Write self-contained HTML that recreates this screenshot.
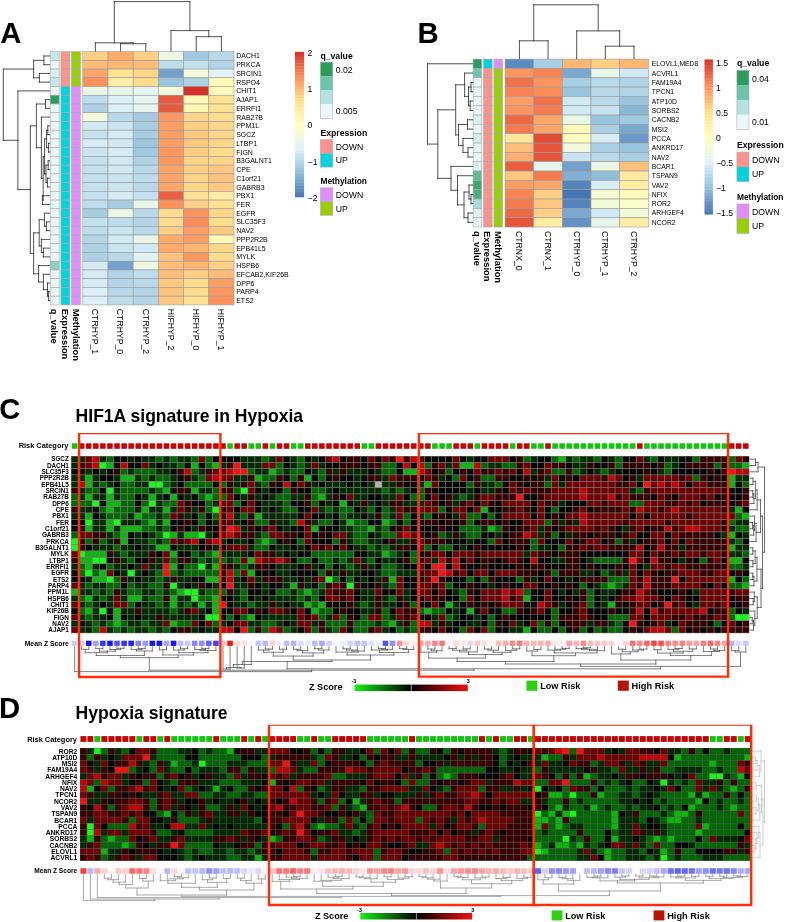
<!DOCTYPE html>
<html><head><meta charset="utf-8"><title>Figure</title>
<style>html,body{margin:0;padding:0;background:#fff}svg{display:block}text{font-family:"Liberation Sans", Arial, Helvetica, sans-serif}</style></head>
<body>
<svg width="785" height="922" viewBox="0 0 785 922" font-family='"Liberation Sans", Arial, Helvetica, sans-serif' fill="#000">
<text x="0.2" y="43.1" font-size="29.3" font-weight="700">A</text>
<rect x="50.2" y="51.6" width="9" height="8.73" fill="#c4e8e9" stroke="#a8a8a8" stroke-width="0.6"/>
<rect x="60.9" y="51.6" width="9" height="8.73" fill="#fc928c" stroke="#a8a8a8" stroke-width="0.6"/>
<rect x="71.5" y="51.6" width="9" height="8.73" fill="#9acd0a" stroke="#a8a8a8" stroke-width="0.6"/>
<rect x="50.2" y="60.34" width="9" height="8.73" fill="#e8f6f8" stroke="#a8a8a8" stroke-width="0.6"/>
<rect x="60.9" y="60.34" width="9" height="8.73" fill="#fc928c" stroke="#a8a8a8" stroke-width="0.6"/>
<rect x="71.5" y="60.34" width="9" height="8.73" fill="#9acd0a" stroke="#a8a8a8" stroke-width="0.6"/>
<rect x="50.2" y="69.07" width="9" height="8.73" fill="#d6eff1" stroke="#a8a8a8" stroke-width="0.6"/>
<rect x="60.9" y="69.07" width="9" height="8.73" fill="#fc928c" stroke="#a8a8a8" stroke-width="0.6"/>
<rect x="71.5" y="69.07" width="9" height="8.73" fill="#9acd0a" stroke="#a8a8a8" stroke-width="0.6"/>
<rect x="50.2" y="77.81" width="9" height="8.73" fill="#c4e8e9" stroke="#a8a8a8" stroke-width="0.6"/>
<rect x="60.9" y="77.81" width="9" height="8.73" fill="#fc928c" stroke="#a8a8a8" stroke-width="0.6"/>
<rect x="71.5" y="77.81" width="9" height="8.73" fill="#9acd0a" stroke="#a8a8a8" stroke-width="0.6"/>
<rect x="50.2" y="86.54" width="9" height="8.73" fill="#e8f6f8" stroke="#a8a8a8" stroke-width="0.6"/>
<rect x="60.9" y="86.54" width="9" height="8.73" fill="#02d3de" stroke="#a8a8a8" stroke-width="0.6"/>
<rect x="71.5" y="86.54" width="9" height="8.73" fill="#df8ffb" stroke="#a8a8a8" stroke-width="0.6"/>
<rect x="50.2" y="95.28" width="9" height="8.73" fill="#2a9d5c" stroke="#a8a8a8" stroke-width="0.6"/>
<rect x="60.9" y="95.28" width="9" height="8.73" fill="#02d3de" stroke="#a8a8a8" stroke-width="0.6"/>
<rect x="71.5" y="95.28" width="9" height="8.73" fill="#df8ffb" stroke="#a8a8a8" stroke-width="0.6"/>
<rect x="50.2" y="104.01" width="9" height="8.73" fill="#e8f6f8" stroke="#a8a8a8" stroke-width="0.6"/>
<rect x="60.9" y="104.01" width="9" height="8.73" fill="#02d3de" stroke="#a8a8a8" stroke-width="0.6"/>
<rect x="71.5" y="104.01" width="9" height="8.73" fill="#df8ffb" stroke="#a8a8a8" stroke-width="0.6"/>
<rect x="50.2" y="112.75" width="9" height="8.73" fill="#e8f6f8" stroke="#a8a8a8" stroke-width="0.6"/>
<rect x="60.9" y="112.75" width="9" height="8.73" fill="#02d3de" stroke="#a8a8a8" stroke-width="0.6"/>
<rect x="71.5" y="112.75" width="9" height="8.73" fill="#df8ffb" stroke="#a8a8a8" stroke-width="0.6"/>
<rect x="50.2" y="121.48" width="9" height="8.73" fill="#e8f6f8" stroke="#a8a8a8" stroke-width="0.6"/>
<rect x="60.9" y="121.48" width="9" height="8.73" fill="#02d3de" stroke="#a8a8a8" stroke-width="0.6"/>
<rect x="71.5" y="121.48" width="9" height="8.73" fill="#df8ffb" stroke="#a8a8a8" stroke-width="0.6"/>
<rect x="50.2" y="130.22" width="9" height="8.73" fill="#e8f6f8" stroke="#a8a8a8" stroke-width="0.6"/>
<rect x="60.9" y="130.22" width="9" height="8.73" fill="#02d3de" stroke="#a8a8a8" stroke-width="0.6"/>
<rect x="71.5" y="130.22" width="9" height="8.73" fill="#df8ffb" stroke="#a8a8a8" stroke-width="0.6"/>
<rect x="50.2" y="138.95" width="9" height="8.73" fill="#e8f6f8" stroke="#a8a8a8" stroke-width="0.6"/>
<rect x="60.9" y="138.95" width="9" height="8.73" fill="#02d3de" stroke="#a8a8a8" stroke-width="0.6"/>
<rect x="71.5" y="138.95" width="9" height="8.73" fill="#df8ffb" stroke="#a8a8a8" stroke-width="0.6"/>
<rect x="50.2" y="147.69" width="9" height="8.73" fill="#e8f6f8" stroke="#a8a8a8" stroke-width="0.6"/>
<rect x="60.9" y="147.69" width="9" height="8.73" fill="#02d3de" stroke="#a8a8a8" stroke-width="0.6"/>
<rect x="71.5" y="147.69" width="9" height="8.73" fill="#df8ffb" stroke="#a8a8a8" stroke-width="0.6"/>
<rect x="50.2" y="156.42" width="9" height="8.73" fill="#e8f6f8" stroke="#a8a8a8" stroke-width="0.6"/>
<rect x="60.9" y="156.42" width="9" height="8.73" fill="#02d3de" stroke="#a8a8a8" stroke-width="0.6"/>
<rect x="71.5" y="156.42" width="9" height="8.73" fill="#df8ffb" stroke="#a8a8a8" stroke-width="0.6"/>
<rect x="50.2" y="165.16" width="9" height="8.73" fill="#e8f6f8" stroke="#a8a8a8" stroke-width="0.6"/>
<rect x="60.9" y="165.16" width="9" height="8.73" fill="#02d3de" stroke="#a8a8a8" stroke-width="0.6"/>
<rect x="71.5" y="165.16" width="9" height="8.73" fill="#df8ffb" stroke="#a8a8a8" stroke-width="0.6"/>
<rect x="50.2" y="173.89" width="9" height="8.73" fill="#e8f6f8" stroke="#a8a8a8" stroke-width="0.6"/>
<rect x="60.9" y="173.89" width="9" height="8.73" fill="#02d3de" stroke="#a8a8a8" stroke-width="0.6"/>
<rect x="71.5" y="173.89" width="9" height="8.73" fill="#df8ffb" stroke="#a8a8a8" stroke-width="0.6"/>
<rect x="50.2" y="182.62" width="9" height="8.73" fill="#e8f6f8" stroke="#a8a8a8" stroke-width="0.6"/>
<rect x="60.9" y="182.62" width="9" height="8.73" fill="#02d3de" stroke="#a8a8a8" stroke-width="0.6"/>
<rect x="71.5" y="182.62" width="9" height="8.73" fill="#df8ffb" stroke="#a8a8a8" stroke-width="0.6"/>
<rect x="50.2" y="191.36" width="9" height="8.73" fill="#e8f6f8" stroke="#a8a8a8" stroke-width="0.6"/>
<rect x="60.9" y="191.36" width="9" height="8.73" fill="#02d3de" stroke="#a8a8a8" stroke-width="0.6"/>
<rect x="71.5" y="191.36" width="9" height="8.73" fill="#df8ffb" stroke="#a8a8a8" stroke-width="0.6"/>
<rect x="50.2" y="200.09" width="9" height="8.73" fill="#e8f6f8" stroke="#a8a8a8" stroke-width="0.6"/>
<rect x="60.9" y="200.09" width="9" height="8.73" fill="#02d3de" stroke="#a8a8a8" stroke-width="0.6"/>
<rect x="71.5" y="200.09" width="9" height="8.73" fill="#df8ffb" stroke="#a8a8a8" stroke-width="0.6"/>
<rect x="50.2" y="208.83" width="9" height="8.73" fill="#e8f6f8" stroke="#a8a8a8" stroke-width="0.6"/>
<rect x="60.9" y="208.83" width="9" height="8.73" fill="#02d3de" stroke="#a8a8a8" stroke-width="0.6"/>
<rect x="71.5" y="208.83" width="9" height="8.73" fill="#df8ffb" stroke="#a8a8a8" stroke-width="0.6"/>
<rect x="50.2" y="217.56" width="9" height="8.73" fill="#e8f6f8" stroke="#a8a8a8" stroke-width="0.6"/>
<rect x="60.9" y="217.56" width="9" height="8.73" fill="#02d3de" stroke="#a8a8a8" stroke-width="0.6"/>
<rect x="71.5" y="217.56" width="9" height="8.73" fill="#df8ffb" stroke="#a8a8a8" stroke-width="0.6"/>
<rect x="50.2" y="226.3" width="9" height="8.73" fill="#e8f6f8" stroke="#a8a8a8" stroke-width="0.6"/>
<rect x="60.9" y="226.3" width="9" height="8.73" fill="#02d3de" stroke="#a8a8a8" stroke-width="0.6"/>
<rect x="71.5" y="226.3" width="9" height="8.73" fill="#df8ffb" stroke="#a8a8a8" stroke-width="0.6"/>
<rect x="50.2" y="235.03" width="9" height="8.73" fill="#e8f6f8" stroke="#a8a8a8" stroke-width="0.6"/>
<rect x="60.9" y="235.03" width="9" height="8.73" fill="#02d3de" stroke="#a8a8a8" stroke-width="0.6"/>
<rect x="71.5" y="235.03" width="9" height="8.73" fill="#df8ffb" stroke="#a8a8a8" stroke-width="0.6"/>
<rect x="50.2" y="243.77" width="9" height="8.73" fill="#e8f6f8" stroke="#a8a8a8" stroke-width="0.6"/>
<rect x="60.9" y="243.77" width="9" height="8.73" fill="#02d3de" stroke="#a8a8a8" stroke-width="0.6"/>
<rect x="71.5" y="243.77" width="9" height="8.73" fill="#df8ffb" stroke="#a8a8a8" stroke-width="0.6"/>
<rect x="50.2" y="252.5" width="9" height="8.73" fill="#e8f6f8" stroke="#a8a8a8" stroke-width="0.6"/>
<rect x="60.9" y="252.5" width="9" height="8.73" fill="#02d3de" stroke="#a8a8a8" stroke-width="0.6"/>
<rect x="71.5" y="252.5" width="9" height="8.73" fill="#df8ffb" stroke="#a8a8a8" stroke-width="0.6"/>
<rect x="50.2" y="261.24" width="9" height="8.73" fill="#8fd0c3" stroke="#a8a8a8" stroke-width="0.6"/>
<rect x="60.9" y="261.24" width="9" height="8.73" fill="#02d3de" stroke="#a8a8a8" stroke-width="0.6"/>
<rect x="71.5" y="261.24" width="9" height="8.73" fill="#df8ffb" stroke="#a8a8a8" stroke-width="0.6"/>
<rect x="50.2" y="269.98" width="9" height="8.73" fill="#e8f6f8" stroke="#a8a8a8" stroke-width="0.6"/>
<rect x="60.9" y="269.98" width="9" height="8.73" fill="#02d3de" stroke="#a8a8a8" stroke-width="0.6"/>
<rect x="71.5" y="269.98" width="9" height="8.73" fill="#df8ffb" stroke="#a8a8a8" stroke-width="0.6"/>
<rect x="50.2" y="278.71" width="9" height="8.73" fill="#e8f6f8" stroke="#a8a8a8" stroke-width="0.6"/>
<rect x="60.9" y="278.71" width="9" height="8.73" fill="#02d3de" stroke="#a8a8a8" stroke-width="0.6"/>
<rect x="71.5" y="278.71" width="9" height="8.73" fill="#df8ffb" stroke="#a8a8a8" stroke-width="0.6"/>
<rect x="50.2" y="287.44" width="9" height="8.73" fill="#e8f6f8" stroke="#a8a8a8" stroke-width="0.6"/>
<rect x="60.9" y="287.44" width="9" height="8.73" fill="#02d3de" stroke="#a8a8a8" stroke-width="0.6"/>
<rect x="71.5" y="287.44" width="9" height="8.73" fill="#df8ffb" stroke="#a8a8a8" stroke-width="0.6"/>
<rect x="50.2" y="296.18" width="9" height="8.73" fill="#e8f6f8" stroke="#a8a8a8" stroke-width="0.6"/>
<rect x="60.9" y="296.18" width="9" height="8.73" fill="#02d3de" stroke="#a8a8a8" stroke-width="0.6"/>
<rect x="71.5" y="296.18" width="9" height="8.73" fill="#df8ffb" stroke="#a8a8a8" stroke-width="0.6"/>
<rect x="82.8" y="51.6" width="25.2" height="8.73" fill="#fecf85" stroke="#9a9a9a" stroke-width="0.6"/>
<rect x="108" y="51.6" width="25.2" height="8.73" fill="#fdaa6c" stroke="#9a9a9a" stroke-width="0.6"/>
<rect x="133.2" y="51.6" width="25.2" height="8.73" fill="#fecf85" stroke="#9a9a9a" stroke-width="0.6"/>
<rect x="158.4" y="51.6" width="25.2" height="8.73" fill="#eaf7e5" stroke="#9a9a9a" stroke-width="0.6"/>
<rect x="183.6" y="51.6" width="25.2" height="8.73" fill="#a1c9e1" stroke="#9a9a9a" stroke-width="0.6"/>
<rect x="208.8" y="51.6" width="25.2" height="8.73" fill="#b8d9ea" stroke="#9a9a9a" stroke-width="0.6"/>
<text x="236.2" y="58.49" font-size="7">DACH1</text>
<rect x="82.8" y="60.34" width="25.2" height="8.73" fill="#fdbd79" stroke="#9a9a9a" stroke-width="0.6"/>
<rect x="108" y="60.34" width="25.2" height="8.73" fill="#fdb674" stroke="#9a9a9a" stroke-width="0.6"/>
<rect x="133.2" y="60.34" width="25.2" height="8.73" fill="#fdbd79" stroke="#9a9a9a" stroke-width="0.6"/>
<rect x="158.4" y="60.34" width="25.2" height="8.73" fill="#beddec" stroke="#9a9a9a" stroke-width="0.6"/>
<rect x="183.6" y="60.34" width="25.2" height="8.73" fill="#c4e1ee" stroke="#9a9a9a" stroke-width="0.6"/>
<rect x="208.8" y="60.34" width="25.2" height="8.73" fill="#b3d5e7" stroke="#9a9a9a" stroke-width="0.6"/>
<text x="236.2" y="67.22" font-size="7">PRKCA</text>
<rect x="82.8" y="69.07" width="25.2" height="8.73" fill="#fda468" stroke="#9a9a9a" stroke-width="0.6"/>
<rect x="108" y="69.07" width="25.2" height="8.73" fill="#fee191" stroke="#9a9a9a" stroke-width="0.6"/>
<rect x="133.2" y="69.07" width="25.2" height="8.73" fill="#fed689" stroke="#9a9a9a" stroke-width="0.6"/>
<rect x="158.4" y="69.07" width="25.2" height="8.73" fill="#73a1cb" stroke="#9a9a9a" stroke-width="0.6"/>
<rect x="183.6" y="69.07" width="25.2" height="8.73" fill="#f1fad9" stroke="#9a9a9a" stroke-width="0.6"/>
<rect x="208.8" y="69.07" width="25.2" height="8.73" fill="#e1f3f7" stroke="#9a9a9a" stroke-width="0.6"/>
<text x="236.2" y="75.96" font-size="7">SRCIN1</text>
<rect x="82.8" y="77.81" width="25.2" height="8.73" fill="#fc915c" stroke="#9a9a9a" stroke-width="0.6"/>
<rect x="108" y="77.81" width="25.2" height="8.73" fill="#feefa6" stroke="#9a9a9a" stroke-width="0.6"/>
<rect x="133.2" y="77.81" width="25.2" height="8.73" fill="#fedc8d" stroke="#9a9a9a" stroke-width="0.6"/>
<rect x="158.4" y="77.81" width="25.2" height="8.73" fill="#9bc6df" stroke="#9a9a9a" stroke-width="0.6"/>
<rect x="183.6" y="77.81" width="25.2" height="8.73" fill="#add1e5" stroke="#9a9a9a" stroke-width="0.6"/>
<rect x="208.8" y="77.81" width="25.2" height="8.73" fill="#fffab8" stroke="#9a9a9a" stroke-width="0.6"/>
<text x="236.2" y="84.69" font-size="7">RSPO4</text>
<rect x="82.8" y="86.54" width="25.2" height="8.73" fill="#eaf7e5" stroke="#9a9a9a" stroke-width="0.6"/>
<rect x="108" y="86.54" width="25.2" height="8.73" fill="#e8f6ea" stroke="#9a9a9a" stroke-width="0.6"/>
<rect x="133.2" y="86.54" width="25.2" height="8.73" fill="#e5f5ee" stroke="#9a9a9a" stroke-width="0.6"/>
<rect x="158.4" y="86.54" width="25.2" height="8.73" fill="#f1fad9" stroke="#9a9a9a" stroke-width="0.6"/>
<rect x="183.6" y="86.54" width="25.2" height="8.73" fill="#d73027" stroke="#9a9a9a" stroke-width="0.6"/>
<rect x="208.8" y="86.54" width="25.2" height="8.73" fill="#fffab8" stroke="#9a9a9a" stroke-width="0.6"/>
<text x="236.2" y="93.43" font-size="7">CHIT1</text>
<rect x="82.8" y="95.28" width="25.2" height="8.73" fill="#beddec" stroke="#9a9a9a" stroke-width="0.6"/>
<rect x="108" y="95.28" width="25.2" height="8.73" fill="#dcf0f7" stroke="#9a9a9a" stroke-width="0.6"/>
<rect x="133.2" y="95.28" width="25.2" height="8.73" fill="#e3f4f2" stroke="#9a9a9a" stroke-width="0.6"/>
<rect x="158.4" y="95.28" width="25.2" height="8.73" fill="#e85a3d" stroke="#9a9a9a" stroke-width="0.6"/>
<rect x="183.6" y="95.28" width="25.2" height="8.73" fill="#fff8b4" stroke="#9a9a9a" stroke-width="0.6"/>
<rect x="208.8" y="95.28" width="25.2" height="8.73" fill="#fee191" stroke="#9a9a9a" stroke-width="0.6"/>
<text x="236.2" y="102.16" font-size="7">AJAP1</text>
<rect x="82.8" y="104.01" width="25.2" height="8.73" fill="#add1e5" stroke="#9a9a9a" stroke-width="0.6"/>
<rect x="108" y="104.01" width="25.2" height="8.73" fill="#dcf0f7" stroke="#9a9a9a" stroke-width="0.6"/>
<rect x="133.2" y="104.01" width="25.2" height="8.73" fill="#e5f5ee" stroke="#9a9a9a" stroke-width="0.6"/>
<rect x="158.4" y="104.01" width="25.2" height="8.73" fill="#e85a3d" stroke="#9a9a9a" stroke-width="0.6"/>
<rect x="183.6" y="104.01" width="25.2" height="8.73" fill="#fff6b1" stroke="#9a9a9a" stroke-width="0.6"/>
<rect x="208.8" y="104.01" width="25.2" height="8.73" fill="#fee395" stroke="#9a9a9a" stroke-width="0.6"/>
<text x="236.2" y="110.9" font-size="7">ERRFI1</text>
<rect x="82.8" y="112.75" width="25.2" height="8.73" fill="#f1fad9" stroke="#9a9a9a" stroke-width="0.6"/>
<rect x="108" y="112.75" width="25.2" height="8.73" fill="#b8d9ea" stroke="#9a9a9a" stroke-width="0.6"/>
<rect x="133.2" y="112.75" width="25.2" height="8.73" fill="#a1c9e1" stroke="#9a9a9a" stroke-width="0.6"/>
<rect x="158.4" y="112.75" width="25.2" height="8.73" fill="#fc9760" stroke="#9a9a9a" stroke-width="0.6"/>
<rect x="183.6" y="112.75" width="25.2" height="8.73" fill="#fed689" stroke="#9a9a9a" stroke-width="0.6"/>
<rect x="208.8" y="112.75" width="25.2" height="8.73" fill="#fedc8d" stroke="#9a9a9a" stroke-width="0.6"/>
<text x="236.2" y="119.63" font-size="7">RAB27B</text>
<rect x="82.8" y="121.48" width="25.2" height="8.73" fill="#d0e9f2" stroke="#9a9a9a" stroke-width="0.6"/>
<rect x="108" y="121.48" width="25.2" height="8.73" fill="#cae5f0" stroke="#9a9a9a" stroke-width="0.6"/>
<rect x="133.2" y="121.48" width="25.2" height="8.73" fill="#a7cde3" stroke="#9a9a9a" stroke-width="0.6"/>
<rect x="158.4" y="121.48" width="25.2" height="8.73" fill="#fc9e64" stroke="#9a9a9a" stroke-width="0.6"/>
<rect x="183.6" y="121.48" width="25.2" height="8.73" fill="#fecf85" stroke="#9a9a9a" stroke-width="0.6"/>
<rect x="208.8" y="121.48" width="25.2" height="8.73" fill="#fed689" stroke="#9a9a9a" stroke-width="0.6"/>
<text x="236.2" y="128.37" font-size="7">PPM1L</text>
<rect x="82.8" y="130.22" width="25.2" height="8.73" fill="#c4e1ee" stroke="#9a9a9a" stroke-width="0.6"/>
<rect x="108" y="130.22" width="25.2" height="8.73" fill="#d6ecf4" stroke="#9a9a9a" stroke-width="0.6"/>
<rect x="133.2" y="130.22" width="25.2" height="8.73" fill="#a7cde3" stroke="#9a9a9a" stroke-width="0.6"/>
<rect x="158.4" y="130.22" width="25.2" height="8.73" fill="#fc9e64" stroke="#9a9a9a" stroke-width="0.6"/>
<rect x="183.6" y="130.22" width="25.2" height="8.73" fill="#fdc981" stroke="#9a9a9a" stroke-width="0.6"/>
<rect x="208.8" y="130.22" width="25.2" height="8.73" fill="#fed689" stroke="#9a9a9a" stroke-width="0.6"/>
<text x="236.2" y="137.1" font-size="7">SGCZ</text>
<rect x="82.8" y="138.95" width="25.2" height="8.73" fill="#d6ecf4" stroke="#9a9a9a" stroke-width="0.6"/>
<rect x="108" y="138.95" width="25.2" height="8.73" fill="#d0e9f2" stroke="#9a9a9a" stroke-width="0.6"/>
<rect x="133.2" y="138.95" width="25.2" height="8.73" fill="#9bc6df" stroke="#9a9a9a" stroke-width="0.6"/>
<rect x="158.4" y="138.95" width="25.2" height="8.73" fill="#fc9e64" stroke="#9a9a9a" stroke-width="0.6"/>
<rect x="183.6" y="138.95" width="25.2" height="8.73" fill="#fdc981" stroke="#9a9a9a" stroke-width="0.6"/>
<rect x="208.8" y="138.95" width="25.2" height="8.73" fill="#fed689" stroke="#9a9a9a" stroke-width="0.6"/>
<text x="236.2" y="145.84" font-size="7">LTBP1</text>
<rect x="82.8" y="147.69" width="25.2" height="8.73" fill="#cae5f0" stroke="#9a9a9a" stroke-width="0.6"/>
<rect x="108" y="147.69" width="25.2" height="8.73" fill="#d6ecf4" stroke="#9a9a9a" stroke-width="0.6"/>
<rect x="133.2" y="147.69" width="25.2" height="8.73" fill="#a1c9e1" stroke="#9a9a9a" stroke-width="0.6"/>
<rect x="158.4" y="147.69" width="25.2" height="8.73" fill="#fc9760" stroke="#9a9a9a" stroke-width="0.6"/>
<rect x="183.6" y="147.69" width="25.2" height="8.73" fill="#fecf85" stroke="#9a9a9a" stroke-width="0.6"/>
<rect x="208.8" y="147.69" width="25.2" height="8.73" fill="#fedc8d" stroke="#9a9a9a" stroke-width="0.6"/>
<text x="236.2" y="154.57" font-size="7">FIGN</text>
<rect x="82.8" y="156.42" width="25.2" height="8.73" fill="#c4e1ee" stroke="#9a9a9a" stroke-width="0.6"/>
<rect x="108" y="156.42" width="25.2" height="8.73" fill="#d0e9f2" stroke="#9a9a9a" stroke-width="0.6"/>
<rect x="133.2" y="156.42" width="25.2" height="8.73" fill="#add1e5" stroke="#9a9a9a" stroke-width="0.6"/>
<rect x="158.4" y="156.42" width="25.2" height="8.73" fill="#fc9760" stroke="#9a9a9a" stroke-width="0.6"/>
<rect x="183.6" y="156.42" width="25.2" height="8.73" fill="#fed689" stroke="#9a9a9a" stroke-width="0.6"/>
<rect x="208.8" y="156.42" width="25.2" height="8.73" fill="#fed689" stroke="#9a9a9a" stroke-width="0.6"/>
<text x="236.2" y="163.31" font-size="7">B3GALNT1</text>
<rect x="82.8" y="165.16" width="25.2" height="8.73" fill="#c4e1ee" stroke="#9a9a9a" stroke-width="0.6"/>
<rect x="108" y="165.16" width="25.2" height="8.73" fill="#d0e9f2" stroke="#9a9a9a" stroke-width="0.6"/>
<rect x="133.2" y="165.16" width="25.2" height="8.73" fill="#b8d9ea" stroke="#9a9a9a" stroke-width="0.6"/>
<rect x="158.4" y="165.16" width="25.2" height="8.73" fill="#fda468" stroke="#9a9a9a" stroke-width="0.6"/>
<rect x="183.6" y="165.16" width="25.2" height="8.73" fill="#fecf85" stroke="#9a9a9a" stroke-width="0.6"/>
<rect x="208.8" y="165.16" width="25.2" height="8.73" fill="#fdc981" stroke="#9a9a9a" stroke-width="0.6"/>
<text x="236.2" y="172.04" font-size="7">CPE</text>
<rect x="82.8" y="173.89" width="25.2" height="8.73" fill="#c4e1ee" stroke="#9a9a9a" stroke-width="0.6"/>
<rect x="108" y="173.89" width="25.2" height="8.73" fill="#cae5f0" stroke="#9a9a9a" stroke-width="0.6"/>
<rect x="133.2" y="173.89" width="25.2" height="8.73" fill="#beddec" stroke="#9a9a9a" stroke-width="0.6"/>
<rect x="158.4" y="173.89" width="25.2" height="8.73" fill="#fda468" stroke="#9a9a9a" stroke-width="0.6"/>
<rect x="183.6" y="173.89" width="25.2" height="8.73" fill="#fed689" stroke="#9a9a9a" stroke-width="0.6"/>
<rect x="208.8" y="173.89" width="25.2" height="8.73" fill="#fdc37d" stroke="#9a9a9a" stroke-width="0.6"/>
<text x="236.2" y="180.78" font-size="7">C1orf21</text>
<rect x="82.8" y="182.62" width="25.2" height="8.73" fill="#c4e1ee" stroke="#9a9a9a" stroke-width="0.6"/>
<rect x="108" y="182.62" width="25.2" height="8.73" fill="#cae5f0" stroke="#9a9a9a" stroke-width="0.6"/>
<rect x="133.2" y="182.62" width="25.2" height="8.73" fill="#b8d9ea" stroke="#9a9a9a" stroke-width="0.6"/>
<rect x="158.4" y="182.62" width="25.2" height="8.73" fill="#fda468" stroke="#9a9a9a" stroke-width="0.6"/>
<rect x="183.6" y="182.62" width="25.2" height="8.73" fill="#fed689" stroke="#9a9a9a" stroke-width="0.6"/>
<rect x="208.8" y="182.62" width="25.2" height="8.73" fill="#fdc981" stroke="#9a9a9a" stroke-width="0.6"/>
<text x="236.2" y="189.51" font-size="7">GABRB3</text>
<rect x="82.8" y="191.36" width="25.2" height="8.73" fill="#c4e1ee" stroke="#9a9a9a" stroke-width="0.6"/>
<rect x="108" y="191.36" width="25.2" height="8.73" fill="#d6ecf4" stroke="#9a9a9a" stroke-width="0.6"/>
<rect x="133.2" y="191.36" width="25.2" height="8.73" fill="#c4e1ee" stroke="#9a9a9a" stroke-width="0.6"/>
<rect x="158.4" y="191.36" width="25.2" height="8.73" fill="#ea6141" stroke="#9a9a9a" stroke-width="0.6"/>
<rect x="183.6" y="191.36" width="25.2" height="8.73" fill="#fee395" stroke="#9a9a9a" stroke-width="0.6"/>
<rect x="208.8" y="191.36" width="25.2" height="8.73" fill="#feeca3" stroke="#9a9a9a" stroke-width="0.6"/>
<text x="236.2" y="198.25" font-size="7">PBX1</text>
<rect x="82.8" y="200.09" width="25.2" height="8.73" fill="#beddec" stroke="#9a9a9a" stroke-width="0.6"/>
<rect x="108" y="200.09" width="25.2" height="8.73" fill="#a7cde3" stroke="#9a9a9a" stroke-width="0.6"/>
<rect x="133.2" y="200.09" width="25.2" height="8.73" fill="#e8f6ea" stroke="#9a9a9a" stroke-width="0.6"/>
<rect x="158.4" y="200.09" width="25.2" height="8.73" fill="#fc915c" stroke="#9a9a9a" stroke-width="0.6"/>
<rect x="183.6" y="200.09" width="25.2" height="8.73" fill="#fecf85" stroke="#9a9a9a" stroke-width="0.6"/>
<rect x="208.8" y="200.09" width="25.2" height="8.73" fill="#fee191" stroke="#9a9a9a" stroke-width="0.6"/>
<text x="236.2" y="206.98" font-size="7">FER</text>
<rect x="82.8" y="208.83" width="25.2" height="8.73" fill="#a7cde3" stroke="#9a9a9a" stroke-width="0.6"/>
<rect x="108" y="208.83" width="25.2" height="8.73" fill="#eaf7e5" stroke="#9a9a9a" stroke-width="0.6"/>
<rect x="133.2" y="208.83" width="25.2" height="8.73" fill="#b8d9ea" stroke="#9a9a9a" stroke-width="0.6"/>
<rect x="158.4" y="208.83" width="25.2" height="8.73" fill="#fedc8d" stroke="#9a9a9a" stroke-width="0.6"/>
<rect x="183.6" y="208.83" width="25.2" height="8.73" fill="#fc915c" stroke="#9a9a9a" stroke-width="0.6"/>
<rect x="208.8" y="208.83" width="25.2" height="8.73" fill="#fed689" stroke="#9a9a9a" stroke-width="0.6"/>
<text x="236.2" y="215.72" font-size="7">EGFR</text>
<rect x="82.8" y="217.56" width="25.2" height="8.73" fill="#c4e1ee" stroke="#9a9a9a" stroke-width="0.6"/>
<rect x="108" y="217.56" width="25.2" height="8.73" fill="#beddec" stroke="#9a9a9a" stroke-width="0.6"/>
<rect x="133.2" y="217.56" width="25.2" height="8.73" fill="#b3d5e7" stroke="#9a9a9a" stroke-width="0.6"/>
<rect x="158.4" y="217.56" width="25.2" height="8.73" fill="#fedc8d" stroke="#9a9a9a" stroke-width="0.6"/>
<rect x="183.6" y="217.56" width="25.2" height="8.73" fill="#fb8b58" stroke="#9a9a9a" stroke-width="0.6"/>
<rect x="208.8" y="217.56" width="25.2" height="8.73" fill="#fedc8d" stroke="#9a9a9a" stroke-width="0.6"/>
<text x="236.2" y="224.45" font-size="7">SLC35F3</text>
<rect x="82.8" y="226.3" width="25.2" height="8.73" fill="#beddec" stroke="#9a9a9a" stroke-width="0.6"/>
<rect x="108" y="226.3" width="25.2" height="8.73" fill="#cae5f0" stroke="#9a9a9a" stroke-width="0.6"/>
<rect x="133.2" y="226.3" width="25.2" height="8.73" fill="#b8d9ea" stroke="#9a9a9a" stroke-width="0.6"/>
<rect x="158.4" y="226.3" width="25.2" height="8.73" fill="#fecf85" stroke="#9a9a9a" stroke-width="0.6"/>
<rect x="183.6" y="226.3" width="25.2" height="8.73" fill="#fc9e64" stroke="#9a9a9a" stroke-width="0.6"/>
<rect x="208.8" y="226.3" width="25.2" height="8.73" fill="#fdc981" stroke="#9a9a9a" stroke-width="0.6"/>
<text x="236.2" y="233.19" font-size="7">NAV2</text>
<rect x="82.8" y="235.03" width="25.2" height="8.73" fill="#b3d5e7" stroke="#9a9a9a" stroke-width="0.6"/>
<rect x="108" y="235.03" width="25.2" height="8.73" fill="#d0e9f2" stroke="#9a9a9a" stroke-width="0.6"/>
<rect x="133.2" y="235.03" width="25.2" height="8.73" fill="#e8f6ea" stroke="#9a9a9a" stroke-width="0.6"/>
<rect x="158.4" y="235.03" width="25.2" height="8.73" fill="#fdaa6c" stroke="#9a9a9a" stroke-width="0.6"/>
<rect x="183.6" y="235.03" width="25.2" height="8.73" fill="#fc9e64" stroke="#9a9a9a" stroke-width="0.6"/>
<rect x="208.8" y="235.03" width="25.2" height="8.73" fill="#fff8b4" stroke="#9a9a9a" stroke-width="0.6"/>
<text x="236.2" y="241.92" font-size="7">PPP2R2B</text>
<rect x="82.8" y="243.77" width="25.2" height="8.73" fill="#add1e5" stroke="#9a9a9a" stroke-width="0.6"/>
<rect x="108" y="243.77" width="25.2" height="8.73" fill="#cae5f0" stroke="#9a9a9a" stroke-width="0.6"/>
<rect x="133.2" y="243.77" width="25.2" height="8.73" fill="#d0e9f2" stroke="#9a9a9a" stroke-width="0.6"/>
<rect x="158.4" y="243.77" width="25.2" height="8.73" fill="#fdaa6c" stroke="#9a9a9a" stroke-width="0.6"/>
<rect x="183.6" y="243.77" width="25.2" height="8.73" fill="#fdb674" stroke="#9a9a9a" stroke-width="0.6"/>
<rect x="208.8" y="243.77" width="25.2" height="8.73" fill="#fed689" stroke="#9a9a9a" stroke-width="0.6"/>
<text x="236.2" y="250.66" font-size="7">EPB41L5</text>
<rect x="82.8" y="252.5" width="25.2" height="8.73" fill="#add1e5" stroke="#9a9a9a" stroke-width="0.6"/>
<rect x="108" y="252.5" width="25.2" height="8.73" fill="#b8d9ea" stroke="#9a9a9a" stroke-width="0.6"/>
<rect x="133.2" y="252.5" width="25.2" height="8.73" fill="#e1f3f7" stroke="#9a9a9a" stroke-width="0.6"/>
<rect x="158.4" y="252.5" width="25.2" height="8.73" fill="#fdc37d" stroke="#9a9a9a" stroke-width="0.6"/>
<rect x="183.6" y="252.5" width="25.2" height="8.73" fill="#fc9760" stroke="#9a9a9a" stroke-width="0.6"/>
<rect x="208.8" y="252.5" width="25.2" height="8.73" fill="#fedc8d" stroke="#9a9a9a" stroke-width="0.6"/>
<text x="236.2" y="259.39" font-size="7">MYLK</text>
<rect x="82.8" y="261.24" width="25.2" height="8.73" fill="#d6ecf4" stroke="#9a9a9a" stroke-width="0.6"/>
<rect x="108" y="261.24" width="25.2" height="8.73" fill="#73a1cb" stroke="#9a9a9a" stroke-width="0.6"/>
<rect x="133.2" y="261.24" width="25.2" height="8.73" fill="#ecf8e1" stroke="#9a9a9a" stroke-width="0.6"/>
<rect x="158.4" y="261.24" width="25.2" height="8.73" fill="#fdbd79" stroke="#9a9a9a" stroke-width="0.6"/>
<rect x="183.6" y="261.24" width="25.2" height="8.73" fill="#fdb674" stroke="#9a9a9a" stroke-width="0.6"/>
<rect x="208.8" y="261.24" width="25.2" height="8.73" fill="#fecf85" stroke="#9a9a9a" stroke-width="0.6"/>
<text x="236.2" y="268.13" font-size="7">HSPB6</text>
<rect x="82.8" y="269.98" width="25.2" height="8.73" fill="#d6ecf4" stroke="#9a9a9a" stroke-width="0.6"/>
<rect x="108" y="269.98" width="25.2" height="8.73" fill="#b3d5e7" stroke="#9a9a9a" stroke-width="0.6"/>
<rect x="133.2" y="269.98" width="25.2" height="8.73" fill="#beddec" stroke="#9a9a9a" stroke-width="0.6"/>
<rect x="158.4" y="269.98" width="25.2" height="8.73" fill="#fdbd79" stroke="#9a9a9a" stroke-width="0.6"/>
<rect x="183.6" y="269.98" width="25.2" height="8.73" fill="#fecf85" stroke="#9a9a9a" stroke-width="0.6"/>
<rect x="208.8" y="269.98" width="25.2" height="8.73" fill="#fdbd79" stroke="#9a9a9a" stroke-width="0.6"/>
<text x="236.2" y="276.86" font-size="7">EFCAB2,KIF26B</text>
<rect x="82.8" y="278.71" width="25.2" height="8.73" fill="#d6ecf4" stroke="#9a9a9a" stroke-width="0.6"/>
<rect x="108" y="278.71" width="25.2" height="8.73" fill="#b3d5e7" stroke="#9a9a9a" stroke-width="0.6"/>
<rect x="133.2" y="278.71" width="25.2" height="8.73" fill="#b8d9ea" stroke="#9a9a9a" stroke-width="0.6"/>
<rect x="158.4" y="278.71" width="25.2" height="8.73" fill="#fdc981" stroke="#9a9a9a" stroke-width="0.6"/>
<rect x="183.6" y="278.71" width="25.2" height="8.73" fill="#fedc8d" stroke="#9a9a9a" stroke-width="0.6"/>
<rect x="208.8" y="278.71" width="25.2" height="8.73" fill="#fc9e64" stroke="#9a9a9a" stroke-width="0.6"/>
<text x="236.2" y="285.6" font-size="7">DPP6</text>
<rect x="82.8" y="287.44" width="25.2" height="8.73" fill="#dcf0f7" stroke="#9a9a9a" stroke-width="0.6"/>
<rect x="108" y="287.44" width="25.2" height="8.73" fill="#b8d9ea" stroke="#9a9a9a" stroke-width="0.6"/>
<rect x="133.2" y="287.44" width="25.2" height="8.73" fill="#b3d5e7" stroke="#9a9a9a" stroke-width="0.6"/>
<rect x="158.4" y="287.44" width="25.2" height="8.73" fill="#fdc37d" stroke="#9a9a9a" stroke-width="0.6"/>
<rect x="183.6" y="287.44" width="25.2" height="8.73" fill="#fedc8d" stroke="#9a9a9a" stroke-width="0.6"/>
<rect x="208.8" y="287.44" width="25.2" height="8.73" fill="#fc9760" stroke="#9a9a9a" stroke-width="0.6"/>
<text x="236.2" y="294.33" font-size="7">PARP4</text>
<rect x="82.8" y="296.18" width="25.2" height="8.73" fill="#dcf0f7" stroke="#9a9a9a" stroke-width="0.6"/>
<rect x="108" y="296.18" width="25.2" height="8.73" fill="#beddec" stroke="#9a9a9a" stroke-width="0.6"/>
<rect x="133.2" y="296.18" width="25.2" height="8.73" fill="#b3d5e7" stroke="#9a9a9a" stroke-width="0.6"/>
<rect x="158.4" y="296.18" width="25.2" height="8.73" fill="#fdc981" stroke="#9a9a9a" stroke-width="0.6"/>
<rect x="183.6" y="296.18" width="25.2" height="8.73" fill="#fee191" stroke="#9a9a9a" stroke-width="0.6"/>
<rect x="208.8" y="296.18" width="25.2" height="8.73" fill="#fc915c" stroke="#9a9a9a" stroke-width="0.6"/>
<text x="236.2" y="303.07" font-size="7">ETS2</text>
<text transform="translate(92.27 308.8) rotate(90)" font-size="8.7">CTRHYP_1</text>
<text transform="translate(117.47 308.8) rotate(90)" font-size="8.7">CTRHYP_0</text>
<text transform="translate(142.67 308.8) rotate(90)" font-size="8.7">CTRHYP_2</text>
<text transform="translate(167.87 308.8) rotate(90)" font-size="8.7">HIFHYP_2</text>
<text transform="translate(193.07 308.8) rotate(90)" font-size="8.7">HIFHYP_0</text>
<text transform="translate(218.27 308.8) rotate(90)" font-size="8.7">HIFHYP_1</text>
<text transform="translate(51.32 308.8) rotate(90)" font-size="9.4" font-weight="700">q_value</text>
<text transform="translate(62.02 308.8) rotate(90)" font-size="9.4" font-weight="700">Expression</text>
<text transform="translate(72.62 308.8) rotate(90)" font-size="9.4" font-weight="700">Methylation</text>
<path d="M120.6 51L120.6 43.7M145.8 51L145.8 43.7M120.6 43.7L145.8 43.7M95.4 51L95.4 42.8M133.2 43.7L133.2 42.8M95.4 42.8L133.2 42.8M196.2 51L196.2 36.7M221.4 51L221.4 36.7M196.2 36.7L221.4 36.7M171 51L171 30.6M208.8 36.7L208.8 30.6M171 30.6L208.8 30.6M114.3 42.8L114.3 1.6M189.9 30.6L189.9 1.6M114.3 1.6L189.9 1.6M49.6 55.97L43.9 55.97M49.6 64.7L43.9 64.7M43.9 55.97L43.9 64.7M49.6 73.44L39.4 73.44M49.6 82.17L39.4 82.17M39.4 73.44L39.4 82.17M43.9 60.34L33.6 60.34M39.4 77.81L33.6 77.81M33.6 60.34L33.6 77.81M49.6 99.64L45.5 99.64M49.6 108.38L45.5 108.38M45.5 99.64L45.5 108.38M49.6 125.85L47.8 125.85M49.6 134.58L47.8 134.58M47.8 125.85L47.8 134.58M49.6 143.32L48.6 143.32M49.6 152.05L48.6 152.05M48.6 143.32L48.6 152.05M47.8 130.21L46.6 130.21M48.6 147.69L46.6 147.69M46.6 130.21L46.6 147.69M49.6 160.79L48.2 160.79M49.6 169.52L48.2 169.52M48.2 160.79L48.2 169.52M49.6 178.26L47.4 178.26M49.6 186.99L47.4 186.99M47.4 178.26L47.4 186.99M48.2 165.15L46 165.15M47.4 182.62L46 182.62M46 165.15L46 182.62M46.6 138.95L44.6 138.95M46 173.89L44.6 173.89M44.6 138.95L44.6 173.89M49.6 195.73L42.4 195.73M49.6 204.46L42.4 204.46M42.4 195.73L42.4 204.46M44.6 156.42L43.2 156.42M42.4 200.09L43.2 200.09M43.2 156.42L43.2 200.09M49.6 117.11L41.4 117.11M43.2 178.26L41.4 178.26M41.4 117.11L41.4 178.26M45.5 104.01L36.4 104.01M41.4 147.69L36.4 147.69M36.4 104.01L36.4 147.69M49.6 221.93L46.4 221.93M49.6 230.67L46.4 230.67M46.4 221.93L46.4 230.67M49.6 213.2L44.4 213.2M46.4 226.3L44.4 226.3M44.4 213.2L44.4 226.3M49.6 248.14L43.4 248.14M49.6 256.87L43.4 256.87M43.4 248.14L43.4 256.87M49.6 239.4L41.4 239.4M43.4 252.5L41.4 252.5M41.4 239.4L41.4 252.5M44.4 219.75L39.2 219.75M41.4 245.95L39.2 245.95M39.2 219.75L39.2 245.95M49.6 291.81L48.6 291.81M49.6 300.55L48.6 300.55M48.6 291.81L48.6 300.55M49.6 283.08L47.5 283.08M48.6 296.18L47.5 296.18M47.5 283.08L47.5 296.18M49.6 274.34L43.4 274.34M47.5 289.63L43.4 289.63M43.4 274.34L43.4 289.63M49.6 265.61L38.6 265.61M43.4 281.99L38.6 281.99M38.6 265.61L38.6 281.99M39.2 232.85L33.6 232.85M38.6 273.8L33.6 273.8M33.6 232.85L33.6 273.8M36.4 125.85L30.3 125.85M33.6 253.32L30.3 253.32M30.3 125.85L30.3 253.32M49.6 90.91L17.9 90.91M30.3 189.59L17.9 189.59M17.9 90.91L17.9 189.59M33.6 69.07L3.3 69.07M17.9 140.25L3.3 140.25M3.3 69.07L3.3 140.25" stroke="#1a1a1a" stroke-width="0.75" fill="none" stroke-linecap="square"/>
<rect x="295" y="51.8" width="9.1" height="3.2" fill="#d9362a"/>
<rect x="295" y="54.7" width="9.1" height="3.2" fill="#de4130"/>
<rect x="295" y="57.61" width="9.1" height="3.2" fill="#e24c36"/>
<rect x="295" y="60.51" width="9.1" height="3.2" fill="#e7573c"/>
<rect x="295" y="63.42" width="9.1" height="3.2" fill="#eb6242"/>
<rect x="295" y="66.32" width="9.1" height="3.2" fill="#ef6d48"/>
<rect x="295" y="69.22" width="9.1" height="3.2" fill="#f4794e"/>
<rect x="295" y="72.13" width="9.1" height="3.2" fill="#f88454"/>
<rect x="295" y="75.03" width="9.1" height="3.2" fill="#fc8f5a"/>
<rect x="295" y="77.94" width="9.1" height="3.2" fill="#fc9961"/>
<rect x="295" y="80.84" width="9.1" height="3.2" fill="#fda367"/>
<rect x="295" y="83.74" width="9.1" height="3.2" fill="#fdad6e"/>
<rect x="295" y="86.65" width="9.1" height="3.2" fill="#fdb674"/>
<rect x="295" y="89.55" width="9.1" height="3.2" fill="#fdc07b"/>
<rect x="295" y="92.46" width="9.1" height="3.2" fill="#fdca82"/>
<rect x="295" y="95.36" width="9.1" height="3.2" fill="#fed488"/>
<rect x="295" y="98.26" width="9.1" height="3.2" fill="#fede8f"/>
<rect x="295" y="101.17" width="9.1" height="3.2" fill="#fee395"/>
<rect x="295" y="104.07" width="9.1" height="3.2" fill="#fee79a"/>
<rect x="295" y="106.98" width="9.1" height="3.2" fill="#feeba0"/>
<rect x="295" y="109.88" width="9.1" height="3.2" fill="#feeea6"/>
<rect x="295" y="112.78" width="9.1" height="3.2" fill="#fff2ab"/>
<rect x="295" y="115.69" width="9.1" height="3.2" fill="#fff6b1"/>
<rect x="295" y="118.59" width="9.1" height="3.2" fill="#fff9b7"/>
<rect x="295" y="121.5" width="9.1" height="3.2" fill="#fffdbc"/>
<rect x="295" y="124.4" width="9.1" height="3.2" fill="#fdfec2"/>
<rect x="295" y="127.3" width="9.1" height="3.2" fill="#f9fdc9"/>
<rect x="295" y="130.21" width="9.1" height="3.2" fill="#f6fbd0"/>
<rect x="295" y="133.11" width="9.1" height="3.2" fill="#f2fad7"/>
<rect x="295" y="136.02" width="9.1" height="3.2" fill="#eef9de"/>
<rect x="295" y="138.92" width="9.1" height="3.2" fill="#ebf7e5"/>
<rect x="295" y="141.82" width="9.1" height="3.2" fill="#e7f6eb"/>
<rect x="295" y="144.73" width="9.1" height="3.2" fill="#e3f4f2"/>
<rect x="295" y="147.63" width="9.1" height="3.2" fill="#def2f7"/>
<rect x="295" y="150.54" width="9.1" height="3.2" fill="#d5ecf4"/>
<rect x="295" y="153.44" width="9.1" height="3.2" fill="#cbe5f0"/>
<rect x="295" y="156.34" width="9.1" height="3.2" fill="#c2dfed"/>
<rect x="295" y="159.25" width="9.1" height="3.2" fill="#b8d9ea"/>
<rect x="295" y="162.15" width="9.1" height="3.2" fill="#afd3e6"/>
<rect x="295" y="165.06" width="9.1" height="3.2" fill="#a6cde3"/>
<rect x="295" y="167.96" width="9.1" height="3.2" fill="#9cc6df"/>
<rect x="295" y="170.86" width="9.1" height="3.2" fill="#93c0dc"/>
<rect x="295" y="173.77" width="9.1" height="3.2" fill="#89b8d7"/>
<rect x="295" y="176.67" width="9.1" height="3.2" fill="#80afd2"/>
<rect x="295" y="179.58" width="9.1" height="3.2" fill="#77a6ce"/>
<rect x="295" y="182.48" width="9.1" height="3.2" fill="#6e9dc9"/>
<rect x="295" y="185.38" width="9.1" height="3.2" fill="#6594c4"/>
<rect x="295" y="188.29" width="9.1" height="3.2" fill="#5c8bc0"/>
<rect x="295" y="191.19" width="9.1" height="3.2" fill="#5382bb"/>
<rect x="295" y="194.1" width="9.1" height="3.2" fill="#4a79b6"/>
<text x="307.6" y="56" font-size="8.7">2</text>
<text x="307.6" y="92.3" font-size="8.7">1</text>
<text x="307.6" y="128.3" font-size="8.7">0</text>
<text x="307.6" y="164.5" font-size="8.7">−1</text>
<text x="307.6" y="201.2" font-size="8.7">−2</text>
<text x="320.4" y="58.7" font-size="8.7" font-weight="700">q_value</text>
<rect x="320.4" y="62.1" width="12.4" height="14.25" fill="#2a9d5c"/>
<rect x="320.4" y="76.15" width="12.4" height="14.25" fill="#6cc4aa"/>
<rect x="320.4" y="90.2" width="12.4" height="14.25" fill="#b4e2e0"/>
<rect x="320.4" y="104.25" width="12.4" height="14.25" fill="#ecf7f9"/>
<rect x="320.4" y="62.1" width="12.4" height="56.2" fill="none" stroke="#b0b0b0" stroke-width="0.6"/>
<text x="335.8" y="72.96" font-size="8.7">0.02</text>
<text x="335.8" y="114.41" font-size="8.7">0.005</text>
<text x="320.4" y="135.5" font-size="8.7" font-weight="700">Expression</text>
<rect x="320.4" y="139.6" width="12.4" height="13.75" fill="#fc928c" stroke="#b0b0b0" stroke-width="0.6"/>
<text x="335.8" y="149.61" font-size="8.7">DOWN</text>
<rect x="320.4" y="153.35" width="12.4" height="13.75" fill="#02d3de" stroke="#b0b0b0" stroke-width="0.6"/>
<text x="335.8" y="163.36" font-size="8.7">UP</text>
<text x="320.4" y="184" font-size="8.7" font-weight="700" textLength="46.6" lengthAdjust="spacingAndGlyphs">Methylation</text>
<rect x="320.4" y="187.8" width="12.4" height="13.75" fill="#df8ffb" stroke="#b0b0b0" stroke-width="0.6"/>
<text x="335.8" y="197.81" font-size="8.7">DOWN</text>
<rect x="320.4" y="201.55" width="12.4" height="13.75" fill="#9acd0a" stroke="#b0b0b0" stroke-width="0.6"/>
<text x="335.8" y="211.56" font-size="8.7">UP</text>
<text x="417.4" y="43.1" font-size="29.3" font-weight="700">B</text>
<rect x="473.1" y="59.1" width="8.6" height="9.33" fill="#2a9d5c" stroke="#a8a8a8" stroke-width="0.6"/>
<rect x="483.5" y="59.1" width="8.6" height="9.33" fill="#02d3de" stroke="#a8a8a8" stroke-width="0.6"/>
<rect x="493.9" y="59.1" width="8.6" height="9.33" fill="#df8ffb" stroke="#a8a8a8" stroke-width="0.6"/>
<rect x="473.1" y="68.43" width="8.6" height="9.33" fill="#70c5ad" stroke="#a8a8a8" stroke-width="0.6"/>
<rect x="483.5" y="68.43" width="8.6" height="9.33" fill="#fc928c" stroke="#a8a8a8" stroke-width="0.6"/>
<rect x="493.9" y="68.43" width="8.6" height="9.33" fill="#9acd0a" stroke="#a8a8a8" stroke-width="0.6"/>
<rect x="473.1" y="77.76" width="8.6" height="9.33" fill="#e8f6f8" stroke="#a8a8a8" stroke-width="0.6"/>
<rect x="483.5" y="77.76" width="8.6" height="9.33" fill="#fc928c" stroke="#a8a8a8" stroke-width="0.6"/>
<rect x="493.9" y="77.76" width="8.6" height="9.33" fill="#9acd0a" stroke="#a8a8a8" stroke-width="0.6"/>
<rect x="473.1" y="87.09" width="8.6" height="9.33" fill="#e8f6f8" stroke="#a8a8a8" stroke-width="0.6"/>
<rect x="483.5" y="87.09" width="8.6" height="9.33" fill="#fc928c" stroke="#a8a8a8" stroke-width="0.6"/>
<rect x="493.9" y="87.09" width="8.6" height="9.33" fill="#9acd0a" stroke="#a8a8a8" stroke-width="0.6"/>
<rect x="473.1" y="96.42" width="8.6" height="9.33" fill="#e8f6f8" stroke="#a8a8a8" stroke-width="0.6"/>
<rect x="483.5" y="96.42" width="8.6" height="9.33" fill="#fc928c" stroke="#a8a8a8" stroke-width="0.6"/>
<rect x="493.9" y="96.42" width="8.6" height="9.33" fill="#9acd0a" stroke="#a8a8a8" stroke-width="0.6"/>
<rect x="473.1" y="105.75" width="8.6" height="9.33" fill="#e8f6f8" stroke="#a8a8a8" stroke-width="0.6"/>
<rect x="483.5" y="105.75" width="8.6" height="9.33" fill="#fc928c" stroke="#a8a8a8" stroke-width="0.6"/>
<rect x="493.9" y="105.75" width="8.6" height="9.33" fill="#9acd0a" stroke="#a8a8a8" stroke-width="0.6"/>
<rect x="473.1" y="115.08" width="8.6" height="9.33" fill="#d8f0f2" stroke="#a8a8a8" stroke-width="0.6"/>
<rect x="483.5" y="115.08" width="8.6" height="9.33" fill="#fc928c" stroke="#a8a8a8" stroke-width="0.6"/>
<rect x="493.9" y="115.08" width="8.6" height="9.33" fill="#9acd0a" stroke="#a8a8a8" stroke-width="0.6"/>
<rect x="473.1" y="124.41" width="8.6" height="9.33" fill="#e8f6f8" stroke="#a8a8a8" stroke-width="0.6"/>
<rect x="483.5" y="124.41" width="8.6" height="9.33" fill="#fc928c" stroke="#a8a8a8" stroke-width="0.6"/>
<rect x="493.9" y="124.41" width="8.6" height="9.33" fill="#9acd0a" stroke="#a8a8a8" stroke-width="0.6"/>
<rect x="473.1" y="133.74" width="8.6" height="9.33" fill="#d0ecee" stroke="#a8a8a8" stroke-width="0.6"/>
<rect x="483.5" y="133.74" width="8.6" height="9.33" fill="#fc928c" stroke="#a8a8a8" stroke-width="0.6"/>
<rect x="493.9" y="133.74" width="8.6" height="9.33" fill="#9acd0a" stroke="#a8a8a8" stroke-width="0.6"/>
<rect x="473.1" y="143.07" width="8.6" height="9.33" fill="#e8f6f8" stroke="#a8a8a8" stroke-width="0.6"/>
<rect x="483.5" y="143.07" width="8.6" height="9.33" fill="#fc928c" stroke="#a8a8a8" stroke-width="0.6"/>
<rect x="493.9" y="143.07" width="8.6" height="9.33" fill="#9acd0a" stroke="#a8a8a8" stroke-width="0.6"/>
<rect x="473.1" y="152.4" width="8.6" height="9.33" fill="#e8f6f8" stroke="#a8a8a8" stroke-width="0.6"/>
<rect x="483.5" y="152.4" width="8.6" height="9.33" fill="#fc928c" stroke="#a8a8a8" stroke-width="0.6"/>
<rect x="493.9" y="152.4" width="8.6" height="9.33" fill="#9acd0a" stroke="#a8a8a8" stroke-width="0.6"/>
<rect x="473.1" y="161.73" width="8.6" height="9.33" fill="#dcf1f4" stroke="#a8a8a8" stroke-width="0.6"/>
<rect x="483.5" y="161.73" width="8.6" height="9.33" fill="#fc928c" stroke="#a8a8a8" stroke-width="0.6"/>
<rect x="493.9" y="161.73" width="8.6" height="9.33" fill="#9acd0a" stroke="#a8a8a8" stroke-width="0.6"/>
<rect x="473.1" y="171.06" width="8.6" height="9.33" fill="#5cbc98" stroke="#a8a8a8" stroke-width="0.6"/>
<rect x="483.5" y="171.06" width="8.6" height="9.33" fill="#fc928c" stroke="#a8a8a8" stroke-width="0.6"/>
<rect x="493.9" y="171.06" width="8.6" height="9.33" fill="#9acd0a" stroke="#a8a8a8" stroke-width="0.6"/>
<rect x="473.1" y="180.39" width="8.6" height="9.33" fill="#3aa870" stroke="#a8a8a8" stroke-width="0.6"/>
<rect x="483.5" y="180.39" width="8.6" height="9.33" fill="#fc928c" stroke="#a8a8a8" stroke-width="0.6"/>
<rect x="493.9" y="180.39" width="8.6" height="9.33" fill="#9acd0a" stroke="#a8a8a8" stroke-width="0.6"/>
<rect x="473.1" y="189.72" width="8.6" height="9.33" fill="#48b080" stroke="#a8a8a8" stroke-width="0.6"/>
<rect x="483.5" y="189.72" width="8.6" height="9.33" fill="#fc928c" stroke="#a8a8a8" stroke-width="0.6"/>
<rect x="493.9" y="189.72" width="8.6" height="9.33" fill="#9acd0a" stroke="#a8a8a8" stroke-width="0.6"/>
<rect x="473.1" y="199.05" width="8.6" height="9.33" fill="#a8dcd8" stroke="#a8a8a8" stroke-width="0.6"/>
<rect x="483.5" y="199.05" width="8.6" height="9.33" fill="#fc928c" stroke="#a8a8a8" stroke-width="0.6"/>
<rect x="493.9" y="199.05" width="8.6" height="9.33" fill="#9acd0a" stroke="#a8a8a8" stroke-width="0.6"/>
<rect x="473.1" y="208.38" width="8.6" height="9.33" fill="#dcf1f4" stroke="#a8a8a8" stroke-width="0.6"/>
<rect x="483.5" y="208.38" width="8.6" height="9.33" fill="#fc928c" stroke="#a8a8a8" stroke-width="0.6"/>
<rect x="493.9" y="208.38" width="8.6" height="9.33" fill="#9acd0a" stroke="#a8a8a8" stroke-width="0.6"/>
<rect x="473.1" y="217.71" width="8.6" height="9.33" fill="#e8f6f8" stroke="#a8a8a8" stroke-width="0.6"/>
<rect x="483.5" y="217.71" width="8.6" height="9.33" fill="#fc928c" stroke="#a8a8a8" stroke-width="0.6"/>
<rect x="493.9" y="217.71" width="8.6" height="9.33" fill="#9acd0a" stroke="#a8a8a8" stroke-width="0.6"/>
<rect x="505.1" y="59.1" width="28.64" height="9.33" fill="#5c8bc0" stroke="#9a9a9a" stroke-width="0.6"/>
<rect x="533.74" y="59.1" width="28.64" height="9.33" fill="#a9cfe4" stroke="#9a9a9a" stroke-width="0.6"/>
<rect x="562.38" y="59.1" width="28.64" height="9.33" fill="#fdb674" stroke="#9a9a9a" stroke-width="0.6"/>
<rect x="591.02" y="59.1" width="28.64" height="9.33" fill="#fecf85" stroke="#9a9a9a" stroke-width="0.6"/>
<rect x="619.66" y="59.1" width="28.64" height="9.33" fill="#fdb674" stroke="#9a9a9a" stroke-width="0.6"/>
<text x="651.8" y="66.21" font-size="6.8">ELOVL1,MED8</text>
<rect x="505.1" y="68.43" width="28.64" height="9.33" fill="#fc955e" stroke="#9a9a9a" stroke-width="0.6"/>
<rect x="533.74" y="68.43" width="28.64" height="9.33" fill="#f88454" stroke="#9a9a9a" stroke-width="0.6"/>
<rect x="562.38" y="68.43" width="28.64" height="9.33" fill="#7aa9cf" stroke="#9a9a9a" stroke-width="0.6"/>
<rect x="591.02" y="68.43" width="28.64" height="9.33" fill="#e9f7e7" stroke="#9a9a9a" stroke-width="0.6"/>
<rect x="619.66" y="68.43" width="28.64" height="9.33" fill="#d0e9f2" stroke="#9a9a9a" stroke-width="0.6"/>
<text x="651.8" y="75.54" font-size="6.8">ACVRL1</text>
<rect x="505.1" y="77.76" width="28.64" height="9.33" fill="#f1714a" stroke="#9a9a9a" stroke-width="0.6"/>
<rect x="533.74" y="77.76" width="28.64" height="9.33" fill="#fc955e" stroke="#9a9a9a" stroke-width="0.6"/>
<rect x="562.38" y="77.76" width="28.64" height="9.33" fill="#a9cfe4" stroke="#9a9a9a" stroke-width="0.6"/>
<rect x="591.02" y="77.76" width="28.64" height="9.33" fill="#b8d9ea" stroke="#9a9a9a" stroke-width="0.6"/>
<rect x="619.66" y="77.76" width="28.64" height="9.33" fill="#b1d4e7" stroke="#9a9a9a" stroke-width="0.6"/>
<text x="651.8" y="84.87" font-size="6.8">FAM19A4</text>
<rect x="505.1" y="87.09" width="28.64" height="9.33" fill="#f88454" stroke="#9a9a9a" stroke-width="0.6"/>
<rect x="533.74" y="87.09" width="28.64" height="9.33" fill="#fc8d59" stroke="#9a9a9a" stroke-width="0.6"/>
<rect x="562.38" y="87.09" width="28.64" height="9.33" fill="#99c4de" stroke="#9a9a9a" stroke-width="0.6"/>
<rect x="591.02" y="87.09" width="28.64" height="9.33" fill="#b8d9ea" stroke="#9a9a9a" stroke-width="0.6"/>
<rect x="619.66" y="87.09" width="28.64" height="9.33" fill="#b1d4e7" stroke="#9a9a9a" stroke-width="0.6"/>
<text x="651.8" y="94.2" font-size="6.8">TPCN1</text>
<rect x="505.1" y="96.42" width="28.64" height="9.33" fill="#fc9e64" stroke="#9a9a9a" stroke-width="0.6"/>
<rect x="533.74" y="96.42" width="28.64" height="9.33" fill="#f1714a" stroke="#9a9a9a" stroke-width="0.6"/>
<rect x="562.38" y="96.42" width="28.64" height="9.33" fill="#d0e9f2" stroke="#9a9a9a" stroke-width="0.6"/>
<rect x="591.02" y="96.42" width="28.64" height="9.33" fill="#b8d9ea" stroke="#9a9a9a" stroke-width="0.6"/>
<rect x="619.66" y="96.42" width="28.64" height="9.33" fill="#99c4de" stroke="#9a9a9a" stroke-width="0.6"/>
<text x="651.8" y="103.53" font-size="6.8">ATP10D</text>
<rect x="505.1" y="105.75" width="28.64" height="9.33" fill="#fc955e" stroke="#9a9a9a" stroke-width="0.6"/>
<rect x="533.74" y="105.75" width="28.64" height="9.33" fill="#f57a4f" stroke="#9a9a9a" stroke-width="0.6"/>
<rect x="562.38" y="105.75" width="28.64" height="9.33" fill="#d0e9f2" stroke="#9a9a9a" stroke-width="0.6"/>
<rect x="591.02" y="105.75" width="28.64" height="9.33" fill="#c8e3ef" stroke="#9a9a9a" stroke-width="0.6"/>
<rect x="619.66" y="105.75" width="28.64" height="9.33" fill="#89b8d7" stroke="#9a9a9a" stroke-width="0.6"/>
<text x="651.8" y="112.86" font-size="6.8">SORBS2</text>
<rect x="505.1" y="115.08" width="28.64" height="9.33" fill="#ed6845" stroke="#9a9a9a" stroke-width="0.6"/>
<rect x="533.74" y="115.08" width="28.64" height="9.33" fill="#fda66a" stroke="#9a9a9a" stroke-width="0.6"/>
<rect x="562.38" y="115.08" width="28.64" height="9.33" fill="#e9f7e7" stroke="#9a9a9a" stroke-width="0.6"/>
<rect x="591.02" y="115.08" width="28.64" height="9.33" fill="#99c4de" stroke="#9a9a9a" stroke-width="0.6"/>
<rect x="619.66" y="115.08" width="28.64" height="9.33" fill="#a1c9e1" stroke="#9a9a9a" stroke-width="0.6"/>
<text x="651.8" y="122.19" font-size="6.8">CACNB2</text>
<rect x="505.1" y="124.41" width="28.64" height="9.33" fill="#f57a4f" stroke="#9a9a9a" stroke-width="0.6"/>
<rect x="533.74" y="124.41" width="28.64" height="9.33" fill="#fda66a" stroke="#9a9a9a" stroke-width="0.6"/>
<rect x="562.38" y="124.41" width="28.64" height="9.33" fill="#fffcba" stroke="#9a9a9a" stroke-width="0.6"/>
<rect x="591.02" y="124.41" width="28.64" height="9.33" fill="#a9cfe4" stroke="#9a9a9a" stroke-width="0.6"/>
<rect x="619.66" y="124.41" width="28.64" height="9.33" fill="#7aa9cf" stroke="#9a9a9a" stroke-width="0.6"/>
<text x="651.8" y="131.52" font-size="6.8">MSI2</text>
<rect x="505.1" y="133.74" width="28.64" height="9.33" fill="#fee99e" stroke="#9a9a9a" stroke-width="0.6"/>
<rect x="533.74" y="133.74" width="28.64" height="9.33" fill="#e24c36" stroke="#9a9a9a" stroke-width="0.6"/>
<rect x="562.38" y="133.74" width="28.64" height="9.33" fill="#ffffbf" stroke="#9a9a9a" stroke-width="0.6"/>
<rect x="591.02" y="133.74" width="28.64" height="9.33" fill="#d8eef5" stroke="#9a9a9a" stroke-width="0.6"/>
<rect x="619.66" y="133.74" width="28.64" height="9.33" fill="#6b9ac8" stroke="#9a9a9a" stroke-width="0.6"/>
<text x="651.8" y="140.85" font-size="6.8">PCCA</text>
<rect x="505.1" y="143.07" width="28.64" height="9.33" fill="#fdbf7a" stroke="#9a9a9a" stroke-width="0.6"/>
<rect x="533.74" y="143.07" width="28.64" height="9.33" fill="#e6553b" stroke="#9a9a9a" stroke-width="0.6"/>
<rect x="562.38" y="143.07" width="28.64" height="9.33" fill="#f0f9dc" stroke="#9a9a9a" stroke-width="0.6"/>
<rect x="591.02" y="143.07" width="28.64" height="9.33" fill="#a9cfe4" stroke="#9a9a9a" stroke-width="0.6"/>
<rect x="619.66" y="143.07" width="28.64" height="9.33" fill="#99c4de" stroke="#9a9a9a" stroke-width="0.6"/>
<text x="651.8" y="150.18" font-size="6.8">ANKRD17</text>
<rect x="505.1" y="152.4" width="28.64" height="9.33" fill="#fdae6f" stroke="#9a9a9a" stroke-width="0.6"/>
<rect x="533.74" y="152.4" width="28.64" height="9.33" fill="#e6553b" stroke="#9a9a9a" stroke-width="0.6"/>
<rect x="562.38" y="152.4" width="28.64" height="9.33" fill="#c8e3ef" stroke="#9a9a9a" stroke-width="0.6"/>
<rect x="591.02" y="152.4" width="28.64" height="9.33" fill="#b8d9ea" stroke="#9a9a9a" stroke-width="0.6"/>
<rect x="619.66" y="152.4" width="28.64" height="9.33" fill="#a9cfe4" stroke="#9a9a9a" stroke-width="0.6"/>
<text x="651.8" y="159.51" font-size="6.8">NAV2</text>
<rect x="505.1" y="161.73" width="28.64" height="9.33" fill="#ea5e40" stroke="#9a9a9a" stroke-width="0.6"/>
<rect x="533.74" y="161.73" width="28.64" height="9.33" fill="#e6f5ed" stroke="#9a9a9a" stroke-width="0.6"/>
<rect x="562.38" y="161.73" width="28.64" height="9.33" fill="#73a1cb" stroke="#9a9a9a" stroke-width="0.6"/>
<rect x="591.02" y="161.73" width="28.64" height="9.33" fill="#ecf8e1" stroke="#9a9a9a" stroke-width="0.6"/>
<rect x="619.66" y="161.73" width="28.64" height="9.33" fill="#fdbf7a" stroke="#9a9a9a" stroke-width="0.6"/>
<text x="651.8" y="168.84" font-size="6.8">BCAR1</text>
<rect x="505.1" y="171.06" width="28.64" height="9.33" fill="#fdc780" stroke="#9a9a9a" stroke-width="0.6"/>
<rect x="533.74" y="171.06" width="28.64" height="9.33" fill="#f57a4f" stroke="#9a9a9a" stroke-width="0.6"/>
<rect x="562.38" y="171.06" width="28.64" height="9.33" fill="#82b0d3" stroke="#9a9a9a" stroke-width="0.6"/>
<rect x="591.02" y="171.06" width="28.64" height="9.33" fill="#91bfdb" stroke="#9a9a9a" stroke-width="0.6"/>
<rect x="619.66" y="171.06" width="28.64" height="9.33" fill="#fee99e" stroke="#9a9a9a" stroke-width="0.6"/>
<text x="651.8" y="178.17" font-size="6.8">TSPAN9</text>
<rect x="505.1" y="180.39" width="28.64" height="9.33" fill="#fc9e64" stroke="#9a9a9a" stroke-width="0.6"/>
<rect x="533.74" y="180.39" width="28.64" height="9.33" fill="#fda66a" stroke="#9a9a9a" stroke-width="0.6"/>
<rect x="562.38" y="180.39" width="28.64" height="9.33" fill="#5484bc" stroke="#9a9a9a" stroke-width="0.6"/>
<rect x="591.02" y="180.39" width="28.64" height="9.33" fill="#d8eef5" stroke="#9a9a9a" stroke-width="0.6"/>
<rect x="619.66" y="180.39" width="28.64" height="9.33" fill="#feeca3" stroke="#9a9a9a" stroke-width="0.6"/>
<text x="651.8" y="187.5" font-size="6.8">VAV2</text>
<rect x="505.1" y="189.72" width="28.64" height="9.33" fill="#f88454" stroke="#9a9a9a" stroke-width="0.6"/>
<rect x="533.74" y="189.72" width="28.64" height="9.33" fill="#fecf85" stroke="#9a9a9a" stroke-width="0.6"/>
<rect x="562.38" y="189.72" width="28.64" height="9.33" fill="#4575b4" stroke="#9a9a9a" stroke-width="0.6"/>
<rect x="591.02" y="189.72" width="28.64" height="9.33" fill="#f6fbd0" stroke="#9a9a9a" stroke-width="0.6"/>
<rect x="619.66" y="189.72" width="28.64" height="9.33" fill="#fffcba" stroke="#9a9a9a" stroke-width="0.6"/>
<text x="651.8" y="196.83" font-size="6.8">NFIX</text>
<rect x="505.1" y="199.05" width="28.64" height="9.33" fill="#f57a4f" stroke="#9a9a9a" stroke-width="0.6"/>
<rect x="533.74" y="199.05" width="28.64" height="9.33" fill="#fdc780" stroke="#9a9a9a" stroke-width="0.6"/>
<rect x="562.38" y="199.05" width="28.64" height="9.33" fill="#5484bc" stroke="#9a9a9a" stroke-width="0.6"/>
<rect x="591.02" y="199.05" width="28.64" height="9.33" fill="#f3fad6" stroke="#9a9a9a" stroke-width="0.6"/>
<rect x="619.66" y="199.05" width="28.64" height="9.33" fill="#f9fdca" stroke="#9a9a9a" stroke-width="0.6"/>
<text x="651.8" y="206.16" font-size="6.8">ROR2</text>
<rect x="505.1" y="208.38" width="28.64" height="9.33" fill="#ed6845" stroke="#9a9a9a" stroke-width="0.6"/>
<rect x="533.74" y="208.38" width="28.64" height="9.33" fill="#fecf85" stroke="#9a9a9a" stroke-width="0.6"/>
<rect x="562.38" y="208.38" width="28.64" height="9.33" fill="#7aa9cf" stroke="#9a9a9a" stroke-width="0.6"/>
<rect x="591.02" y="208.38" width="28.64" height="9.33" fill="#d0e9f2" stroke="#9a9a9a" stroke-width="0.6"/>
<rect x="619.66" y="208.38" width="28.64" height="9.33" fill="#f3fad6" stroke="#9a9a9a" stroke-width="0.6"/>
<text x="651.8" y="215.49" font-size="6.8">ARHGEF4</text>
<rect x="505.1" y="217.71" width="28.64" height="9.33" fill="#e6553b" stroke="#9a9a9a" stroke-width="0.6"/>
<rect x="533.74" y="217.71" width="28.64" height="9.33" fill="#feeca3" stroke="#9a9a9a" stroke-width="0.6"/>
<rect x="562.38" y="217.71" width="28.64" height="9.33" fill="#6393c4" stroke="#9a9a9a" stroke-width="0.6"/>
<rect x="591.02" y="217.71" width="28.64" height="9.33" fill="#e6f5ed" stroke="#9a9a9a" stroke-width="0.6"/>
<rect x="619.66" y="217.71" width="28.64" height="9.33" fill="#feeca3" stroke="#9a9a9a" stroke-width="0.6"/>
<text x="651.8" y="224.82" font-size="6.8">NCOR2</text>
<text transform="translate(516.29 231) rotate(90)" font-size="8.7">CTRNX_0</text>
<text transform="translate(544.93 231) rotate(90)" font-size="8.7">CTRNX_1</text>
<text transform="translate(573.57 231) rotate(90)" font-size="8.7">CTRHYP_0</text>
<text transform="translate(602.21 231) rotate(90)" font-size="8.7">CTRHYP_1</text>
<text transform="translate(630.85 231) rotate(90)" font-size="8.7">CTRHYP_2</text>
<text transform="translate(474.02 231) rotate(90)" font-size="9.4" font-weight="700">q_value</text>
<text transform="translate(484.42 231) rotate(90)" font-size="9.4" font-weight="700">Expression</text>
<text transform="translate(494.82 231) rotate(90)" font-size="9.4" font-weight="700">Methylation</text>
<path d="M519.42 58.5L519.42 40.8M548.06 58.5L548.06 40.8M519.42 40.8L548.06 40.8M605.34 58.5L605.34 46.2M633.98 58.5L633.98 46.2M605.34 46.2L633.98 46.2M576.7 58.5L576.7 30.9M619.66 46.2L619.66 30.9M576.7 30.9L619.66 30.9M533.74 40.8L533.74 4.8M598.18 30.9L598.18 4.8M533.74 4.8L598.18 4.8M472.6 82.42L471 82.42M472.6 91.75L471 91.75M471 82.42L471 91.75M472.6 101.09L470.2 101.09M472.6 110.41L470.2 110.41M470.2 101.09L470.2 110.41M471 87.09L468.5 87.09M470.2 105.75L468.5 105.75M468.5 87.09L468.5 105.75M472.6 73.09L464.6 73.09M468.5 96.42L464.6 96.42M464.6 73.09L464.6 96.42M472.6 119.75L467.5 119.75M472.6 129.07L467.5 129.07M467.5 119.75L467.5 129.07M472.6 147.74L468 147.74M472.6 157.06L468 157.06M468 147.74L468 157.06M472.6 138.41L463 138.41M468 152.4L463 152.4M463 138.41L463 152.4M467.5 124.41L458.5 124.41M463 145.4L458.5 145.4M458.5 124.41L458.5 145.4M464.6 84.76L455.7 84.76M458.5 134.91L455.7 134.91M455.7 84.76L455.7 134.91M472.6 194.38L471 194.38M472.6 203.72L471 203.72M471 194.38L471 203.72M472.6 185.06L469 185.06M471 199.05L469 199.05M469 185.06L469 199.05M472.6 213.04L468 213.04M472.6 222.38L468 222.38M468 213.04L468 222.38M469 192.05L464 192.05M468 217.71L464 217.71M464 192.05L464 217.71M472.6 175.72L457.5 175.72M464 204.88L457.5 204.88M457.5 175.72L457.5 204.88M472.6 166.4L451 166.4M457.5 190.3L451 190.3M451 166.4L451 190.3M455.7 109.83L437.8 109.83M451 178.35L437.8 178.35M437.8 109.83L437.8 178.35M472.6 63.77L427.5 63.77M437.8 144.09L427.5 144.09M427.5 63.77L427.5 144.09" stroke="#1a1a1a" stroke-width="0.75" fill="none" stroke-linecap="square"/>
<rect x="704.5" y="59.4" width="8.4" height="3.4" fill="#d9362a"/>
<rect x="704.5" y="62.5" width="8.4" height="3.4" fill="#de4130"/>
<rect x="704.5" y="65.6" width="8.4" height="3.4" fill="#e24c36"/>
<rect x="704.5" y="68.69" width="8.4" height="3.4" fill="#e7573c"/>
<rect x="704.5" y="71.79" width="8.4" height="3.4" fill="#eb6242"/>
<rect x="704.5" y="74.89" width="8.4" height="3.4" fill="#ef6d48"/>
<rect x="704.5" y="77.99" width="8.4" height="3.4" fill="#f4794e"/>
<rect x="704.5" y="81.09" width="8.4" height="3.4" fill="#f88454"/>
<rect x="704.5" y="84.18" width="8.4" height="3.4" fill="#fc8f5a"/>
<rect x="704.5" y="87.28" width="8.4" height="3.4" fill="#fc9961"/>
<rect x="704.5" y="90.38" width="8.4" height="3.4" fill="#fda367"/>
<rect x="704.5" y="93.48" width="8.4" height="3.4" fill="#fdad6e"/>
<rect x="704.5" y="96.58" width="8.4" height="3.4" fill="#fdb674"/>
<rect x="704.5" y="99.67" width="8.4" height="3.4" fill="#fdc07b"/>
<rect x="704.5" y="102.77" width="8.4" height="3.4" fill="#fdca82"/>
<rect x="704.5" y="105.87" width="8.4" height="3.4" fill="#fed488"/>
<rect x="704.5" y="108.97" width="8.4" height="3.4" fill="#fede8f"/>
<rect x="704.5" y="112.07" width="8.4" height="3.4" fill="#fee395"/>
<rect x="704.5" y="115.16" width="8.4" height="3.4" fill="#fee79a"/>
<rect x="704.5" y="118.26" width="8.4" height="3.4" fill="#feeba0"/>
<rect x="704.5" y="121.36" width="8.4" height="3.4" fill="#feeea6"/>
<rect x="704.5" y="124.46" width="8.4" height="3.4" fill="#fff2ab"/>
<rect x="704.5" y="127.56" width="8.4" height="3.4" fill="#fff6b1"/>
<rect x="704.5" y="130.65" width="8.4" height="3.4" fill="#fff9b7"/>
<rect x="704.5" y="133.75" width="8.4" height="3.4" fill="#fffdbc"/>
<rect x="704.5" y="136.85" width="8.4" height="3.4" fill="#fdfec2"/>
<rect x="704.5" y="139.95" width="8.4" height="3.4" fill="#f9fdc9"/>
<rect x="704.5" y="143.05" width="8.4" height="3.4" fill="#f6fbd0"/>
<rect x="704.5" y="146.14" width="8.4" height="3.4" fill="#f2fad7"/>
<rect x="704.5" y="149.24" width="8.4" height="3.4" fill="#eef9de"/>
<rect x="704.5" y="152.34" width="8.4" height="3.4" fill="#ebf7e5"/>
<rect x="704.5" y="155.44" width="8.4" height="3.4" fill="#e7f6eb"/>
<rect x="704.5" y="158.54" width="8.4" height="3.4" fill="#e3f4f2"/>
<rect x="704.5" y="161.63" width="8.4" height="3.4" fill="#def2f7"/>
<rect x="704.5" y="164.73" width="8.4" height="3.4" fill="#d5ecf4"/>
<rect x="704.5" y="167.83" width="8.4" height="3.4" fill="#cbe5f0"/>
<rect x="704.5" y="170.93" width="8.4" height="3.4" fill="#c2dfed"/>
<rect x="704.5" y="174.03" width="8.4" height="3.4" fill="#b8d9ea"/>
<rect x="704.5" y="177.12" width="8.4" height="3.4" fill="#afd3e6"/>
<rect x="704.5" y="180.22" width="8.4" height="3.4" fill="#a6cde3"/>
<rect x="704.5" y="183.32" width="8.4" height="3.4" fill="#9cc6df"/>
<rect x="704.5" y="186.42" width="8.4" height="3.4" fill="#93c0dc"/>
<rect x="704.5" y="189.52" width="8.4" height="3.4" fill="#89b8d7"/>
<rect x="704.5" y="192.61" width="8.4" height="3.4" fill="#80afd2"/>
<rect x="704.5" y="195.71" width="8.4" height="3.4" fill="#77a6ce"/>
<rect x="704.5" y="198.81" width="8.4" height="3.4" fill="#6e9dc9"/>
<rect x="704.5" y="201.91" width="8.4" height="3.4" fill="#6594c4"/>
<rect x="704.5" y="205.01" width="8.4" height="3.4" fill="#5c8bc0"/>
<rect x="704.5" y="208.1" width="8.4" height="3.4" fill="#5382bb"/>
<rect x="704.5" y="211.2" width="8.4" height="3.4" fill="#4a79b6"/>
<text x="716" y="65.9" font-size="8.7">1.5</text>
<text x="716" y="90.9" font-size="8.7">1</text>
<text x="716" y="115.5" font-size="8.7">0.5</text>
<text x="716" y="140.6" font-size="8.7">0</text>
<text x="716" y="165.7" font-size="8.7">−0.5</text>
<text x="716" y="190.5" font-size="8.7">−1</text>
<text x="716" y="215.5" font-size="8.7">−1.5</text>
<text x="736.9" y="66.2" font-size="8.7" font-weight="700">q_value</text>
<rect x="736.9" y="70.3" width="12.1" height="15" fill="#2a9d5c"/>
<rect x="736.9" y="85.1" width="12.1" height="15" fill="#6cc4aa"/>
<rect x="736.9" y="99.9" width="12.1" height="15" fill="#b4e2e0"/>
<rect x="736.9" y="114.7" width="12.1" height="15" fill="#ecf7f9"/>
<rect x="736.9" y="70.3" width="12.1" height="59.2" fill="none" stroke="#b0b0b0" stroke-width="0.6"/>
<text x="752" y="81.57" font-size="8.7">0.04</text>
<text x="752" y="125.23" font-size="8.7">0.01</text>
<text x="736.9" y="148.2" font-size="8.7" font-weight="700">Expression</text>
<rect x="736.9" y="152.1" width="12.1" height="14.8" fill="#fc928c" stroke="#b0b0b0" stroke-width="0.6"/>
<text x="752" y="162.63" font-size="8.7">DOWN</text>
<rect x="736.9" y="166.9" width="12.1" height="14.8" fill="#02d3de" stroke="#b0b0b0" stroke-width="0.6"/>
<text x="752" y="177.43" font-size="8.7">UP</text>
<text x="736.9" y="199.5" font-size="8.7" font-weight="700" textLength="46.6" lengthAdjust="spacingAndGlyphs">Methylation</text>
<rect x="736.9" y="204" width="12.1" height="14.8" fill="#df8ffb" stroke="#b0b0b0" stroke-width="0.6"/>
<text x="752" y="214.53" font-size="8.7">DOWN</text>
<rect x="736.9" y="218.8" width="12.1" height="14.8" fill="#9acd0a" stroke="#b0b0b0" stroke-width="0.6"/>
<text x="752" y="229.33" font-size="8.7">UP</text>
<text x="-0.7" y="418.5" font-size="29.3" font-weight="700">C</text>
<text x="75.6" y="422" font-size="19" font-weight="700" textLength="227.5" lengthAdjust="spacingAndGlyphs">HIF1A signature in Hypoxia</text>
<text x="68.4" y="448" font-size="7.4" font-weight="700" text-anchor="end">Risk Category</text>
<rect x="71.83" y="443.3" width="5.6" height="5.5" fill="#12c412"/>
<rect x="78.9" y="443.3" width="5.6" height="5.5" fill="#c40404"/>
<rect x="85.96" y="443.3" width="5.6" height="5.5" fill="#c40404"/>
<rect x="93.03" y="443.3" width="5.6" height="5.5" fill="#c40404"/>
<rect x="100.09" y="443.3" width="5.6" height="5.5" fill="#c40404"/>
<rect x="107.16" y="443.3" width="5.6" height="5.5" fill="#c40404"/>
<rect x="114.22" y="443.3" width="5.6" height="5.5" fill="#c40404"/>
<rect x="121.29" y="443.3" width="5.6" height="5.5" fill="#c40404"/>
<rect x="128.35" y="443.3" width="5.6" height="5.5" fill="#c40404"/>
<rect x="135.42" y="443.3" width="5.6" height="5.5" fill="#c40404"/>
<rect x="142.48" y="443.3" width="5.6" height="5.5" fill="#c40404"/>
<rect x="149.55" y="443.3" width="5.6" height="5.5" fill="#c40404"/>
<rect x="156.61" y="443.3" width="5.6" height="5.5" fill="#c40404"/>
<rect x="163.68" y="443.3" width="5.6" height="5.5" fill="#c40404"/>
<rect x="170.74" y="443.3" width="5.6" height="5.5" fill="#c40404"/>
<rect x="177.81" y="443.3" width="5.6" height="5.5" fill="#c40404"/>
<rect x="184.87" y="443.3" width="5.6" height="5.5" fill="#c40404"/>
<rect x="191.94" y="443.3" width="5.6" height="5.5" fill="#c40404"/>
<rect x="199" y="443.3" width="5.6" height="5.5" fill="#c40404"/>
<rect x="206.07" y="443.3" width="5.6" height="5.5" fill="#c40404"/>
<rect x="213.13" y="443.3" width="5.6" height="5.5" fill="#c40404"/>
<rect x="220.2" y="443.3" width="5.6" height="5.5" fill="#c40404"/>
<rect x="227.26" y="443.3" width="5.6" height="5.5" fill="#12c412"/>
<rect x="234.33" y="443.3" width="5.6" height="5.5" fill="#c40404"/>
<rect x="241.39" y="443.3" width="5.6" height="5.5" fill="#c40404"/>
<rect x="248.46" y="443.3" width="5.6" height="5.5" fill="#12c412"/>
<rect x="255.52" y="443.3" width="5.6" height="5.5" fill="#12c412"/>
<rect x="262.59" y="443.3" width="5.6" height="5.5" fill="#c40404"/>
<rect x="269.65" y="443.3" width="5.6" height="5.5" fill="#12c412"/>
<rect x="276.72" y="443.3" width="5.6" height="5.5" fill="#c40404"/>
<rect x="283.78" y="443.3" width="5.6" height="5.5" fill="#c40404"/>
<rect x="290.85" y="443.3" width="5.6" height="5.5" fill="#12c412"/>
<rect x="297.91" y="443.3" width="5.6" height="5.5" fill="#12c412"/>
<rect x="304.98" y="443.3" width="5.6" height="5.5" fill="#c40404"/>
<rect x="312.04" y="443.3" width="5.6" height="5.5" fill="#c40404"/>
<rect x="319.11" y="443.3" width="5.6" height="5.5" fill="#c40404"/>
<rect x="326.17" y="443.3" width="5.6" height="5.5" fill="#c40404"/>
<rect x="333.24" y="443.3" width="5.6" height="5.5" fill="#c40404"/>
<rect x="340.3" y="443.3" width="5.6" height="5.5" fill="#c40404"/>
<rect x="347.37" y="443.3" width="5.6" height="5.5" fill="#c40404"/>
<rect x="354.43" y="443.3" width="5.6" height="5.5" fill="#c40404"/>
<rect x="361.5" y="443.3" width="5.6" height="5.5" fill="#12c412"/>
<rect x="368.56" y="443.3" width="5.6" height="5.5" fill="#12c412"/>
<rect x="375.63" y="443.3" width="5.6" height="5.5" fill="#c40404"/>
<rect x="382.69" y="443.3" width="5.6" height="5.5" fill="#c40404"/>
<rect x="389.76" y="443.3" width="5.6" height="5.5" fill="#c40404"/>
<rect x="396.82" y="443.3" width="5.6" height="5.5" fill="#c40404"/>
<rect x="403.89" y="443.3" width="5.6" height="5.5" fill="#c40404"/>
<rect x="410.95" y="443.3" width="5.6" height="5.5" fill="#c40404"/>
<rect x="418.02" y="443.3" width="5.6" height="5.5" fill="#c40404"/>
<rect x="425.08" y="443.3" width="5.6" height="5.5" fill="#c40404"/>
<rect x="432.15" y="443.3" width="5.6" height="5.5" fill="#12c412"/>
<rect x="439.21" y="443.3" width="5.6" height="5.5" fill="#12c412"/>
<rect x="446.28" y="443.3" width="5.6" height="5.5" fill="#12c412"/>
<rect x="453.34" y="443.3" width="5.6" height="5.5" fill="#c40404"/>
<rect x="460.41" y="443.3" width="5.6" height="5.5" fill="#c40404"/>
<rect x="467.47" y="443.3" width="5.6" height="5.5" fill="#c40404"/>
<rect x="474.54" y="443.3" width="5.6" height="5.5" fill="#12c412"/>
<rect x="481.6" y="443.3" width="5.6" height="5.5" fill="#c40404"/>
<rect x="488.67" y="443.3" width="5.6" height="5.5" fill="#c40404"/>
<rect x="495.73" y="443.3" width="5.6" height="5.5" fill="#c40404"/>
<rect x="502.8" y="443.3" width="5.6" height="5.5" fill="#c40404"/>
<rect x="509.86" y="443.3" width="5.6" height="5.5" fill="#12c412"/>
<rect x="516.93" y="443.3" width="5.6" height="5.5" fill="#c40404"/>
<rect x="523.99" y="443.3" width="5.6" height="5.5" fill="#c40404"/>
<rect x="531.06" y="443.3" width="5.6" height="5.5" fill="#12c412"/>
<rect x="538.12" y="443.3" width="5.6" height="5.5" fill="#12c412"/>
<rect x="545.19" y="443.3" width="5.6" height="5.5" fill="#c40404"/>
<rect x="552.25" y="443.3" width="5.6" height="5.5" fill="#12c412"/>
<rect x="559.32" y="443.3" width="5.6" height="5.5" fill="#12c412"/>
<rect x="566.38" y="443.3" width="5.6" height="5.5" fill="#12c412"/>
<rect x="573.45" y="443.3" width="5.6" height="5.5" fill="#12c412"/>
<rect x="580.51" y="443.3" width="5.6" height="5.5" fill="#12c412"/>
<rect x="587.58" y="443.3" width="5.6" height="5.5" fill="#12c412"/>
<rect x="594.64" y="443.3" width="5.6" height="5.5" fill="#12c412"/>
<rect x="601.71" y="443.3" width="5.6" height="5.5" fill="#12c412"/>
<rect x="608.77" y="443.3" width="5.6" height="5.5" fill="#12c412"/>
<rect x="615.84" y="443.3" width="5.6" height="5.5" fill="#12c412"/>
<rect x="622.9" y="443.3" width="5.6" height="5.5" fill="#12c412"/>
<rect x="629.97" y="443.3" width="5.6" height="5.5" fill="#12c412"/>
<rect x="637.03" y="443.3" width="5.6" height="5.5" fill="#c40404"/>
<rect x="644.1" y="443.3" width="5.6" height="5.5" fill="#12c412"/>
<rect x="651.16" y="443.3" width="5.6" height="5.5" fill="#12c412"/>
<rect x="658.23" y="443.3" width="5.6" height="5.5" fill="#12c412"/>
<rect x="665.29" y="443.3" width="5.6" height="5.5" fill="#12c412"/>
<rect x="672.36" y="443.3" width="5.6" height="5.5" fill="#12c412"/>
<rect x="679.42" y="443.3" width="5.6" height="5.5" fill="#12c412"/>
<rect x="686.49" y="443.3" width="5.6" height="5.5" fill="#12c412"/>
<rect x="693.55" y="443.3" width="5.6" height="5.5" fill="#12c412"/>
<rect x="700.62" y="443.3" width="5.6" height="5.5" fill="#12c412"/>
<rect x="707.68" y="443.3" width="5.6" height="5.5" fill="#12c412"/>
<rect x="714.75" y="443.3" width="5.6" height="5.5" fill="#12c412"/>
<rect x="721.81" y="443.3" width="5.6" height="5.5" fill="#12c412"/>
<rect x="728.88" y="443.3" width="5.6" height="5.5" fill="#c40404"/>
<rect x="735.94" y="443.3" width="5.6" height="5.5" fill="#c40404"/>
<rect x="743.01" y="443.3" width="5.6" height="5.5" fill="#c40404"/>
<rect x="71.1" y="456" width="678.24" height="177.24" fill="#7a7a7a"/>
<path d="M71.47 456.38h6.32v5.58h-6.32zM78.54 456.38h6.32v5.58h-6.32zM99.73 456.38h6.32v5.58h-6.32zM128 456.38h6.32v5.58h-6.32zM142.12 456.38h6.32v5.58h-6.32zM149.19 456.38h6.32v5.58h-6.32zM163.32 456.38h6.32v5.58h-6.32zM177.45 456.38h6.32v5.58h-6.32zM184.51 456.38h6.32v5.58h-6.32zM241.03 456.38h6.32v5.58h-6.32zM248.1 456.38h6.32v5.58h-6.32zM255.16 456.38h6.32v5.58h-6.32zM269.3 456.38h6.32v5.58h-6.32zM290.49 456.38h6.32v5.58h-6.32zM311.69 456.38h6.32v5.58h-6.32zM467.12 456.38h6.32v5.58h-6.32zM530.7 456.38h6.32v5.58h-6.32zM566.02 456.38h6.32v5.58h-6.32zM580.15 456.38h6.32v5.58h-6.32zM587.22 456.38h6.32v5.58h-6.32zM608.42 456.38h6.32v5.58h-6.32zM643.74 456.38h6.32v5.58h-6.32zM664.94 456.38h6.32v5.58h-6.32zM672 456.38h6.32v5.58h-6.32zM71.47 462.7h6.32v5.58h-6.32zM149.19 462.7h6.32v5.58h-6.32zM163.32 462.7h6.32v5.58h-6.32zM170.38 462.7h6.32v5.58h-6.32zM219.84 462.7h6.32v5.58h-6.32zM241.03 462.7h6.32v5.58h-6.32zM248.1 462.7h6.32v5.58h-6.32zM255.16 462.7h6.32v5.58h-6.32zM290.49 462.7h6.32v5.58h-6.32zM304.62 462.7h6.32v5.58h-6.32zM318.75 462.7h6.32v5.58h-6.32zM445.92 462.7h6.32v5.58h-6.32zM488.31 462.7h6.32v5.58h-6.32zM495.38 462.7h6.32v5.58h-6.32zM573.09 462.7h6.32v5.58h-6.32zM580.15 462.7h6.32v5.58h-6.32zM672 462.7h6.32v5.58h-6.32zM85.6 469.04h6.32v5.58h-6.32zM99.73 469.04h6.32v5.58h-6.32zM128 469.04h6.32v5.58h-6.32zM156.25 469.04h6.32v5.58h-6.32zM163.32 469.04h6.32v5.58h-6.32zM198.64 469.04h6.32v5.58h-6.32zM255.16 469.04h6.32v5.58h-6.32zM262.23 469.04h6.32v5.58h-6.32zM283.43 469.04h6.32v5.58h-6.32zM311.69 469.04h6.32v5.58h-6.32zM332.88 469.04h6.32v5.58h-6.32zM347.01 469.04h6.32v5.58h-6.32zM354.08 469.04h6.32v5.58h-6.32zM361.14 469.04h6.32v5.58h-6.32zM375.27 469.04h6.32v5.58h-6.32zM530.7 469.04h6.32v5.58h-6.32zM580.15 469.04h6.32v5.58h-6.32zM594.29 469.04h6.32v5.58h-6.32zM608.42 469.04h6.32v5.58h-6.32zM657.87 469.04h6.32v5.58h-6.32zM71.47 475.37h6.32v5.58h-6.32zM78.54 475.37h6.32v5.58h-6.32zM92.67 475.37h6.32v5.58h-6.32zM113.86 475.37h6.32v5.58h-6.32zM135.06 475.37h6.32v5.58h-6.32zM149.19 475.37h6.32v5.58h-6.32zM170.38 475.37h6.32v5.58h-6.32zM191.58 475.37h6.32v5.58h-6.32zM233.97 475.37h6.32v5.58h-6.32zM241.03 475.37h6.32v5.58h-6.32zM354.08 475.37h6.32v5.58h-6.32zM382.34 475.37h6.32v5.58h-6.32zM438.86 475.37h6.32v5.58h-6.32zM544.83 475.37h6.32v5.58h-6.32zM636.68 475.37h6.32v5.58h-6.32zM735.59 475.37h6.32v5.58h-6.32zM742.65 475.37h6.32v5.58h-6.32zM71.47 481.69h6.32v5.58h-6.32zM92.67 481.69h6.32v5.58h-6.32zM106.8 481.69h6.32v5.58h-6.32zM135.06 481.69h6.32v5.58h-6.32zM142.12 481.69h6.32v5.58h-6.32zM170.38 481.69h6.32v5.58h-6.32zM233.97 481.69h6.32v5.58h-6.32zM255.16 481.69h6.32v5.58h-6.32zM311.69 481.69h6.32v5.58h-6.32zM325.81 481.69h6.32v5.58h-6.32zM332.88 481.69h6.32v5.58h-6.32zM339.95 481.69h6.32v5.58h-6.32zM354.08 481.69h6.32v5.58h-6.32zM368.21 481.69h6.32v5.58h-6.32zM382.34 481.69h6.32v5.58h-6.32zM389.4 481.69h6.32v5.58h-6.32zM417.66 481.69h6.32v5.58h-6.32zM481.25 481.69h6.32v5.58h-6.32zM488.31 481.69h6.32v5.58h-6.32zM558.96 481.69h6.32v5.58h-6.32zM78.54 488.02h6.32v5.58h-6.32zM113.86 488.02h6.32v5.58h-6.32zM149.19 488.02h6.32v5.58h-6.32zM198.64 488.02h6.32v5.58h-6.32zM205.71 488.02h6.32v5.58h-6.32zM262.23 488.02h6.32v5.58h-6.32zM325.81 488.02h6.32v5.58h-6.32zM339.95 488.02h6.32v5.58h-6.32zM347.01 488.02h6.32v5.58h-6.32zM354.08 488.02h6.32v5.58h-6.32zM361.14 488.02h6.32v5.58h-6.32zM368.21 488.02h6.32v5.58h-6.32zM375.27 488.02h6.32v5.58h-6.32zM389.4 488.02h6.32v5.58h-6.32zM403.53 488.02h6.32v5.58h-6.32zM467.12 488.02h6.32v5.58h-6.32zM481.25 488.02h6.32v5.58h-6.32zM488.31 488.02h6.32v5.58h-6.32zM629.61 488.02h6.32v5.58h-6.32zM78.54 494.36h6.32v5.58h-6.32zM92.67 494.36h6.32v5.58h-6.32zM99.73 494.36h6.32v5.58h-6.32zM113.86 494.36h6.32v5.58h-6.32zM142.12 494.36h6.32v5.58h-6.32zM156.25 494.36h6.32v5.58h-6.32zM184.51 494.36h6.32v5.58h-6.32zM241.03 494.36h6.32v5.58h-6.32zM255.16 494.36h6.32v5.58h-6.32zM269.3 494.36h6.32v5.58h-6.32zM290.49 494.36h6.32v5.58h-6.32zM297.56 494.36h6.32v5.58h-6.32zM325.81 494.36h6.32v5.58h-6.32zM354.08 494.36h6.32v5.58h-6.32zM361.14 494.36h6.32v5.58h-6.32zM382.34 494.36h6.32v5.58h-6.32zM389.4 494.36h6.32v5.58h-6.32zM452.99 494.36h6.32v5.58h-6.32zM467.12 494.36h6.32v5.58h-6.32zM156.25 500.69h6.32v5.58h-6.32zM212.78 500.69h6.32v5.58h-6.32zM262.23 500.69h6.32v5.58h-6.32zM269.3 500.69h6.32v5.58h-6.32zM276.36 500.69h6.32v5.58h-6.32zM325.81 500.69h6.32v5.58h-6.32zM354.08 500.69h6.32v5.58h-6.32zM368.21 500.69h6.32v5.58h-6.32zM382.34 500.69h6.32v5.58h-6.32zM403.53 500.69h6.32v5.58h-6.32zM410.6 500.69h6.32v5.58h-6.32zM417.66 500.69h6.32v5.58h-6.32zM452.99 500.69h6.32v5.58h-6.32zM558.96 500.69h6.32v5.58h-6.32zM78.54 507.01h6.32v5.58h-6.32zM85.6 507.01h6.32v5.58h-6.32zM135.06 507.01h6.32v5.58h-6.32zM149.19 507.01h6.32v5.58h-6.32zM156.25 507.01h6.32v5.58h-6.32zM170.38 507.01h6.32v5.58h-6.32zM191.58 507.01h6.32v5.58h-6.32zM262.23 507.01h6.32v5.58h-6.32zM276.36 507.01h6.32v5.58h-6.32zM318.75 507.01h6.32v5.58h-6.32zM332.88 507.01h6.32v5.58h-6.32zM361.14 507.01h6.32v5.58h-6.32zM389.4 507.01h6.32v5.58h-6.32zM728.52 507.01h6.32v5.58h-6.32zM71.47 513.35h6.32v5.58h-6.32zM78.54 513.35h6.32v5.58h-6.32zM99.73 513.35h6.32v5.58h-6.32zM128 513.35h6.32v5.58h-6.32zM156.25 513.35h6.32v5.58h-6.32zM184.51 513.35h6.32v5.58h-6.32zM233.97 513.35h6.32v5.58h-6.32zM262.23 513.35h6.32v5.58h-6.32zM269.3 513.35h6.32v5.58h-6.32zM276.36 513.35h6.32v5.58h-6.32zM283.43 513.35h6.32v5.58h-6.32zM290.49 513.35h6.32v5.58h-6.32zM325.81 513.35h6.32v5.58h-6.32zM347.01 513.35h6.32v5.58h-6.32zM354.08 513.35h6.32v5.58h-6.32zM368.21 513.35h6.32v5.58h-6.32zM389.4 513.35h6.32v5.58h-6.32zM417.66 513.35h6.32v5.58h-6.32zM452.99 513.35h6.32v5.58h-6.32zM92.67 519.67h6.32v5.58h-6.32zM99.73 519.67h6.32v5.58h-6.32zM120.93 519.67h6.32v5.58h-6.32zM128 519.67h6.32v5.58h-6.32zM135.06 519.67h6.32v5.58h-6.32zM156.25 519.67h6.32v5.58h-6.32zM212.78 519.67h6.32v5.58h-6.32zM233.97 519.67h6.32v5.58h-6.32zM276.36 519.67h6.32v5.58h-6.32zM283.43 519.67h6.32v5.58h-6.32zM311.69 519.67h6.32v5.58h-6.32zM339.95 519.67h6.32v5.58h-6.32zM558.96 519.67h6.32v5.58h-6.32zM573.09 519.67h6.32v5.58h-6.32zM735.59 519.67h6.32v5.58h-6.32zM742.65 519.67h6.32v5.58h-6.32zM92.67 526h6.32v5.58h-6.32zM99.73 526h6.32v5.58h-6.32zM113.86 526h6.32v5.58h-6.32zM156.25 526h6.32v5.58h-6.32zM191.58 526h6.32v5.58h-6.32zM241.03 526h6.32v5.58h-6.32zM283.43 526h6.32v5.58h-6.32zM339.95 526h6.32v5.58h-6.32zM347.01 526h6.32v5.58h-6.32zM375.27 526h6.32v5.58h-6.32zM481.25 526h6.32v5.58h-6.32zM537.76 526h6.32v5.58h-6.32zM622.55 526h6.32v5.58h-6.32zM728.52 526h6.32v5.58h-6.32zM106.8 532.34h6.32v5.58h-6.32zM135.06 532.34h6.32v5.58h-6.32zM149.19 532.34h6.32v5.58h-6.32zM177.45 532.34h6.32v5.58h-6.32zM205.71 532.34h6.32v5.58h-6.32zM255.16 532.34h6.32v5.58h-6.32zM347.01 532.34h6.32v5.58h-6.32zM375.27 532.34h6.32v5.58h-6.32zM445.92 532.34h6.32v5.58h-6.32zM460.05 532.34h6.32v5.58h-6.32zM495.38 532.34h6.32v5.58h-6.32zM537.76 532.34h6.32v5.58h-6.32zM566.02 532.34h6.32v5.58h-6.32zM721.46 532.34h6.32v5.58h-6.32zM742.65 532.34h6.32v5.58h-6.32zM106.8 538.66h6.32v5.58h-6.32zM135.06 538.66h6.32v5.58h-6.32zM142.12 538.66h6.32v5.58h-6.32zM156.25 538.66h6.32v5.58h-6.32zM219.84 538.66h6.32v5.58h-6.32zM233.97 538.66h6.32v5.58h-6.32zM241.03 538.66h6.32v5.58h-6.32zM347.01 538.66h6.32v5.58h-6.32zM368.21 538.66h6.32v5.58h-6.32zM375.27 538.66h6.32v5.58h-6.32zM396.47 538.66h6.32v5.58h-6.32zM403.53 538.66h6.32v5.58h-6.32zM467.12 538.66h6.32v5.58h-6.32zM629.61 538.66h6.32v5.58h-6.32zM728.52 538.66h6.32v5.58h-6.32zM92.67 545h6.32v5.58h-6.32zM99.73 545h6.32v5.58h-6.32zM106.8 545h6.32v5.58h-6.32zM120.93 545h6.32v5.58h-6.32zM128 545h6.32v5.58h-6.32zM142.12 545h6.32v5.58h-6.32zM149.19 545h6.32v5.58h-6.32zM177.45 545h6.32v5.58h-6.32zM184.51 545h6.32v5.58h-6.32zM191.58 545h6.32v5.58h-6.32zM212.78 545h6.32v5.58h-6.32zM248.1 545h6.32v5.58h-6.32zM276.36 545h6.32v5.58h-6.32zM283.43 545h6.32v5.58h-6.32zM297.56 545h6.32v5.58h-6.32zM354.08 545h6.32v5.58h-6.32zM361.14 545h6.32v5.58h-6.32zM375.27 545h6.32v5.58h-6.32zM389.4 545h6.32v5.58h-6.32zM460.05 545h6.32v5.58h-6.32zM537.76 545h6.32v5.58h-6.32zM544.83 545h6.32v5.58h-6.32zM679.07 545h6.32v5.58h-6.32zM735.59 545h6.32v5.58h-6.32zM742.65 545h6.32v5.58h-6.32zM113.86 551.33h6.32v5.58h-6.32zM128 551.33h6.32v5.58h-6.32zM135.06 551.33h6.32v5.58h-6.32zM142.12 551.33h6.32v5.58h-6.32zM198.64 551.33h6.32v5.58h-6.32zM219.84 551.33h6.32v5.58h-6.32zM226.91 551.33h6.32v5.58h-6.32zM233.97 551.33h6.32v5.58h-6.32zM241.03 551.33h6.32v5.58h-6.32zM276.36 551.33h6.32v5.58h-6.32zM290.49 551.33h6.32v5.58h-6.32zM368.21 551.33h6.32v5.58h-6.32zM375.27 551.33h6.32v5.58h-6.32zM396.47 551.33h6.32v5.58h-6.32zM523.63 551.33h6.32v5.58h-6.32zM728.52 551.33h6.32v5.58h-6.32zM735.59 551.33h6.32v5.58h-6.32zM120.93 557.65h6.32v5.58h-6.32zM156.25 557.65h6.32v5.58h-6.32zM191.58 557.65h6.32v5.58h-6.32zM205.71 557.65h6.32v5.58h-6.32zM226.91 557.65h6.32v5.58h-6.32zM332.88 557.65h6.32v5.58h-6.32zM347.01 557.65h6.32v5.58h-6.32zM361.14 557.65h6.32v5.58h-6.32zM382.34 557.65h6.32v5.58h-6.32zM389.4 557.65h6.32v5.58h-6.32zM431.79 557.65h6.32v5.58h-6.32zM551.89 557.65h6.32v5.58h-6.32zM558.96 557.65h6.32v5.58h-6.32zM587.22 557.65h6.32v5.58h-6.32zM679.07 557.65h6.32v5.58h-6.32zM71.47 563.99h6.32v5.58h-6.32zM92.67 563.99h6.32v5.58h-6.32zM113.86 563.99h6.32v5.58h-6.32zM120.93 563.99h6.32v5.58h-6.32zM135.06 563.99h6.32v5.58h-6.32zM149.19 563.99h6.32v5.58h-6.32zM156.25 563.99h6.32v5.58h-6.32zM205.71 563.99h6.32v5.58h-6.32zM233.97 563.99h6.32v5.58h-6.32zM248.1 563.99h6.32v5.58h-6.32zM276.36 563.99h6.32v5.58h-6.32zM283.43 563.99h6.32v5.58h-6.32zM290.49 563.99h6.32v5.58h-6.32zM311.69 563.99h6.32v5.58h-6.32zM339.95 563.99h6.32v5.58h-6.32zM354.08 563.99h6.32v5.58h-6.32zM368.21 563.99h6.32v5.58h-6.32zM396.47 563.99h6.32v5.58h-6.32zM643.74 563.99h6.32v5.58h-6.32zM742.65 563.99h6.32v5.58h-6.32zM120.93 570.32h6.32v5.58h-6.32zM135.06 570.32h6.32v5.58h-6.32zM149.19 570.32h6.32v5.58h-6.32zM177.45 570.32h6.32v5.58h-6.32zM276.36 570.32h6.32v5.58h-6.32zM283.43 570.32h6.32v5.58h-6.32zM332.88 570.32h6.32v5.58h-6.32zM347.01 570.32h6.32v5.58h-6.32zM354.08 570.32h6.32v5.58h-6.32zM375.27 570.32h6.32v5.58h-6.32zM396.47 570.32h6.32v5.58h-6.32zM403.53 570.32h6.32v5.58h-6.32zM410.6 570.32h6.32v5.58h-6.32zM580.15 570.32h6.32v5.58h-6.32zM587.22 570.32h6.32v5.58h-6.32zM608.42 570.32h6.32v5.58h-6.32zM622.55 570.32h6.32v5.58h-6.32zM85.6 576.64h6.32v5.58h-6.32zM128 576.64h6.32v5.58h-6.32zM142.12 576.64h6.32v5.58h-6.32zM149.19 576.64h6.32v5.58h-6.32zM163.32 576.64h6.32v5.58h-6.32zM177.45 576.64h6.32v5.58h-6.32zM184.51 576.64h6.32v5.58h-6.32zM233.97 576.64h6.32v5.58h-6.32zM255.16 576.64h6.32v5.58h-6.32zM283.43 576.64h6.32v5.58h-6.32zM290.49 576.64h6.32v5.58h-6.32zM304.62 576.64h6.32v5.58h-6.32zM361.14 576.64h6.32v5.58h-6.32zM375.27 576.64h6.32v5.58h-6.32zM530.7 576.64h6.32v5.58h-6.32zM566.02 576.64h6.32v5.58h-6.32zM78.54 582.98h6.32v5.58h-6.32zM92.67 582.98h6.32v5.58h-6.32zM99.73 582.98h6.32v5.58h-6.32zM135.06 582.98h6.32v5.58h-6.32zM142.12 582.98h6.32v5.58h-6.32zM177.45 582.98h6.32v5.58h-6.32zM191.58 582.98h6.32v5.58h-6.32zM212.78 582.98h6.32v5.58h-6.32zM233.97 582.98h6.32v5.58h-6.32zM241.03 582.98h6.32v5.58h-6.32zM262.23 582.98h6.32v5.58h-6.32zM283.43 582.98h6.32v5.58h-6.32zM304.62 582.98h6.32v5.58h-6.32zM382.34 582.98h6.32v5.58h-6.32zM488.31 582.98h6.32v5.58h-6.32zM594.29 582.98h6.32v5.58h-6.32zM622.55 582.98h6.32v5.58h-6.32zM78.54 589.31h6.32v5.58h-6.32zM85.6 589.31h6.32v5.58h-6.32zM99.73 589.31h6.32v5.58h-6.32zM120.93 589.31h6.32v5.58h-6.32zM142.12 589.31h6.32v5.58h-6.32zM149.19 589.31h6.32v5.58h-6.32zM163.32 589.31h6.32v5.58h-6.32zM198.64 589.31h6.32v5.58h-6.32zM233.97 589.31h6.32v5.58h-6.32zM262.23 589.31h6.32v5.58h-6.32zM290.49 589.31h6.32v5.58h-6.32zM318.75 589.31h6.32v5.58h-6.32zM361.14 589.31h6.32v5.58h-6.32zM368.21 589.31h6.32v5.58h-6.32zM403.53 589.31h6.32v5.58h-6.32zM452.99 589.31h6.32v5.58h-6.32zM558.96 589.31h6.32v5.58h-6.32zM573.09 589.31h6.32v5.58h-6.32zM601.35 589.31h6.32v5.58h-6.32zM608.42 589.31h6.32v5.58h-6.32zM693.2 589.31h6.32v5.58h-6.32zM71.47 595.63h6.32v5.58h-6.32zM92.67 595.63h6.32v5.58h-6.32zM106.8 595.63h6.32v5.58h-6.32zM120.93 595.63h6.32v5.58h-6.32zM142.12 595.63h6.32v5.58h-6.32zM177.45 595.63h6.32v5.58h-6.32zM184.51 595.63h6.32v5.58h-6.32zM233.97 595.63h6.32v5.58h-6.32zM255.16 595.63h6.32v5.58h-6.32zM269.3 595.63h6.32v5.58h-6.32zM276.36 595.63h6.32v5.58h-6.32zM283.43 595.63h6.32v5.58h-6.32zM290.49 595.63h6.32v5.58h-6.32zM304.62 595.63h6.32v5.58h-6.32zM361.14 595.63h6.32v5.58h-6.32zM368.21 595.63h6.32v5.58h-6.32zM382.34 595.63h6.32v5.58h-6.32zM403.53 595.63h6.32v5.58h-6.32zM601.35 595.63h6.32v5.58h-6.32zM78.54 601.97h6.32v5.58h-6.32zM92.67 601.97h6.32v5.58h-6.32zM106.8 601.97h6.32v5.58h-6.32zM142.12 601.97h6.32v5.58h-6.32zM149.19 601.97h6.32v5.58h-6.32zM163.32 601.97h6.32v5.58h-6.32zM177.45 601.97h6.32v5.58h-6.32zM191.58 601.97h6.32v5.58h-6.32zM205.71 601.97h6.32v5.58h-6.32zM233.97 601.97h6.32v5.58h-6.32zM241.03 601.97h6.32v5.58h-6.32zM255.16 601.97h6.32v5.58h-6.32zM262.23 601.97h6.32v5.58h-6.32zM276.36 601.97h6.32v5.58h-6.32zM290.49 601.97h6.32v5.58h-6.32zM297.56 601.97h6.32v5.58h-6.32zM354.08 601.97h6.32v5.58h-6.32zM368.21 601.97h6.32v5.58h-6.32zM382.34 601.97h6.32v5.58h-6.32zM389.4 601.97h6.32v5.58h-6.32zM452.99 601.97h6.32v5.58h-6.32zM558.96 601.97h6.32v5.58h-6.32zM601.35 601.97h6.32v5.58h-6.32zM693.2 601.97h6.32v5.58h-6.32zM92.67 608.3h6.32v5.58h-6.32zM120.93 608.3h6.32v5.58h-6.32zM128 608.3h6.32v5.58h-6.32zM142.12 608.3h6.32v5.58h-6.32zM149.19 608.3h6.32v5.58h-6.32zM156.25 608.3h6.32v5.58h-6.32zM163.32 608.3h6.32v5.58h-6.32zM177.45 608.3h6.32v5.58h-6.32zM198.64 608.3h6.32v5.58h-6.32zM361.14 608.3h6.32v5.58h-6.32zM368.21 608.3h6.32v5.58h-6.32zM452.99 608.3h6.32v5.58h-6.32zM742.65 608.3h6.32v5.58h-6.32zM78.54 614.62h6.32v5.58h-6.32zM92.67 614.62h6.32v5.58h-6.32zM99.73 614.62h6.32v5.58h-6.32zM128 614.62h6.32v5.58h-6.32zM142.12 614.62h6.32v5.58h-6.32zM149.19 614.62h6.32v5.58h-6.32zM163.32 614.62h6.32v5.58h-6.32zM170.38 614.62h6.32v5.58h-6.32zM177.45 614.62h6.32v5.58h-6.32zM184.51 614.62h6.32v5.58h-6.32zM191.58 614.62h6.32v5.58h-6.32zM262.23 614.62h6.32v5.58h-6.32zM269.3 614.62h6.32v5.58h-6.32zM276.36 614.62h6.32v5.58h-6.32zM283.43 614.62h6.32v5.58h-6.32zM290.49 614.62h6.32v5.58h-6.32zM325.81 614.62h6.32v5.58h-6.32zM389.4 614.62h6.32v5.58h-6.32zM431.79 614.62h6.32v5.58h-6.32zM452.99 614.62h6.32v5.58h-6.32zM474.18 614.62h6.32v5.58h-6.32zM71.47 620.96h6.32v5.58h-6.32zM85.6 620.96h6.32v5.58h-6.32zM99.73 620.96h6.32v5.58h-6.32zM128 620.96h6.32v5.58h-6.32zM135.06 620.96h6.32v5.58h-6.32zM149.19 620.96h6.32v5.58h-6.32zM156.25 620.96h6.32v5.58h-6.32zM219.84 620.96h6.32v5.58h-6.32zM248.1 620.96h6.32v5.58h-6.32zM255.16 620.96h6.32v5.58h-6.32zM276.36 620.96h6.32v5.58h-6.32zM290.49 620.96h6.32v5.58h-6.32zM311.69 620.96h6.32v5.58h-6.32zM375.27 620.96h6.32v5.58h-6.32zM396.47 620.96h6.32v5.58h-6.32zM431.79 620.96h6.32v5.58h-6.32zM445.92 620.96h6.32v5.58h-6.32zM467.12 620.96h6.32v5.58h-6.32zM474.18 620.96h6.32v5.58h-6.32zM516.57 620.96h6.32v5.58h-6.32zM587.22 620.96h6.32v5.58h-6.32zM608.42 620.96h6.32v5.58h-6.32zM664.94 620.96h6.32v5.58h-6.32zM78.54 627.28h6.32v5.58h-6.32zM85.6 627.28h6.32v5.58h-6.32zM106.8 627.28h6.32v5.58h-6.32zM120.93 627.28h6.32v5.58h-6.32zM135.06 627.28h6.32v5.58h-6.32zM142.12 627.28h6.32v5.58h-6.32zM156.25 627.28h6.32v5.58h-6.32zM191.58 627.28h6.32v5.58h-6.32zM205.71 627.28h6.32v5.58h-6.32zM212.78 627.28h6.32v5.58h-6.32zM290.49 627.28h6.32v5.58h-6.32zM325.81 627.28h6.32v5.58h-6.32zM382.34 627.28h6.32v5.58h-6.32zM403.53 627.28h6.32v5.58h-6.32zM509.5 627.28h6.32v5.58h-6.32zM516.57 627.28h6.32v5.58h-6.32zM601.35 627.28h6.32v5.58h-6.32z" fill="#002c00"/>
<path d="M85.6 456.38h6.32v5.58h-6.32zM198.64 456.38h6.32v5.58h-6.32zM276.36 456.38h6.32v5.58h-6.32zM325.81 456.38h6.32v5.58h-6.32zM368.21 456.38h6.32v5.58h-6.32zM382.34 456.38h6.32v5.58h-6.32zM452.99 456.38h6.32v5.58h-6.32zM488.31 456.38h6.32v5.58h-6.32zM495.38 456.38h6.32v5.58h-6.32zM502.44 456.38h6.32v5.58h-6.32zM636.68 456.38h6.32v5.58h-6.32zM735.59 456.38h6.32v5.58h-6.32zM85.6 462.7h6.32v5.58h-6.32zM142.12 462.7h6.32v5.58h-6.32zM262.23 462.7h6.32v5.58h-6.32zM269.3 462.7h6.32v5.58h-6.32zM311.69 462.7h6.32v5.58h-6.32zM438.86 462.7h6.32v5.58h-6.32zM452.99 462.7h6.32v5.58h-6.32zM523.63 462.7h6.32v5.58h-6.32zM544.83 462.7h6.32v5.58h-6.32zM212.78 469.04h6.32v5.58h-6.32zM219.84 469.04h6.32v5.58h-6.32zM424.73 469.04h6.32v5.58h-6.32zM474.18 469.04h6.32v5.58h-6.32zM495.38 469.04h6.32v5.58h-6.32zM509.5 469.04h6.32v5.58h-6.32zM544.83 469.04h6.32v5.58h-6.32zM205.71 475.37h6.32v5.58h-6.32zM219.84 475.37h6.32v5.58h-6.32zM226.91 475.37h6.32v5.58h-6.32zM389.4 475.37h6.32v5.58h-6.32zM424.73 475.37h6.32v5.58h-6.32zM460.05 475.37h6.32v5.58h-6.32zM551.89 475.37h6.32v5.58h-6.32zM580.15 475.37h6.32v5.58h-6.32zM587.22 475.37h6.32v5.58h-6.32zM594.29 475.37h6.32v5.58h-6.32zM615.48 475.37h6.32v5.58h-6.32zM643.74 475.37h6.32v5.58h-6.32zM650.81 475.37h6.32v5.58h-6.32zM657.87 475.37h6.32v5.58h-6.32zM664.94 475.37h6.32v5.58h-6.32zM672 475.37h6.32v5.58h-6.32zM686.13 475.37h6.32v5.58h-6.32zM248.1 481.69h6.32v5.58h-6.32zM297.56 481.69h6.32v5.58h-6.32zM431.79 481.69h6.32v5.58h-6.32zM509.5 481.69h6.32v5.58h-6.32zM551.89 481.69h6.32v5.58h-6.32zM566.02 481.69h6.32v5.58h-6.32zM573.09 481.69h6.32v5.58h-6.32zM580.15 481.69h6.32v5.58h-6.32zM587.22 481.69h6.32v5.58h-6.32zM594.29 481.69h6.32v5.58h-6.32zM601.35 481.69h6.32v5.58h-6.32zM608.42 481.69h6.32v5.58h-6.32zM629.61 481.69h6.32v5.58h-6.32zM650.81 481.69h6.32v5.58h-6.32zM664.94 481.69h6.32v5.58h-6.32zM679.07 481.69h6.32v5.58h-6.32zM693.2 481.69h6.32v5.58h-6.32zM700.26 481.69h6.32v5.58h-6.32zM248.1 488.02h6.32v5.58h-6.32zM509.5 488.02h6.32v5.58h-6.32zM523.63 488.02h6.32v5.58h-6.32zM551.89 488.02h6.32v5.58h-6.32zM558.96 488.02h6.32v5.58h-6.32zM566.02 488.02h6.32v5.58h-6.32zM573.09 488.02h6.32v5.58h-6.32zM587.22 488.02h6.32v5.58h-6.32zM594.29 488.02h6.32v5.58h-6.32zM601.35 488.02h6.32v5.58h-6.32zM608.42 488.02h6.32v5.58h-6.32zM615.48 488.02h6.32v5.58h-6.32zM622.55 488.02h6.32v5.58h-6.32zM650.81 488.02h6.32v5.58h-6.32zM657.87 488.02h6.32v5.58h-6.32zM664.94 488.02h6.32v5.58h-6.32zM672 488.02h6.32v5.58h-6.32zM679.07 488.02h6.32v5.58h-6.32zM686.13 488.02h6.32v5.58h-6.32zM693.2 488.02h6.32v5.58h-6.32zM700.26 488.02h6.32v5.58h-6.32zM707.33 488.02h6.32v5.58h-6.32zM714.39 488.02h6.32v5.58h-6.32zM226.91 494.36h6.32v5.58h-6.32zM347.01 494.36h6.32v5.58h-6.32zM396.47 494.36h6.32v5.58h-6.32zM431.79 494.36h6.32v5.58h-6.32zM481.25 494.36h6.32v5.58h-6.32zM488.31 494.36h6.32v5.58h-6.32zM544.83 494.36h6.32v5.58h-6.32zM551.89 494.36h6.32v5.58h-6.32zM558.96 494.36h6.32v5.58h-6.32zM566.02 494.36h6.32v5.58h-6.32zM573.09 494.36h6.32v5.58h-6.32zM587.22 494.36h6.32v5.58h-6.32zM594.29 494.36h6.32v5.58h-6.32zM601.35 494.36h6.32v5.58h-6.32zM622.55 494.36h6.32v5.58h-6.32zM657.87 494.36h6.32v5.58h-6.32zM679.07 494.36h6.32v5.58h-6.32zM686.13 494.36h6.32v5.58h-6.32zM693.2 494.36h6.32v5.58h-6.32zM707.33 494.36h6.32v5.58h-6.32zM177.45 500.69h6.32v5.58h-6.32zM219.84 500.69h6.32v5.58h-6.32zM226.91 500.69h6.32v5.58h-6.32zM248.1 500.69h6.32v5.58h-6.32zM424.73 500.69h6.32v5.58h-6.32zM467.12 500.69h6.32v5.58h-6.32zM481.25 500.69h6.32v5.58h-6.32zM502.44 500.69h6.32v5.58h-6.32zM509.5 500.69h6.32v5.58h-6.32zM516.57 500.69h6.32v5.58h-6.32zM523.63 500.69h6.32v5.58h-6.32zM537.76 500.69h6.32v5.58h-6.32zM587.22 500.69h6.32v5.58h-6.32zM594.29 500.69h6.32v5.58h-6.32zM608.42 500.69h6.32v5.58h-6.32zM615.48 500.69h6.32v5.58h-6.32zM622.55 500.69h6.32v5.58h-6.32zM643.74 500.69h6.32v5.58h-6.32zM650.81 500.69h6.32v5.58h-6.32zM657.87 500.69h6.32v5.58h-6.32zM679.07 500.69h6.32v5.58h-6.32zM693.2 500.69h6.32v5.58h-6.32zM742.65 500.69h6.32v5.58h-6.32zM177.45 507.01h6.32v5.58h-6.32zM226.91 507.01h6.32v5.58h-6.32zM241.03 507.01h6.32v5.58h-6.32zM248.1 507.01h6.32v5.58h-6.32zM311.69 507.01h6.32v5.58h-6.32zM396.47 507.01h6.32v5.58h-6.32zM417.66 507.01h6.32v5.58h-6.32zM424.73 507.01h6.32v5.58h-6.32zM431.79 507.01h6.32v5.58h-6.32zM452.99 507.01h6.32v5.58h-6.32zM460.05 507.01h6.32v5.58h-6.32zM474.18 507.01h6.32v5.58h-6.32zM516.57 507.01h6.32v5.58h-6.32zM537.76 507.01h6.32v5.58h-6.32zM580.15 507.01h6.32v5.58h-6.32zM622.55 507.01h6.32v5.58h-6.32zM643.74 507.01h6.32v5.58h-6.32zM650.81 507.01h6.32v5.58h-6.32zM664.94 507.01h6.32v5.58h-6.32zM679.07 507.01h6.32v5.58h-6.32zM686.13 507.01h6.32v5.58h-6.32zM693.2 507.01h6.32v5.58h-6.32zM700.26 507.01h6.32v5.58h-6.32zM707.33 507.01h6.32v5.58h-6.32zM714.39 507.01h6.32v5.58h-6.32zM170.38 513.35h6.32v5.58h-6.32zM304.62 513.35h6.32v5.58h-6.32zM396.47 513.35h6.32v5.58h-6.32zM460.05 513.35h6.32v5.58h-6.32zM502.44 513.35h6.32v5.58h-6.32zM509.5 513.35h6.32v5.58h-6.32zM516.57 513.35h6.32v5.58h-6.32zM523.63 513.35h6.32v5.58h-6.32zM537.76 513.35h6.32v5.58h-6.32zM566.02 513.35h6.32v5.58h-6.32zM573.09 513.35h6.32v5.58h-6.32zM587.22 513.35h6.32v5.58h-6.32zM594.29 513.35h6.32v5.58h-6.32zM601.35 513.35h6.32v5.58h-6.32zM608.42 513.35h6.32v5.58h-6.32zM615.48 513.35h6.32v5.58h-6.32zM622.55 513.35h6.32v5.58h-6.32zM636.68 513.35h6.32v5.58h-6.32zM650.81 513.35h6.32v5.58h-6.32zM657.87 513.35h6.32v5.58h-6.32zM664.94 513.35h6.32v5.58h-6.32zM672 513.35h6.32v5.58h-6.32zM679.07 513.35h6.32v5.58h-6.32zM693.2 513.35h6.32v5.58h-6.32zM700.26 513.35h6.32v5.58h-6.32zM707.33 513.35h6.32v5.58h-6.32zM714.39 513.35h6.32v5.58h-6.32zM721.46 513.35h6.32v5.58h-6.32zM728.52 513.35h6.32v5.58h-6.32zM226.91 519.67h6.32v5.58h-6.32zM523.63 519.67h6.32v5.58h-6.32zM530.7 519.67h6.32v5.58h-6.32zM537.76 519.67h6.32v5.58h-6.32zM587.22 519.67h6.32v5.58h-6.32zM594.29 519.67h6.32v5.58h-6.32zM601.35 519.67h6.32v5.58h-6.32zM608.42 519.67h6.32v5.58h-6.32zM615.48 519.67h6.32v5.58h-6.32zM629.61 519.67h6.32v5.58h-6.32zM636.68 519.67h6.32v5.58h-6.32zM643.74 519.67h6.32v5.58h-6.32zM650.81 519.67h6.32v5.58h-6.32zM657.87 519.67h6.32v5.58h-6.32zM672 519.67h6.32v5.58h-6.32zM679.07 519.67h6.32v5.58h-6.32zM686.13 519.67h6.32v5.58h-6.32zM693.2 519.67h6.32v5.58h-6.32zM700.26 519.67h6.32v5.58h-6.32zM707.33 519.67h6.32v5.58h-6.32zM714.39 519.67h6.32v5.58h-6.32zM269.3 526h6.32v5.58h-6.32zM304.62 526h6.32v5.58h-6.32zM403.53 526h6.32v5.58h-6.32zM530.7 526h6.32v5.58h-6.32zM566.02 526h6.32v5.58h-6.32zM573.09 526h6.32v5.58h-6.32zM580.15 526h6.32v5.58h-6.32zM587.22 526h6.32v5.58h-6.32zM601.35 526h6.32v5.58h-6.32zM636.68 526h6.32v5.58h-6.32zM679.07 526h6.32v5.58h-6.32zM700.26 526h6.32v5.58h-6.32zM707.33 526h6.32v5.58h-6.32zM714.39 526h6.32v5.58h-6.32zM78.54 532.34h6.32v5.58h-6.32zM85.6 532.34h6.32v5.58h-6.32zM219.84 532.34h6.32v5.58h-6.32zM233.97 532.34h6.32v5.58h-6.32zM269.3 532.34h6.32v5.58h-6.32zM276.36 532.34h6.32v5.58h-6.32zM304.62 532.34h6.32v5.58h-6.32zM332.88 532.34h6.32v5.58h-6.32zM339.95 532.34h6.32v5.58h-6.32zM396.47 532.34h6.32v5.58h-6.32zM410.6 532.34h6.32v5.58h-6.32zM530.7 532.34h6.32v5.58h-6.32zM629.61 532.34h6.32v5.58h-6.32zM650.81 532.34h6.32v5.58h-6.32zM657.87 532.34h6.32v5.58h-6.32zM672 532.34h6.32v5.58h-6.32zM170.38 538.66h6.32v5.58h-6.32zM184.51 538.66h6.32v5.58h-6.32zM205.71 538.66h6.32v5.58h-6.32zM304.62 538.66h6.32v5.58h-6.32zM417.66 538.66h6.32v5.58h-6.32zM495.38 538.66h6.32v5.58h-6.32zM537.76 538.66h6.32v5.58h-6.32zM566.02 538.66h6.32v5.58h-6.32zM587.22 538.66h6.32v5.58h-6.32zM594.29 538.66h6.32v5.58h-6.32zM657.87 538.66h6.32v5.58h-6.32zM672 538.66h6.32v5.58h-6.32zM686.13 538.66h6.32v5.58h-6.32zM226.91 545h6.32v5.58h-6.32zM233.97 545h6.32v5.58h-6.32zM241.03 545h6.32v5.58h-6.32zM311.69 545h6.32v5.58h-6.32zM325.81 545h6.32v5.58h-6.32zM339.95 545h6.32v5.58h-6.32zM417.66 545h6.32v5.58h-6.32zM580.15 545h6.32v5.58h-6.32zM594.29 545h6.32v5.58h-6.32zM601.35 545h6.32v5.58h-6.32zM71.47 551.33h6.32v5.58h-6.32zM163.32 551.33h6.32v5.58h-6.32zM255.16 551.33h6.32v5.58h-6.32zM431.79 551.33h6.32v5.58h-6.32zM438.86 551.33h6.32v5.58h-6.32zM452.99 551.33h6.32v5.58h-6.32zM460.05 551.33h6.32v5.58h-6.32zM467.12 551.33h6.32v5.58h-6.32zM481.25 551.33h6.32v5.58h-6.32zM488.31 551.33h6.32v5.58h-6.32zM495.38 551.33h6.32v5.58h-6.32zM502.44 551.33h6.32v5.58h-6.32zM509.5 551.33h6.32v5.58h-6.32zM516.57 551.33h6.32v5.58h-6.32zM530.7 551.33h6.32v5.58h-6.32zM629.61 551.33h6.32v5.58h-6.32zM636.68 551.33h6.32v5.58h-6.32zM650.81 551.33h6.32v5.58h-6.32zM672 551.33h6.32v5.58h-6.32zM686.13 551.33h6.32v5.58h-6.32zM693.2 551.33h6.32v5.58h-6.32zM707.33 551.33h6.32v5.58h-6.32zM714.39 551.33h6.32v5.58h-6.32zM163.32 557.65h6.32v5.58h-6.32zM241.03 557.65h6.32v5.58h-6.32zM262.23 557.65h6.32v5.58h-6.32zM269.3 557.65h6.32v5.58h-6.32zM283.43 557.65h6.32v5.58h-6.32zM354.08 557.65h6.32v5.58h-6.32zM424.73 557.65h6.32v5.58h-6.32zM467.12 557.65h6.32v5.58h-6.32zM509.5 557.65h6.32v5.58h-6.32zM636.68 557.65h6.32v5.58h-6.32zM714.39 557.65h6.32v5.58h-6.32zM142.12 563.99h6.32v5.58h-6.32zM417.66 563.99h6.32v5.58h-6.32zM629.61 563.99h6.32v5.58h-6.32zM650.81 563.99h6.32v5.58h-6.32zM657.87 563.99h6.32v5.58h-6.32zM672 563.99h6.32v5.58h-6.32zM679.07 563.99h6.32v5.58h-6.32zM106.8 570.32h6.32v5.58h-6.32zM241.03 570.32h6.32v5.58h-6.32zM424.73 570.32h6.32v5.58h-6.32zM431.79 570.32h6.32v5.58h-6.32zM460.05 570.32h6.32v5.58h-6.32zM474.18 570.32h6.32v5.58h-6.32zM481.25 570.32h6.32v5.58h-6.32zM495.38 570.32h6.32v5.58h-6.32zM502.44 570.32h6.32v5.58h-6.32zM509.5 570.32h6.32v5.58h-6.32zM629.61 570.32h6.32v5.58h-6.32zM643.74 570.32h6.32v5.58h-6.32zM679.07 570.32h6.32v5.58h-6.32zM686.13 570.32h6.32v5.58h-6.32zM693.2 570.32h6.32v5.58h-6.32zM714.39 570.32h6.32v5.58h-6.32zM721.46 570.32h6.32v5.58h-6.32zM248.1 576.64h6.32v5.58h-6.32zM318.75 576.64h6.32v5.58h-6.32zM396.47 576.64h6.32v5.58h-6.32zM424.73 576.64h6.32v5.58h-6.32zM544.83 576.64h6.32v5.58h-6.32zM629.61 576.64h6.32v5.58h-6.32zM686.13 576.64h6.32v5.58h-6.32zM693.2 576.64h6.32v5.58h-6.32zM700.26 576.64h6.32v5.58h-6.32zM707.33 576.64h6.32v5.58h-6.32zM714.39 576.64h6.32v5.58h-6.32zM721.46 576.64h6.32v5.58h-6.32zM71.47 582.98h6.32v5.58h-6.32zM332.88 582.98h6.32v5.58h-6.32zM396.47 582.98h6.32v5.58h-6.32zM417.66 582.98h6.32v5.58h-6.32zM424.73 582.98h6.32v5.58h-6.32zM438.86 582.98h6.32v5.58h-6.32zM523.63 582.98h6.32v5.58h-6.32zM530.7 582.98h6.32v5.58h-6.32zM629.61 582.98h6.32v5.58h-6.32zM672 582.98h6.32v5.58h-6.32zM679.07 582.98h6.32v5.58h-6.32zM686.13 582.98h6.32v5.58h-6.32zM693.2 582.98h6.32v5.58h-6.32zM714.39 582.98h6.32v5.58h-6.32zM325.81 589.31h6.32v5.58h-6.32zM347.01 589.31h6.32v5.58h-6.32zM375.27 589.31h6.32v5.58h-6.32zM396.47 589.31h6.32v5.58h-6.32zM417.66 589.31h6.32v5.58h-6.32zM424.73 589.31h6.32v5.58h-6.32zM438.86 589.31h6.32v5.58h-6.32zM481.25 589.31h6.32v5.58h-6.32zM488.31 589.31h6.32v5.58h-6.32zM495.38 589.31h6.32v5.58h-6.32zM509.5 589.31h6.32v5.58h-6.32zM544.83 589.31h6.32v5.58h-6.32zM643.74 589.31h6.32v5.58h-6.32zM700.26 589.31h6.32v5.58h-6.32zM707.33 589.31h6.32v5.58h-6.32zM714.39 589.31h6.32v5.58h-6.32zM721.46 589.31h6.32v5.58h-6.32zM735.59 589.31h6.32v5.58h-6.32zM742.65 589.31h6.32v5.58h-6.32zM113.86 595.63h6.32v5.58h-6.32zM325.81 595.63h6.32v5.58h-6.32zM332.88 595.63h6.32v5.58h-6.32zM347.01 595.63h6.32v5.58h-6.32zM424.73 595.63h6.32v5.58h-6.32zM467.12 595.63h6.32v5.58h-6.32zM481.25 595.63h6.32v5.58h-6.32zM488.31 595.63h6.32v5.58h-6.32zM495.38 595.63h6.32v5.58h-6.32zM516.57 595.63h6.32v5.58h-6.32zM544.83 595.63h6.32v5.58h-6.32zM622.55 595.63h6.32v5.58h-6.32zM629.61 595.63h6.32v5.58h-6.32zM643.74 595.63h6.32v5.58h-6.32zM650.81 595.63h6.32v5.58h-6.32zM672 595.63h6.32v5.58h-6.32zM700.26 595.63h6.32v5.58h-6.32zM707.33 595.63h6.32v5.58h-6.32zM714.39 595.63h6.32v5.58h-6.32zM721.46 595.63h6.32v5.58h-6.32zM71.47 601.97h6.32v5.58h-6.32zM113.86 601.97h6.32v5.58h-6.32zM120.93 601.97h6.32v5.58h-6.32zM431.79 601.97h6.32v5.58h-6.32zM502.44 601.97h6.32v5.58h-6.32zM509.5 601.97h6.32v5.58h-6.32zM516.57 601.97h6.32v5.58h-6.32zM544.83 601.97h6.32v5.58h-6.32zM580.15 601.97h6.32v5.58h-6.32zM636.68 601.97h6.32v5.58h-6.32zM643.74 601.97h6.32v5.58h-6.32zM679.07 601.97h6.32v5.58h-6.32zM700.26 601.97h6.32v5.58h-6.32zM707.33 601.97h6.32v5.58h-6.32zM721.46 601.97h6.32v5.58h-6.32zM191.58 608.3h6.32v5.58h-6.32zM233.97 608.3h6.32v5.58h-6.32zM241.03 608.3h6.32v5.58h-6.32zM269.3 608.3h6.32v5.58h-6.32zM276.36 608.3h6.32v5.58h-6.32zM297.56 608.3h6.32v5.58h-6.32zM396.47 608.3h6.32v5.58h-6.32zM481.25 608.3h6.32v5.58h-6.32zM537.76 608.3h6.32v5.58h-6.32zM580.15 608.3h6.32v5.58h-6.32zM664.94 608.3h6.32v5.58h-6.32zM672 608.3h6.32v5.58h-6.32zM679.07 608.3h6.32v5.58h-6.32zM686.13 608.3h6.32v5.58h-6.32zM693.2 608.3h6.32v5.58h-6.32zM71.47 614.62h6.32v5.58h-6.32zM297.56 614.62h6.32v5.58h-6.32zM311.69 614.62h6.32v5.58h-6.32zM332.88 614.62h6.32v5.58h-6.32zM368.21 614.62h6.32v5.58h-6.32zM375.27 614.62h6.32v5.58h-6.32zM396.47 614.62h6.32v5.58h-6.32zM410.6 614.62h6.32v5.58h-6.32zM438.86 614.62h6.32v5.58h-6.32zM580.15 614.62h6.32v5.58h-6.32zM629.61 614.62h6.32v5.58h-6.32zM636.68 614.62h6.32v5.58h-6.32zM650.81 614.62h6.32v5.58h-6.32zM657.87 614.62h6.32v5.58h-6.32zM664.94 614.62h6.32v5.58h-6.32zM686.13 614.62h6.32v5.58h-6.32zM714.39 614.62h6.32v5.58h-6.32zM163.32 620.96h6.32v5.58h-6.32zM191.58 620.96h6.32v5.58h-6.32zM205.71 620.96h6.32v5.58h-6.32zM233.97 620.96h6.32v5.58h-6.32zM241.03 620.96h6.32v5.58h-6.32zM297.56 620.96h6.32v5.58h-6.32zM304.62 620.96h6.32v5.58h-6.32zM509.5 620.96h6.32v5.58h-6.32zM530.7 620.96h6.32v5.58h-6.32zM657.87 620.96h6.32v5.58h-6.32zM679.07 620.96h6.32v5.58h-6.32zM728.52 620.96h6.32v5.58h-6.32zM71.47 627.28h6.32v5.58h-6.32zM276.36 627.28h6.32v5.58h-6.32zM304.62 627.28h6.32v5.58h-6.32zM339.95 627.28h6.32v5.58h-6.32zM375.27 627.28h6.32v5.58h-6.32zM438.86 627.28h6.32v5.58h-6.32zM467.12 627.28h6.32v5.58h-6.32zM481.25 627.28h6.32v5.58h-6.32zM643.74 627.28h6.32v5.58h-6.32zM664.94 627.28h6.32v5.58h-6.32zM679.07 627.28h6.32v5.58h-6.32z" fill="#710000"/>
<path d="M92.67 456.38h6.32v5.58h-6.32zM332.88 456.38h6.32v5.58h-6.32zM410.6 456.38h6.32v5.58h-6.32zM92.67 462.7h6.32v5.58h-6.32zM120.93 462.7h6.32v5.58h-6.32zM403.53 462.7h6.32v5.58h-6.32zM417.66 462.7h6.32v5.58h-6.32zM474.18 462.7h6.32v5.58h-6.32zM184.51 469.04h6.32v5.58h-6.32zM226.91 469.04h6.32v5.58h-6.32zM417.66 469.04h6.32v5.58h-6.32zM523.63 469.04h6.32v5.58h-6.32zM735.59 469.04h6.32v5.58h-6.32zM742.65 469.04h6.32v5.58h-6.32zM212.78 475.37h6.32v5.58h-6.32zM608.42 475.37h6.32v5.58h-6.32zM78.54 481.69h6.32v5.58h-6.32zM283.43 481.69h6.32v5.58h-6.32zM657.87 481.69h6.32v5.58h-6.32zM672 481.69h6.32v5.58h-6.32zM580.15 488.02h6.32v5.58h-6.32zM580.15 494.36h6.32v5.58h-6.32zM608.42 494.36h6.32v5.58h-6.32zM636.68 507.01h6.32v5.58h-6.32zM672 507.01h6.32v5.58h-6.32zM226.91 513.35h6.32v5.58h-6.32zM580.15 513.35h6.32v5.58h-6.32zM297.56 519.67h6.32v5.58h-6.32zM580.15 519.67h6.32v5.58h-6.32zM233.97 526h6.32v5.58h-6.32zM664.94 526h6.32v5.58h-6.32zM686.13 526h6.32v5.58h-6.32zM693.2 526h6.32v5.58h-6.32zM226.91 532.34h6.32v5.58h-6.32zM403.53 532.34h6.32v5.58h-6.32zM523.63 532.34h6.32v5.58h-6.32zM191.58 538.66h6.32v5.58h-6.32zM212.78 538.66h6.32v5.58h-6.32zM636.68 545h6.32v5.58h-6.32zM657.87 545h6.32v5.58h-6.32zM255.16 557.65h6.32v5.58h-6.32zM276.36 557.65h6.32v5.58h-6.32zM438.86 557.65h6.32v5.58h-6.32zM452.99 557.65h6.32v5.58h-6.32zM530.7 557.65h6.32v5.58h-6.32zM650.81 557.65h6.32v5.58h-6.32zM452.99 563.99h6.32v5.58h-6.32zM226.91 570.32h6.32v5.58h-6.32zM445.92 570.32h6.32v5.58h-6.32zM226.91 576.64h6.32v5.58h-6.32zM643.74 576.64h6.32v5.58h-6.32zM643.74 582.98h6.32v5.58h-6.32zM502.44 589.31h6.32v5.58h-6.32zM516.57 589.31h6.32v5.58h-6.32zM636.68 589.31h6.32v5.58h-6.32zM502.44 595.63h6.32v5.58h-6.32zM636.68 595.63h6.32v5.58h-6.32zM537.76 601.97h6.32v5.58h-6.32zM636.68 608.3h6.32v5.58h-6.32zM650.81 608.3h6.32v5.58h-6.32zM700.26 608.3h6.32v5.58h-6.32zM417.66 620.96h6.32v5.58h-6.32zM424.73 620.96h6.32v5.58h-6.32zM99.73 627.28h6.32v5.58h-6.32zM219.84 627.28h6.32v5.58h-6.32zM226.91 627.28h6.32v5.58h-6.32zM269.3 627.28h6.32v5.58h-6.32zM650.81 627.28h6.32v5.58h-6.32zM657.87 627.28h6.32v5.58h-6.32z" fill="#c40404"/>
<path d="M106.8 456.38h6.32v5.58h-6.32zM156.25 456.38h6.32v5.58h-6.32zM170.38 456.38h6.32v5.58h-6.32zM191.58 456.38h6.32v5.58h-6.32zM205.71 456.38h6.32v5.58h-6.32zM262.23 456.38h6.32v5.58h-6.32zM297.56 456.38h6.32v5.58h-6.32zM523.63 456.38h6.32v5.58h-6.32zM551.89 456.38h6.32v5.58h-6.32zM573.09 456.38h6.32v5.58h-6.32zM594.29 456.38h6.32v5.58h-6.32zM615.48 456.38h6.32v5.58h-6.32zM650.81 456.38h6.32v5.58h-6.32zM693.2 456.38h6.32v5.58h-6.32zM728.52 456.38h6.32v5.58h-6.32zM177.45 462.7h6.32v5.58h-6.32zM205.71 462.7h6.32v5.58h-6.32zM276.36 462.7h6.32v5.58h-6.32zM297.56 462.7h6.32v5.58h-6.32zM382.34 462.7h6.32v5.58h-6.32zM389.4 462.7h6.32v5.58h-6.32zM424.73 462.7h6.32v5.58h-6.32zM481.25 462.7h6.32v5.58h-6.32zM502.44 462.7h6.32v5.58h-6.32zM509.5 462.7h6.32v5.58h-6.32zM615.48 462.7h6.32v5.58h-6.32zM664.94 462.7h6.32v5.58h-6.32zM714.39 462.7h6.32v5.58h-6.32zM728.52 462.7h6.32v5.58h-6.32zM735.59 462.7h6.32v5.58h-6.32zM120.93 469.04h6.32v5.58h-6.32zM135.06 469.04h6.32v5.58h-6.32zM142.12 469.04h6.32v5.58h-6.32zM149.19 469.04h6.32v5.58h-6.32zM191.58 469.04h6.32v5.58h-6.32zM248.1 469.04h6.32v5.58h-6.32zM276.36 469.04h6.32v5.58h-6.32zM290.49 469.04h6.32v5.58h-6.32zM297.56 469.04h6.32v5.58h-6.32zM318.75 469.04h6.32v5.58h-6.32zM382.34 469.04h6.32v5.58h-6.32zM389.4 469.04h6.32v5.58h-6.32zM445.92 469.04h6.32v5.58h-6.32zM551.89 469.04h6.32v5.58h-6.32zM558.96 469.04h6.32v5.58h-6.32zM573.09 469.04h6.32v5.58h-6.32zM601.35 469.04h6.32v5.58h-6.32zM664.94 469.04h6.32v5.58h-6.32zM142.12 475.37h6.32v5.58h-6.32zM156.25 475.37h6.32v5.58h-6.32zM163.32 475.37h6.32v5.58h-6.32zM198.64 475.37h6.32v5.58h-6.32zM262.23 475.37h6.32v5.58h-6.32zM269.3 475.37h6.32v5.58h-6.32zM290.49 475.37h6.32v5.58h-6.32zM318.75 475.37h6.32v5.58h-6.32zM452.99 475.37h6.32v5.58h-6.32zM481.25 475.37h6.32v5.58h-6.32zM488.31 475.37h6.32v5.58h-6.32zM693.2 475.37h6.32v5.58h-6.32zM99.73 481.69h6.32v5.58h-6.32zM120.93 481.69h6.32v5.58h-6.32zM128 481.69h6.32v5.58h-6.32zM163.32 481.69h6.32v5.58h-6.32zM184.51 481.69h6.32v5.58h-6.32zM191.58 481.69h6.32v5.58h-6.32zM198.64 481.69h6.32v5.58h-6.32zM205.71 481.69h6.32v5.58h-6.32zM219.84 481.69h6.32v5.58h-6.32zM262.23 481.69h6.32v5.58h-6.32zM467.12 481.69h6.32v5.58h-6.32zM495.38 481.69h6.32v5.58h-6.32zM544.83 481.69h6.32v5.58h-6.32zM742.65 481.69h6.32v5.58h-6.32zM85.6 488.02h6.32v5.58h-6.32zM92.67 488.02h6.32v5.58h-6.32zM120.93 488.02h6.32v5.58h-6.32zM128 488.02h6.32v5.58h-6.32zM135.06 488.02h6.32v5.58h-6.32zM142.12 488.02h6.32v5.58h-6.32zM156.25 488.02h6.32v5.58h-6.32zM212.78 488.02h6.32v5.58h-6.32zM233.97 488.02h6.32v5.58h-6.32zM283.43 488.02h6.32v5.58h-6.32zM311.69 488.02h6.32v5.58h-6.32zM318.75 488.02h6.32v5.58h-6.32zM382.34 488.02h6.32v5.58h-6.32zM396.47 488.02h6.32v5.58h-6.32zM417.66 488.02h6.32v5.58h-6.32zM636.68 488.02h6.32v5.58h-6.32zM71.47 494.36h6.32v5.58h-6.32zM120.93 494.36h6.32v5.58h-6.32zM128 494.36h6.32v5.58h-6.32zM198.64 494.36h6.32v5.58h-6.32zM212.78 494.36h6.32v5.58h-6.32zM219.84 494.36h6.32v5.58h-6.32zM276.36 494.36h6.32v5.58h-6.32zM283.43 494.36h6.32v5.58h-6.32zM311.69 494.36h6.32v5.58h-6.32zM410.6 494.36h6.32v5.58h-6.32zM417.66 494.36h6.32v5.58h-6.32zM460.05 494.36h6.32v5.58h-6.32zM71.47 500.69h6.32v5.58h-6.32zM78.54 500.69h6.32v5.58h-6.32zM85.6 500.69h6.32v5.58h-6.32zM120.93 500.69h6.32v5.58h-6.32zM128 500.69h6.32v5.58h-6.32zM142.12 500.69h6.32v5.58h-6.32zM163.32 500.69h6.32v5.58h-6.32zM170.38 500.69h6.32v5.58h-6.32zM205.71 500.69h6.32v5.58h-6.32zM233.97 500.69h6.32v5.58h-6.32zM283.43 500.69h6.32v5.58h-6.32zM311.69 500.69h6.32v5.58h-6.32zM629.61 500.69h6.32v5.58h-6.32zM636.68 500.69h6.32v5.58h-6.32zM99.73 507.01h6.32v5.58h-6.32zM113.86 507.01h6.32v5.58h-6.32zM120.93 507.01h6.32v5.58h-6.32zM128 507.01h6.32v5.58h-6.32zM205.71 507.01h6.32v5.58h-6.32zM283.43 507.01h6.32v5.58h-6.32zM290.49 507.01h6.32v5.58h-6.32zM325.81 507.01h6.32v5.58h-6.32zM339.95 507.01h6.32v5.58h-6.32zM347.01 507.01h6.32v5.58h-6.32zM368.21 507.01h6.32v5.58h-6.32zM382.34 507.01h6.32v5.58h-6.32zM438.86 507.01h6.32v5.58h-6.32zM551.89 507.01h6.32v5.58h-6.32zM106.8 513.35h6.32v5.58h-6.32zM113.86 513.35h6.32v5.58h-6.32zM120.93 513.35h6.32v5.58h-6.32zM142.12 513.35h6.32v5.58h-6.32zM149.19 513.35h6.32v5.58h-6.32zM163.32 513.35h6.32v5.58h-6.32zM198.64 513.35h6.32v5.58h-6.32zM212.78 513.35h6.32v5.58h-6.32zM241.03 513.35h6.32v5.58h-6.32zM339.95 513.35h6.32v5.58h-6.32zM382.34 513.35h6.32v5.58h-6.32zM403.53 513.35h6.32v5.58h-6.32zM424.73 513.35h6.32v5.58h-6.32zM467.12 513.35h6.32v5.58h-6.32zM474.18 513.35h6.32v5.58h-6.32zM488.31 513.35h6.32v5.58h-6.32zM735.59 513.35h6.32v5.58h-6.32zM142.12 519.67h6.32v5.58h-6.32zM198.64 519.67h6.32v5.58h-6.32zM255.16 519.67h6.32v5.58h-6.32zM262.23 519.67h6.32v5.58h-6.32zM290.49 519.67h6.32v5.58h-6.32zM318.75 519.67h6.32v5.58h-6.32zM325.81 519.67h6.32v5.58h-6.32zM354.08 519.67h6.32v5.58h-6.32zM361.14 519.67h6.32v5.58h-6.32zM389.4 519.67h6.32v5.58h-6.32zM403.53 519.67h6.32v5.58h-6.32zM467.12 519.67h6.32v5.58h-6.32zM544.83 519.67h6.32v5.58h-6.32zM728.52 519.67h6.32v5.58h-6.32zM142.12 526h6.32v5.58h-6.32zM149.19 526h6.32v5.58h-6.32zM163.32 526h6.32v5.58h-6.32zM354.08 526h6.32v5.58h-6.32zM361.14 526h6.32v5.58h-6.32zM382.34 526h6.32v5.58h-6.32zM460.05 526h6.32v5.58h-6.32zM467.12 526h6.32v5.58h-6.32zM474.18 526h6.32v5.58h-6.32zM495.38 526h6.32v5.58h-6.32zM735.59 526h6.32v5.58h-6.32zM742.65 526h6.32v5.58h-6.32zM71.47 532.34h6.32v5.58h-6.32zM113.86 532.34h6.32v5.58h-6.32zM156.25 532.34h6.32v5.58h-6.32zM262.23 532.34h6.32v5.58h-6.32zM354.08 532.34h6.32v5.58h-6.32zM361.14 532.34h6.32v5.58h-6.32zM382.34 532.34h6.32v5.58h-6.32zM389.4 532.34h6.32v5.58h-6.32zM438.86 532.34h6.32v5.58h-6.32zM467.12 532.34h6.32v5.58h-6.32zM474.18 532.34h6.32v5.58h-6.32zM551.89 532.34h6.32v5.58h-6.32zM85.6 538.66h6.32v5.58h-6.32zM99.73 538.66h6.32v5.58h-6.32zM149.19 538.66h6.32v5.58h-6.32zM163.32 538.66h6.32v5.58h-6.32zM255.16 538.66h6.32v5.58h-6.32zM269.3 538.66h6.32v5.58h-6.32zM297.56 538.66h6.32v5.58h-6.32zM332.88 538.66h6.32v5.58h-6.32zM354.08 538.66h6.32v5.58h-6.32zM361.14 538.66h6.32v5.58h-6.32zM488.31 538.66h6.32v5.58h-6.32zM530.7 538.66h6.32v5.58h-6.32zM615.48 538.66h6.32v5.58h-6.32zM735.59 538.66h6.32v5.58h-6.32zM113.86 545h6.32v5.58h-6.32zM255.16 545h6.32v5.58h-6.32zM262.23 545h6.32v5.58h-6.32zM368.21 545h6.32v5.58h-6.32zM382.34 545h6.32v5.58h-6.32zM424.73 545h6.32v5.58h-6.32zM438.86 545h6.32v5.58h-6.32zM445.92 545h6.32v5.58h-6.32zM530.7 545h6.32v5.58h-6.32zM558.96 545h6.32v5.58h-6.32zM120.93 551.33h6.32v5.58h-6.32zM191.58 551.33h6.32v5.58h-6.32zM205.71 551.33h6.32v5.58h-6.32zM311.69 551.33h6.32v5.58h-6.32zM318.75 551.33h6.32v5.58h-6.32zM325.81 551.33h6.32v5.58h-6.32zM332.88 551.33h6.32v5.58h-6.32zM339.95 551.33h6.32v5.58h-6.32zM347.01 551.33h6.32v5.58h-6.32zM389.4 551.33h6.32v5.58h-6.32zM410.6 551.33h6.32v5.58h-6.32zM742.65 551.33h6.32v5.58h-6.32zM128 557.65h6.32v5.58h-6.32zM170.38 557.65h6.32v5.58h-6.32zM198.64 557.65h6.32v5.58h-6.32zM212.78 557.65h6.32v5.58h-6.32zM219.84 557.65h6.32v5.58h-6.32zM233.97 557.65h6.32v5.58h-6.32zM297.56 557.65h6.32v5.58h-6.32zM304.62 557.65h6.32v5.58h-6.32zM318.75 557.65h6.32v5.58h-6.32zM325.81 557.65h6.32v5.58h-6.32zM339.95 557.65h6.32v5.58h-6.32zM368.21 557.65h6.32v5.58h-6.32zM410.6 557.65h6.32v5.58h-6.32zM594.29 557.65h6.32v5.58h-6.32zM601.35 557.65h6.32v5.58h-6.32zM608.42 557.65h6.32v5.58h-6.32zM615.48 557.65h6.32v5.58h-6.32zM700.26 557.65h6.32v5.58h-6.32zM78.54 563.99h6.32v5.58h-6.32zM106.8 563.99h6.32v5.58h-6.32zM184.51 563.99h6.32v5.58h-6.32zM191.58 563.99h6.32v5.58h-6.32zM241.03 563.99h6.32v5.58h-6.32zM325.81 563.99h6.32v5.58h-6.32zM347.01 563.99h6.32v5.58h-6.32zM382.34 563.99h6.32v5.58h-6.32zM389.4 563.99h6.32v5.58h-6.32zM728.52 563.99h6.32v5.58h-6.32zM735.59 563.99h6.32v5.58h-6.32zM78.54 570.32h6.32v5.58h-6.32zM92.67 570.32h6.32v5.58h-6.32zM156.25 570.32h6.32v5.58h-6.32zM170.38 570.32h6.32v5.58h-6.32zM184.51 570.32h6.32v5.58h-6.32zM191.58 570.32h6.32v5.58h-6.32zM198.64 570.32h6.32v5.58h-6.32zM205.71 570.32h6.32v5.58h-6.32zM212.78 570.32h6.32v5.58h-6.32zM233.97 570.32h6.32v5.58h-6.32zM318.75 570.32h6.32v5.58h-6.32zM382.34 570.32h6.32v5.58h-6.32zM389.4 570.32h6.32v5.58h-6.32zM551.89 570.32h6.32v5.58h-6.32zM601.35 570.32h6.32v5.58h-6.32zM113.86 576.64h6.32v5.58h-6.32zM156.25 576.64h6.32v5.58h-6.32zM332.88 576.64h6.32v5.58h-6.32zM347.01 576.64h6.32v5.58h-6.32zM467.12 576.64h6.32v5.58h-6.32zM481.25 576.64h6.32v5.58h-6.32zM516.57 576.64h6.32v5.58h-6.32zM608.42 576.64h6.32v5.58h-6.32zM615.48 576.64h6.32v5.58h-6.32zM622.55 576.64h6.32v5.58h-6.32zM742.65 576.64h6.32v5.58h-6.32zM85.6 582.98h6.32v5.58h-6.32zM106.8 582.98h6.32v5.58h-6.32zM113.86 582.98h6.32v5.58h-6.32zM128 582.98h6.32v5.58h-6.32zM149.19 582.98h6.32v5.58h-6.32zM156.25 582.98h6.32v5.58h-6.32zM318.75 582.98h6.32v5.58h-6.32zM389.4 582.98h6.32v5.58h-6.32zM445.92 582.98h6.32v5.58h-6.32zM580.15 582.98h6.32v5.58h-6.32zM601.35 582.98h6.32v5.58h-6.32zM615.48 582.98h6.32v5.58h-6.32zM728.52 582.98h6.32v5.58h-6.32zM735.59 582.98h6.32v5.58h-6.32zM92.67 589.31h6.32v5.58h-6.32zM106.8 589.31h6.32v5.58h-6.32zM128 589.31h6.32v5.58h-6.32zM135.06 589.31h6.32v5.58h-6.32zM156.25 589.31h6.32v5.58h-6.32zM170.38 589.31h6.32v5.58h-6.32zM205.71 589.31h6.32v5.58h-6.32zM212.78 589.31h6.32v5.58h-6.32zM219.84 589.31h6.32v5.58h-6.32zM241.03 589.31h6.32v5.58h-6.32zM276.36 589.31h6.32v5.58h-6.32zM283.43 589.31h6.32v5.58h-6.32zM297.56 589.31h6.32v5.58h-6.32zM311.69 589.31h6.32v5.58h-6.32zM460.05 589.31h6.32v5.58h-6.32zM523.63 589.31h6.32v5.58h-6.32zM587.22 589.31h6.32v5.58h-6.32zM78.54 595.63h6.32v5.58h-6.32zM99.73 595.63h6.32v5.58h-6.32zM149.19 595.63h6.32v5.58h-6.32zM156.25 595.63h6.32v5.58h-6.32zM198.64 595.63h6.32v5.58h-6.32zM205.71 595.63h6.32v5.58h-6.32zM241.03 595.63h6.32v5.58h-6.32zM297.56 595.63h6.32v5.58h-6.32zM311.69 595.63h6.32v5.58h-6.32zM389.4 595.63h6.32v5.58h-6.32zM460.05 595.63h6.32v5.58h-6.32zM587.22 595.63h6.32v5.58h-6.32zM85.6 601.97h6.32v5.58h-6.32zM128 601.97h6.32v5.58h-6.32zM156.25 601.97h6.32v5.58h-6.32zM184.51 601.97h6.32v5.58h-6.32zM248.1 601.97h6.32v5.58h-6.32zM311.69 601.97h6.32v5.58h-6.32zM361.14 601.97h6.32v5.58h-6.32zM410.6 601.97h6.32v5.58h-6.32zM587.22 601.97h6.32v5.58h-6.32zM78.54 608.3h6.32v5.58h-6.32zM170.38 608.3h6.32v5.58h-6.32zM318.75 608.3h6.32v5.58h-6.32zM325.81 608.3h6.32v5.58h-6.32zM382.34 608.3h6.32v5.58h-6.32zM417.66 608.3h6.32v5.58h-6.32zM431.79 608.3h6.32v5.58h-6.32zM438.86 608.3h6.32v5.58h-6.32zM502.44 608.3h6.32v5.58h-6.32zM509.5 608.3h6.32v5.58h-6.32zM551.89 608.3h6.32v5.58h-6.32zM728.52 608.3h6.32v5.58h-6.32zM85.6 614.62h6.32v5.58h-6.32zM226.91 614.62h6.32v5.58h-6.32zM241.03 614.62h6.32v5.58h-6.32zM318.75 614.62h6.32v5.58h-6.32zM339.95 614.62h6.32v5.58h-6.32zM361.14 614.62h6.32v5.58h-6.32zM382.34 614.62h6.32v5.58h-6.32zM445.92 614.62h6.32v5.58h-6.32zM488.31 614.62h6.32v5.58h-6.32zM551.89 614.62h6.32v5.58h-6.32zM608.42 614.62h6.32v5.58h-6.32zM615.48 614.62h6.32v5.58h-6.32zM622.55 614.62h6.32v5.58h-6.32zM728.52 614.62h6.32v5.58h-6.32zM92.67 620.96h6.32v5.58h-6.32zM106.8 620.96h6.32v5.58h-6.32zM120.93 620.96h6.32v5.58h-6.32zM142.12 620.96h6.32v5.58h-6.32zM177.45 620.96h6.32v5.58h-6.32zM184.51 620.96h6.32v5.58h-6.32zM212.78 620.96h6.32v5.58h-6.32zM262.23 620.96h6.32v5.58h-6.32zM269.3 620.96h6.32v5.58h-6.32zM325.81 620.96h6.32v5.58h-6.32zM332.88 620.96h6.32v5.58h-6.32zM339.95 620.96h6.32v5.58h-6.32zM354.08 620.96h6.32v5.58h-6.32zM361.14 620.96h6.32v5.58h-6.32zM368.21 620.96h6.32v5.58h-6.32zM382.34 620.96h6.32v5.58h-6.32zM410.6 620.96h6.32v5.58h-6.32zM488.31 620.96h6.32v5.58h-6.32zM537.76 620.96h6.32v5.58h-6.32zM551.89 620.96h6.32v5.58h-6.32zM615.48 620.96h6.32v5.58h-6.32zM714.39 620.96h6.32v5.58h-6.32zM92.67 627.28h6.32v5.58h-6.32zM113.86 627.28h6.32v5.58h-6.32zM128 627.28h6.32v5.58h-6.32zM149.19 627.28h6.32v5.58h-6.32zM163.32 627.28h6.32v5.58h-6.32zM248.1 627.28h6.32v5.58h-6.32zM262.23 627.28h6.32v5.58h-6.32zM283.43 627.28h6.32v5.58h-6.32zM311.69 627.28h6.32v5.58h-6.32zM332.88 627.28h6.32v5.58h-6.32zM354.08 627.28h6.32v5.58h-6.32zM361.14 627.28h6.32v5.58h-6.32zM396.47 627.28h6.32v5.58h-6.32zM410.6 627.28h6.32v5.58h-6.32zM460.05 627.28h6.32v5.58h-6.32zM488.31 627.28h6.32v5.58h-6.32zM537.76 627.28h6.32v5.58h-6.32zM544.83 627.28h6.32v5.58h-6.32zM558.96 627.28h6.32v5.58h-6.32zM580.15 627.28h6.32v5.58h-6.32zM594.29 627.28h6.32v5.58h-6.32zM608.42 627.28h6.32v5.58h-6.32zM615.48 627.28h6.32v5.58h-6.32zM672 627.28h6.32v5.58h-6.32z" fill="#006a00"/>
<path d="M113.86 456.38h6.32v5.58h-6.32zM120.93 456.38h6.32v5.58h-6.32zM135.06 456.38h6.32v5.58h-6.32zM212.78 456.38h6.32v5.58h-6.32zM219.84 456.38h6.32v5.58h-6.32zM226.91 456.38h6.32v5.58h-6.32zM233.97 456.38h6.32v5.58h-6.32zM283.43 456.38h6.32v5.58h-6.32zM304.62 456.38h6.32v5.58h-6.32zM318.75 456.38h6.32v5.58h-6.32zM339.95 456.38h6.32v5.58h-6.32zM361.14 456.38h6.32v5.58h-6.32zM375.27 456.38h6.32v5.58h-6.32zM424.73 456.38h6.32v5.58h-6.32zM431.79 456.38h6.32v5.58h-6.32zM438.86 456.38h6.32v5.58h-6.32zM445.92 456.38h6.32v5.58h-6.32zM460.05 456.38h6.32v5.58h-6.32zM474.18 456.38h6.32v5.58h-6.32zM481.25 456.38h6.32v5.58h-6.32zM509.5 456.38h6.32v5.58h-6.32zM537.76 456.38h6.32v5.58h-6.32zM544.83 456.38h6.32v5.58h-6.32zM601.35 456.38h6.32v5.58h-6.32zM622.55 456.38h6.32v5.58h-6.32zM629.61 456.38h6.32v5.58h-6.32zM657.87 456.38h6.32v5.58h-6.32zM679.07 456.38h6.32v5.58h-6.32zM686.13 456.38h6.32v5.58h-6.32zM113.86 462.7h6.32v5.58h-6.32zM128 462.7h6.32v5.58h-6.32zM135.06 462.7h6.32v5.58h-6.32zM156.25 462.7h6.32v5.58h-6.32zM184.51 462.7h6.32v5.58h-6.32zM198.64 462.7h6.32v5.58h-6.32zM283.43 462.7h6.32v5.58h-6.32zM325.81 462.7h6.32v5.58h-6.32zM332.88 462.7h6.32v5.58h-6.32zM361.14 462.7h6.32v5.58h-6.32zM396.47 462.7h6.32v5.58h-6.32zM410.6 462.7h6.32v5.58h-6.32zM530.7 462.7h6.32v5.58h-6.32zM537.76 462.7h6.32v5.58h-6.32zM566.02 462.7h6.32v5.58h-6.32zM594.29 462.7h6.32v5.58h-6.32zM601.35 462.7h6.32v5.58h-6.32zM650.81 462.7h6.32v5.58h-6.32zM679.07 462.7h6.32v5.58h-6.32zM71.47 469.04h6.32v5.58h-6.32zM78.54 469.04h6.32v5.58h-6.32zM92.67 469.04h6.32v5.58h-6.32zM106.8 469.04h6.32v5.58h-6.32zM170.38 469.04h6.32v5.58h-6.32zM304.62 469.04h6.32v5.58h-6.32zM368.21 469.04h6.32v5.58h-6.32zM396.47 469.04h6.32v5.58h-6.32zM431.79 469.04h6.32v5.58h-6.32zM452.99 469.04h6.32v5.58h-6.32zM467.12 469.04h6.32v5.58h-6.32zM516.57 469.04h6.32v5.58h-6.32zM587.22 469.04h6.32v5.58h-6.32zM615.48 469.04h6.32v5.58h-6.32zM622.55 469.04h6.32v5.58h-6.32zM629.61 469.04h6.32v5.58h-6.32zM636.68 469.04h6.32v5.58h-6.32zM650.81 469.04h6.32v5.58h-6.32zM672 469.04h6.32v5.58h-6.32zM679.07 469.04h6.32v5.58h-6.32zM686.13 469.04h6.32v5.58h-6.32zM693.2 469.04h6.32v5.58h-6.32zM700.26 469.04h6.32v5.58h-6.32zM714.39 469.04h6.32v5.58h-6.32zM99.73 475.37h6.32v5.58h-6.32zM106.8 475.37h6.32v5.58h-6.32zM177.45 475.37h6.32v5.58h-6.32zM283.43 475.37h6.32v5.58h-6.32zM311.69 475.37h6.32v5.58h-6.32zM325.81 475.37h6.32v5.58h-6.32zM339.95 475.37h6.32v5.58h-6.32zM347.01 475.37h6.32v5.58h-6.32zM361.14 475.37h6.32v5.58h-6.32zM417.66 475.37h6.32v5.58h-6.32zM445.92 475.37h6.32v5.58h-6.32zM467.12 475.37h6.32v5.58h-6.32zM509.5 475.37h6.32v5.58h-6.32zM516.57 475.37h6.32v5.58h-6.32zM530.7 475.37h6.32v5.58h-6.32zM558.96 475.37h6.32v5.58h-6.32zM573.09 475.37h6.32v5.58h-6.32zM622.55 475.37h6.32v5.58h-6.32zM707.33 475.37h6.32v5.58h-6.32zM721.46 475.37h6.32v5.58h-6.32zM113.86 481.69h6.32v5.58h-6.32zM177.45 481.69h6.32v5.58h-6.32zM212.78 481.69h6.32v5.58h-6.32zM276.36 481.69h6.32v5.58h-6.32zM290.49 481.69h6.32v5.58h-6.32zM318.75 481.69h6.32v5.58h-6.32zM347.01 481.69h6.32v5.58h-6.32zM361.14 481.69h6.32v5.58h-6.32zM403.53 481.69h6.32v5.58h-6.32zM410.6 481.69h6.32v5.58h-6.32zM438.86 481.69h6.32v5.58h-6.32zM445.92 481.69h6.32v5.58h-6.32zM452.99 481.69h6.32v5.58h-6.32zM460.05 481.69h6.32v5.58h-6.32zM502.44 481.69h6.32v5.58h-6.32zM523.63 481.69h6.32v5.58h-6.32zM636.68 481.69h6.32v5.58h-6.32zM686.13 481.69h6.32v5.58h-6.32zM735.59 481.69h6.32v5.58h-6.32zM99.73 488.02h6.32v5.58h-6.32zM170.38 488.02h6.32v5.58h-6.32zM255.16 488.02h6.32v5.58h-6.32zM269.3 488.02h6.32v5.58h-6.32zM276.36 488.02h6.32v5.58h-6.32zM297.56 488.02h6.32v5.58h-6.32zM304.62 488.02h6.32v5.58h-6.32zM332.88 488.02h6.32v5.58h-6.32zM410.6 488.02h6.32v5.58h-6.32zM431.79 488.02h6.32v5.58h-6.32zM438.86 488.02h6.32v5.58h-6.32zM445.92 488.02h6.32v5.58h-6.32zM452.99 488.02h6.32v5.58h-6.32zM460.05 488.02h6.32v5.58h-6.32zM474.18 488.02h6.32v5.58h-6.32zM502.44 488.02h6.32v5.58h-6.32zM728.52 488.02h6.32v5.58h-6.32zM735.59 488.02h6.32v5.58h-6.32zM135.06 494.36h6.32v5.58h-6.32zM163.32 494.36h6.32v5.58h-6.32zM177.45 494.36h6.32v5.58h-6.32zM191.58 494.36h6.32v5.58h-6.32zM233.97 494.36h6.32v5.58h-6.32zM262.23 494.36h6.32v5.58h-6.32zM339.95 494.36h6.32v5.58h-6.32zM368.21 494.36h6.32v5.58h-6.32zM375.27 494.36h6.32v5.58h-6.32zM403.53 494.36h6.32v5.58h-6.32zM424.73 494.36h6.32v5.58h-6.32zM438.86 494.36h6.32v5.58h-6.32zM523.63 494.36h6.32v5.58h-6.32zM530.7 494.36h6.32v5.58h-6.32zM650.81 494.36h6.32v5.58h-6.32zM672 494.36h6.32v5.58h-6.32zM714.39 494.36h6.32v5.58h-6.32zM728.52 494.36h6.32v5.58h-6.32zM735.59 494.36h6.32v5.58h-6.32zM99.73 500.69h6.32v5.58h-6.32zM135.06 500.69h6.32v5.58h-6.32zM191.58 500.69h6.32v5.58h-6.32zM198.64 500.69h6.32v5.58h-6.32zM241.03 500.69h6.32v5.58h-6.32zM255.16 500.69h6.32v5.58h-6.32zM290.49 500.69h6.32v5.58h-6.32zM297.56 500.69h6.32v5.58h-6.32zM318.75 500.69h6.32v5.58h-6.32zM332.88 500.69h6.32v5.58h-6.32zM347.01 500.69h6.32v5.58h-6.32zM375.27 500.69h6.32v5.58h-6.32zM438.86 500.69h6.32v5.58h-6.32zM474.18 500.69h6.32v5.58h-6.32zM495.38 500.69h6.32v5.58h-6.32zM530.7 500.69h6.32v5.58h-6.32zM566.02 500.69h6.32v5.58h-6.32zM573.09 500.69h6.32v5.58h-6.32zM580.15 500.69h6.32v5.58h-6.32zM700.26 500.69h6.32v5.58h-6.32zM728.52 500.69h6.32v5.58h-6.32zM92.67 507.01h6.32v5.58h-6.32zM233.97 507.01h6.32v5.58h-6.32zM255.16 507.01h6.32v5.58h-6.32zM269.3 507.01h6.32v5.58h-6.32zM297.56 507.01h6.32v5.58h-6.32zM304.62 507.01h6.32v5.58h-6.32zM354.08 507.01h6.32v5.58h-6.32zM375.27 507.01h6.32v5.58h-6.32zM445.92 507.01h6.32v5.58h-6.32zM467.12 507.01h6.32v5.58h-6.32zM488.31 507.01h6.32v5.58h-6.32zM495.38 507.01h6.32v5.58h-6.32zM530.7 507.01h6.32v5.58h-6.32zM544.83 507.01h6.32v5.58h-6.32zM558.96 507.01h6.32v5.58h-6.32zM566.02 507.01h6.32v5.58h-6.32zM587.22 507.01h6.32v5.58h-6.32zM742.65 507.01h6.32v5.58h-6.32zM92.67 513.35h6.32v5.58h-6.32zM191.58 513.35h6.32v5.58h-6.32zM205.71 513.35h6.32v5.58h-6.32zM297.56 513.35h6.32v5.58h-6.32zM311.69 513.35h6.32v5.58h-6.32zM318.75 513.35h6.32v5.58h-6.32zM332.88 513.35h6.32v5.58h-6.32zM361.14 513.35h6.32v5.58h-6.32zM410.6 513.35h6.32v5.58h-6.32zM431.79 513.35h6.32v5.58h-6.32zM445.92 513.35h6.32v5.58h-6.32zM481.25 513.35h6.32v5.58h-6.32zM495.38 513.35h6.32v5.58h-6.32zM530.7 513.35h6.32v5.58h-6.32zM544.83 513.35h6.32v5.58h-6.32zM558.96 513.35h6.32v5.58h-6.32zM629.61 513.35h6.32v5.58h-6.32zM643.74 513.35h6.32v5.58h-6.32zM71.47 519.67h6.32v5.58h-6.32zM78.54 519.67h6.32v5.58h-6.32zM170.38 519.67h6.32v5.58h-6.32zM177.45 519.67h6.32v5.58h-6.32zM191.58 519.67h6.32v5.58h-6.32zM205.71 519.67h6.32v5.58h-6.32zM241.03 519.67h6.32v5.58h-6.32zM332.88 519.67h6.32v5.58h-6.32zM368.21 519.67h6.32v5.58h-6.32zM375.27 519.67h6.32v5.58h-6.32zM396.47 519.67h6.32v5.58h-6.32zM410.6 519.67h6.32v5.58h-6.32zM417.66 519.67h6.32v5.58h-6.32zM438.86 519.67h6.32v5.58h-6.32zM452.99 519.67h6.32v5.58h-6.32zM474.18 519.67h6.32v5.58h-6.32zM495.38 519.67h6.32v5.58h-6.32zM509.5 519.67h6.32v5.58h-6.32zM516.57 519.67h6.32v5.58h-6.32zM71.47 526h6.32v5.58h-6.32zM170.38 526h6.32v5.58h-6.32zM184.51 526h6.32v5.58h-6.32zM205.71 526h6.32v5.58h-6.32zM212.78 526h6.32v5.58h-6.32zM255.16 526h6.32v5.58h-6.32zM276.36 526h6.32v5.58h-6.32zM290.49 526h6.32v5.58h-6.32zM297.56 526h6.32v5.58h-6.32zM318.75 526h6.32v5.58h-6.32zM325.81 526h6.32v5.58h-6.32zM332.88 526h6.32v5.58h-6.32zM389.4 526h6.32v5.58h-6.32zM410.6 526h6.32v5.58h-6.32zM417.66 526h6.32v5.58h-6.32zM424.73 526h6.32v5.58h-6.32zM431.79 526h6.32v5.58h-6.32zM445.92 526h6.32v5.58h-6.32zM452.99 526h6.32v5.58h-6.32zM509.5 526h6.32v5.58h-6.32zM551.89 526h6.32v5.58h-6.32zM615.48 526h6.32v5.58h-6.32zM643.74 526h6.32v5.58h-6.32zM128 532.34h6.32v5.58h-6.32zM142.12 532.34h6.32v5.58h-6.32zM212.78 532.34h6.32v5.58h-6.32zM297.56 532.34h6.32v5.58h-6.32zM311.69 532.34h6.32v5.58h-6.32zM325.81 532.34h6.32v5.58h-6.32zM368.21 532.34h6.32v5.58h-6.32zM424.73 532.34h6.32v5.58h-6.32zM481.25 532.34h6.32v5.58h-6.32zM488.31 532.34h6.32v5.58h-6.32zM502.44 532.34h6.32v5.58h-6.32zM558.96 532.34h6.32v5.58h-6.32zM587.22 532.34h6.32v5.58h-6.32zM615.48 532.34h6.32v5.58h-6.32zM636.68 532.34h6.32v5.58h-6.32zM643.74 532.34h6.32v5.58h-6.32zM664.94 532.34h6.32v5.58h-6.32zM714.39 532.34h6.32v5.58h-6.32zM735.59 532.34h6.32v5.58h-6.32zM128 538.66h6.32v5.58h-6.32zM198.64 538.66h6.32v5.58h-6.32zM226.91 538.66h6.32v5.58h-6.32zM248.1 538.66h6.32v5.58h-6.32zM276.36 538.66h6.32v5.58h-6.32zM290.49 538.66h6.32v5.58h-6.32zM311.69 538.66h6.32v5.58h-6.32zM318.75 538.66h6.32v5.58h-6.32zM325.81 538.66h6.32v5.58h-6.32zM382.34 538.66h6.32v5.58h-6.32zM445.92 538.66h6.32v5.58h-6.32zM452.99 538.66h6.32v5.58h-6.32zM460.05 538.66h6.32v5.58h-6.32zM474.18 538.66h6.32v5.58h-6.32zM481.25 538.66h6.32v5.58h-6.32zM502.44 538.66h6.32v5.58h-6.32zM544.83 538.66h6.32v5.58h-6.32zM551.89 538.66h6.32v5.58h-6.32zM558.96 538.66h6.32v5.58h-6.32zM573.09 538.66h6.32v5.58h-6.32zM601.35 538.66h6.32v5.58h-6.32zM636.68 538.66h6.32v5.58h-6.32zM664.94 538.66h6.32v5.58h-6.32zM679.07 538.66h6.32v5.58h-6.32zM742.65 538.66h6.32v5.58h-6.32zM85.6 545h6.32v5.58h-6.32zM135.06 545h6.32v5.58h-6.32zM170.38 545h6.32v5.58h-6.32zM198.64 545h6.32v5.58h-6.32zM219.84 545h6.32v5.58h-6.32zM269.3 545h6.32v5.58h-6.32zM290.49 545h6.32v5.58h-6.32zM304.62 545h6.32v5.58h-6.32zM332.88 545h6.32v5.58h-6.32zM347.01 545h6.32v5.58h-6.32zM410.6 545h6.32v5.58h-6.32zM431.79 545h6.32v5.58h-6.32zM452.99 545h6.32v5.58h-6.32zM467.12 545h6.32v5.58h-6.32zM481.25 545h6.32v5.58h-6.32zM488.31 545h6.32v5.58h-6.32zM495.38 545h6.32v5.58h-6.32zM502.44 545h6.32v5.58h-6.32zM509.5 545h6.32v5.58h-6.32zM523.63 545h6.32v5.58h-6.32zM551.89 545h6.32v5.58h-6.32zM643.74 545h6.32v5.58h-6.32zM156.25 551.33h6.32v5.58h-6.32zM177.45 551.33h6.32v5.58h-6.32zM184.51 551.33h6.32v5.58h-6.32zM248.1 551.33h6.32v5.58h-6.32zM283.43 551.33h6.32v5.58h-6.32zM297.56 551.33h6.32v5.58h-6.32zM304.62 551.33h6.32v5.58h-6.32zM354.08 551.33h6.32v5.58h-6.32zM361.14 551.33h6.32v5.58h-6.32zM403.53 551.33h6.32v5.58h-6.32zM417.66 551.33h6.32v5.58h-6.32zM445.92 551.33h6.32v5.58h-6.32zM551.89 551.33h6.32v5.58h-6.32zM580.15 551.33h6.32v5.58h-6.32zM587.22 551.33h6.32v5.58h-6.32zM594.29 551.33h6.32v5.58h-6.32zM601.35 551.33h6.32v5.58h-6.32zM608.42 551.33h6.32v5.58h-6.32zM615.48 551.33h6.32v5.58h-6.32zM622.55 551.33h6.32v5.58h-6.32zM643.74 551.33h6.32v5.58h-6.32zM106.8 557.65h6.32v5.58h-6.32zM135.06 557.65h6.32v5.58h-6.32zM142.12 557.65h6.32v5.58h-6.32zM290.49 557.65h6.32v5.58h-6.32zM311.69 557.65h6.32v5.58h-6.32zM375.27 557.65h6.32v5.58h-6.32zM396.47 557.65h6.32v5.58h-6.32zM460.05 557.65h6.32v5.58h-6.32zM474.18 557.65h6.32v5.58h-6.32zM495.38 557.65h6.32v5.58h-6.32zM523.63 557.65h6.32v5.58h-6.32zM537.76 557.65h6.32v5.58h-6.32zM544.83 557.65h6.32v5.58h-6.32zM580.15 557.65h6.32v5.58h-6.32zM643.74 557.65h6.32v5.58h-6.32zM672 557.65h6.32v5.58h-6.32zM693.2 557.65h6.32v5.58h-6.32zM721.46 557.65h6.32v5.58h-6.32zM742.65 557.65h6.32v5.58h-6.32zM99.73 563.99h6.32v5.58h-6.32zM128 563.99h6.32v5.58h-6.32zM177.45 563.99h6.32v5.58h-6.32zM269.3 563.99h6.32v5.58h-6.32zM297.56 563.99h6.32v5.58h-6.32zM318.75 563.99h6.32v5.58h-6.32zM332.88 563.99h6.32v5.58h-6.32zM375.27 563.99h6.32v5.58h-6.32zM403.53 563.99h6.32v5.58h-6.32zM410.6 563.99h6.32v5.58h-6.32zM424.73 563.99h6.32v5.58h-6.32zM445.92 563.99h6.32v5.58h-6.32zM467.12 563.99h6.32v5.58h-6.32zM474.18 563.99h6.32v5.58h-6.32zM488.31 563.99h6.32v5.58h-6.32zM495.38 563.99h6.32v5.58h-6.32zM502.44 563.99h6.32v5.58h-6.32zM509.5 563.99h6.32v5.58h-6.32zM523.63 563.99h6.32v5.58h-6.32zM544.83 563.99h6.32v5.58h-6.32zM551.89 563.99h6.32v5.58h-6.32zM558.96 563.99h6.32v5.58h-6.32zM580.15 563.99h6.32v5.58h-6.32zM594.29 563.99h6.32v5.58h-6.32zM601.35 563.99h6.32v5.58h-6.32zM608.42 563.99h6.32v5.58h-6.32zM622.55 563.99h6.32v5.58h-6.32zM636.68 563.99h6.32v5.58h-6.32zM71.47 570.32h6.32v5.58h-6.32zM113.86 570.32h6.32v5.58h-6.32zM142.12 570.32h6.32v5.58h-6.32zM255.16 570.32h6.32v5.58h-6.32zM262.23 570.32h6.32v5.58h-6.32zM269.3 570.32h6.32v5.58h-6.32zM290.49 570.32h6.32v5.58h-6.32zM297.56 570.32h6.32v5.58h-6.32zM304.62 570.32h6.32v5.58h-6.32zM311.69 570.32h6.32v5.58h-6.32zM361.14 570.32h6.32v5.58h-6.32zM368.21 570.32h6.32v5.58h-6.32zM467.12 570.32h6.32v5.58h-6.32zM488.31 570.32h6.32v5.58h-6.32zM537.76 570.32h6.32v5.58h-6.32zM594.29 570.32h6.32v5.58h-6.32zM636.68 570.32h6.32v5.58h-6.32zM657.87 570.32h6.32v5.58h-6.32zM728.52 570.32h6.32v5.58h-6.32zM742.65 570.32h6.32v5.58h-6.32zM71.47 576.64h6.32v5.58h-6.32zM78.54 576.64h6.32v5.58h-6.32zM135.06 576.64h6.32v5.58h-6.32zM191.58 576.64h6.32v5.58h-6.32zM198.64 576.64h6.32v5.58h-6.32zM241.03 576.64h6.32v5.58h-6.32zM297.56 576.64h6.32v5.58h-6.32zM339.95 576.64h6.32v5.58h-6.32zM354.08 576.64h6.32v5.58h-6.32zM368.21 576.64h6.32v5.58h-6.32zM403.53 576.64h6.32v5.58h-6.32zM410.6 576.64h6.32v5.58h-6.32zM417.66 576.64h6.32v5.58h-6.32zM445.92 576.64h6.32v5.58h-6.32zM452.99 576.64h6.32v5.58h-6.32zM460.05 576.64h6.32v5.58h-6.32zM474.18 576.64h6.32v5.58h-6.32zM495.38 576.64h6.32v5.58h-6.32zM502.44 576.64h6.32v5.58h-6.32zM509.5 576.64h6.32v5.58h-6.32zM537.76 576.64h6.32v5.58h-6.32zM551.89 576.64h6.32v5.58h-6.32zM558.96 576.64h6.32v5.58h-6.32zM573.09 576.64h6.32v5.58h-6.32zM679.07 576.64h6.32v5.58h-6.32zM735.59 576.64h6.32v5.58h-6.32zM120.93 582.98h6.32v5.58h-6.32zM184.51 582.98h6.32v5.58h-6.32zM205.71 582.98h6.32v5.58h-6.32zM219.84 582.98h6.32v5.58h-6.32zM255.16 582.98h6.32v5.58h-6.32zM269.3 582.98h6.32v5.58h-6.32zM276.36 582.98h6.32v5.58h-6.32zM311.69 582.98h6.32v5.58h-6.32zM361.14 582.98h6.32v5.58h-6.32zM368.21 582.98h6.32v5.58h-6.32zM403.53 582.98h6.32v5.58h-6.32zM410.6 582.98h6.32v5.58h-6.32zM452.99 582.98h6.32v5.58h-6.32zM460.05 582.98h6.32v5.58h-6.32zM474.18 582.98h6.32v5.58h-6.32zM481.25 582.98h6.32v5.58h-6.32zM495.38 582.98h6.32v5.58h-6.32zM509.5 582.98h6.32v5.58h-6.32zM516.57 582.98h6.32v5.58h-6.32zM537.76 582.98h6.32v5.58h-6.32zM544.83 582.98h6.32v5.58h-6.32zM558.96 582.98h6.32v5.58h-6.32zM573.09 582.98h6.32v5.58h-6.32zM587.22 582.98h6.32v5.58h-6.32zM707.33 582.98h6.32v5.58h-6.32zM721.46 582.98h6.32v5.58h-6.32zM248.1 589.31h6.32v5.58h-6.32zM255.16 589.31h6.32v5.58h-6.32zM269.3 589.31h6.32v5.58h-6.32zM354.08 589.31h6.32v5.58h-6.32zM382.34 589.31h6.32v5.58h-6.32zM389.4 589.31h6.32v5.58h-6.32zM410.6 589.31h6.32v5.58h-6.32zM431.79 589.31h6.32v5.58h-6.32zM445.92 589.31h6.32v5.58h-6.32zM474.18 589.31h6.32v5.58h-6.32zM530.7 589.31h6.32v5.58h-6.32zM537.76 589.31h6.32v5.58h-6.32zM551.89 589.31h6.32v5.58h-6.32zM566.02 589.31h6.32v5.58h-6.32zM594.29 589.31h6.32v5.58h-6.32zM615.48 589.31h6.32v5.58h-6.32zM657.87 589.31h6.32v5.58h-6.32zM664.94 589.31h6.32v5.58h-6.32zM672 589.31h6.32v5.58h-6.32zM686.13 589.31h6.32v5.58h-6.32zM219.84 595.63h6.32v5.58h-6.32zM226.91 595.63h6.32v5.58h-6.32zM248.1 595.63h6.32v5.58h-6.32zM262.23 595.63h6.32v5.58h-6.32zM318.75 595.63h6.32v5.58h-6.32zM354.08 595.63h6.32v5.58h-6.32zM410.6 595.63h6.32v5.58h-6.32zM417.66 595.63h6.32v5.58h-6.32zM445.92 595.63h6.32v5.58h-6.32zM452.99 595.63h6.32v5.58h-6.32zM474.18 595.63h6.32v5.58h-6.32zM530.7 595.63h6.32v5.58h-6.32zM537.76 595.63h6.32v5.58h-6.32zM551.89 595.63h6.32v5.58h-6.32zM558.96 595.63h6.32v5.58h-6.32zM573.09 595.63h6.32v5.58h-6.32zM594.29 595.63h6.32v5.58h-6.32zM608.42 595.63h6.32v5.58h-6.32zM664.94 595.63h6.32v5.58h-6.32zM686.13 595.63h6.32v5.58h-6.32zM693.2 595.63h6.32v5.58h-6.32zM728.52 595.63h6.32v5.58h-6.32zM99.73 601.97h6.32v5.58h-6.32zM135.06 601.97h6.32v5.58h-6.32zM226.91 601.97h6.32v5.58h-6.32zM283.43 601.97h6.32v5.58h-6.32zM325.81 601.97h6.32v5.58h-6.32zM332.88 601.97h6.32v5.58h-6.32zM339.95 601.97h6.32v5.58h-6.32zM396.47 601.97h6.32v5.58h-6.32zM417.66 601.97h6.32v5.58h-6.32zM424.73 601.97h6.32v5.58h-6.32zM438.86 601.97h6.32v5.58h-6.32zM460.05 601.97h6.32v5.58h-6.32zM474.18 601.97h6.32v5.58h-6.32zM488.31 601.97h6.32v5.58h-6.32zM523.63 601.97h6.32v5.58h-6.32zM530.7 601.97h6.32v5.58h-6.32zM566.02 601.97h6.32v5.58h-6.32zM594.29 601.97h6.32v5.58h-6.32zM622.55 601.97h6.32v5.58h-6.32zM650.81 601.97h6.32v5.58h-6.32zM686.13 601.97h6.32v5.58h-6.32zM728.52 601.97h6.32v5.58h-6.32zM735.59 601.97h6.32v5.58h-6.32zM71.47 608.3h6.32v5.58h-6.32zM106.8 608.3h6.32v5.58h-6.32zM205.71 608.3h6.32v5.58h-6.32zM219.84 608.3h6.32v5.58h-6.32zM226.91 608.3h6.32v5.58h-6.32zM248.1 608.3h6.32v5.58h-6.32zM262.23 608.3h6.32v5.58h-6.32zM290.49 608.3h6.32v5.58h-6.32zM304.62 608.3h6.32v5.58h-6.32zM332.88 608.3h6.32v5.58h-6.32zM347.01 608.3h6.32v5.58h-6.32zM354.08 608.3h6.32v5.58h-6.32zM389.4 608.3h6.32v5.58h-6.32zM445.92 608.3h6.32v5.58h-6.32zM460.05 608.3h6.32v5.58h-6.32zM474.18 608.3h6.32v5.58h-6.32zM488.31 608.3h6.32v5.58h-6.32zM495.38 608.3h6.32v5.58h-6.32zM523.63 608.3h6.32v5.58h-6.32zM544.83 608.3h6.32v5.58h-6.32zM558.96 608.3h6.32v5.58h-6.32zM566.02 608.3h6.32v5.58h-6.32zM587.22 608.3h6.32v5.58h-6.32zM594.29 608.3h6.32v5.58h-6.32zM601.35 608.3h6.32v5.58h-6.32zM615.48 608.3h6.32v5.58h-6.32zM622.55 608.3h6.32v5.58h-6.32zM643.74 608.3h6.32v5.58h-6.32zM707.33 608.3h6.32v5.58h-6.32zM735.59 608.3h6.32v5.58h-6.32zM106.8 614.62h6.32v5.58h-6.32zM120.93 614.62h6.32v5.58h-6.32zM135.06 614.62h6.32v5.58h-6.32zM198.64 614.62h6.32v5.58h-6.32zM219.84 614.62h6.32v5.58h-6.32zM233.97 614.62h6.32v5.58h-6.32zM255.16 614.62h6.32v5.58h-6.32zM354.08 614.62h6.32v5.58h-6.32zM417.66 614.62h6.32v5.58h-6.32zM424.73 614.62h6.32v5.58h-6.32zM460.05 614.62h6.32v5.58h-6.32zM467.12 614.62h6.32v5.58h-6.32zM481.25 614.62h6.32v5.58h-6.32zM495.38 614.62h6.32v5.58h-6.32zM509.5 614.62h6.32v5.58h-6.32zM516.57 614.62h6.32v5.58h-6.32zM523.63 614.62h6.32v5.58h-6.32zM530.7 614.62h6.32v5.58h-6.32zM537.76 614.62h6.32v5.58h-6.32zM544.83 614.62h6.32v5.58h-6.32zM594.29 614.62h6.32v5.58h-6.32zM601.35 614.62h6.32v5.58h-6.32zM643.74 614.62h6.32v5.58h-6.32zM78.54 620.96h6.32v5.58h-6.32zM198.64 620.96h6.32v5.58h-6.32zM226.91 620.96h6.32v5.58h-6.32zM283.43 620.96h6.32v5.58h-6.32zM452.99 620.96h6.32v5.58h-6.32zM460.05 620.96h6.32v5.58h-6.32zM481.25 620.96h6.32v5.58h-6.32zM502.44 620.96h6.32v5.58h-6.32zM523.63 620.96h6.32v5.58h-6.32zM558.96 620.96h6.32v5.58h-6.32zM622.55 620.96h6.32v5.58h-6.32zM643.74 620.96h6.32v5.58h-6.32zM672 620.96h6.32v5.58h-6.32zM707.33 620.96h6.32v5.58h-6.32zM721.46 620.96h6.32v5.58h-6.32zM735.59 620.96h6.32v5.58h-6.32zM170.38 627.28h6.32v5.58h-6.32zM198.64 627.28h6.32v5.58h-6.32zM233.97 627.28h6.32v5.58h-6.32zM297.56 627.28h6.32v5.58h-6.32zM347.01 627.28h6.32v5.58h-6.32zM389.4 627.28h6.32v5.58h-6.32zM431.79 627.28h6.32v5.58h-6.32zM445.92 627.28h6.32v5.58h-6.32zM452.99 627.28h6.32v5.58h-6.32zM474.18 627.28h6.32v5.58h-6.32zM495.38 627.28h6.32v5.58h-6.32zM502.44 627.28h6.32v5.58h-6.32zM530.7 627.28h6.32v5.58h-6.32zM551.89 627.28h6.32v5.58h-6.32zM566.02 627.28h6.32v5.58h-6.32zM587.22 627.28h6.32v5.58h-6.32zM622.55 627.28h6.32v5.58h-6.32zM636.68 627.28h6.32v5.58h-6.32zM686.13 627.28h6.32v5.58h-6.32zM700.26 627.28h6.32v5.58h-6.32zM714.39 627.28h6.32v5.58h-6.32z" fill="#060606"/>
<path d="M347.01 456.38h6.32v5.58h-6.32zM354.08 456.38h6.32v5.58h-6.32zM389.4 456.38h6.32v5.58h-6.32zM403.53 456.38h6.32v5.58h-6.32zM417.66 456.38h6.32v5.58h-6.32zM516.57 456.38h6.32v5.58h-6.32zM700.26 456.38h6.32v5.58h-6.32zM707.33 456.38h6.32v5.58h-6.32zM714.39 456.38h6.32v5.58h-6.32zM721.46 456.38h6.32v5.58h-6.32zM742.65 456.38h6.32v5.58h-6.32zM78.54 462.7h6.32v5.58h-6.32zM226.91 462.7h6.32v5.58h-6.32zM339.95 462.7h6.32v5.58h-6.32zM347.01 462.7h6.32v5.58h-6.32zM354.08 462.7h6.32v5.58h-6.32zM368.21 462.7h6.32v5.58h-6.32zM375.27 462.7h6.32v5.58h-6.32zM431.79 462.7h6.32v5.58h-6.32zM516.57 462.7h6.32v5.58h-6.32zM551.89 462.7h6.32v5.58h-6.32zM558.96 462.7h6.32v5.58h-6.32zM587.22 462.7h6.32v5.58h-6.32zM608.42 462.7h6.32v5.58h-6.32zM622.55 462.7h6.32v5.58h-6.32zM629.61 462.7h6.32v5.58h-6.32zM636.68 462.7h6.32v5.58h-6.32zM643.74 462.7h6.32v5.58h-6.32zM657.87 462.7h6.32v5.58h-6.32zM686.13 462.7h6.32v5.58h-6.32zM693.2 462.7h6.32v5.58h-6.32zM700.26 462.7h6.32v5.58h-6.32zM707.33 462.7h6.32v5.58h-6.32zM721.46 462.7h6.32v5.58h-6.32zM113.86 469.04h6.32v5.58h-6.32zM177.45 469.04h6.32v5.58h-6.32zM205.71 469.04h6.32v5.58h-6.32zM325.81 469.04h6.32v5.58h-6.32zM339.95 469.04h6.32v5.58h-6.32zM438.86 469.04h6.32v5.58h-6.32zM460.05 469.04h6.32v5.58h-6.32zM481.25 469.04h6.32v5.58h-6.32zM488.31 469.04h6.32v5.58h-6.32zM502.44 469.04h6.32v5.58h-6.32zM537.76 469.04h6.32v5.58h-6.32zM566.02 469.04h6.32v5.58h-6.32zM643.74 469.04h6.32v5.58h-6.32zM707.33 469.04h6.32v5.58h-6.32zM721.46 469.04h6.32v5.58h-6.32zM184.51 475.37h6.32v5.58h-6.32zM248.1 475.37h6.32v5.58h-6.32zM276.36 475.37h6.32v5.58h-6.32zM297.56 475.37h6.32v5.58h-6.32zM332.88 475.37h6.32v5.58h-6.32zM368.21 475.37h6.32v5.58h-6.32zM375.27 475.37h6.32v5.58h-6.32zM396.47 475.37h6.32v5.58h-6.32zM403.53 475.37h6.32v5.58h-6.32zM410.6 475.37h6.32v5.58h-6.32zM431.79 475.37h6.32v5.58h-6.32zM474.18 475.37h6.32v5.58h-6.32zM495.38 475.37h6.32v5.58h-6.32zM502.44 475.37h6.32v5.58h-6.32zM523.63 475.37h6.32v5.58h-6.32zM537.76 475.37h6.32v5.58h-6.32zM566.02 475.37h6.32v5.58h-6.32zM601.35 475.37h6.32v5.58h-6.32zM629.61 475.37h6.32v5.58h-6.32zM679.07 475.37h6.32v5.58h-6.32zM700.26 475.37h6.32v5.58h-6.32zM714.39 475.37h6.32v5.58h-6.32zM226.91 481.69h6.32v5.58h-6.32zM241.03 481.69h6.32v5.58h-6.32zM269.3 481.69h6.32v5.58h-6.32zM304.62 481.69h6.32v5.58h-6.32zM396.47 481.69h6.32v5.58h-6.32zM474.18 481.69h6.32v5.58h-6.32zM516.57 481.69h6.32v5.58h-6.32zM530.7 481.69h6.32v5.58h-6.32zM537.76 481.69h6.32v5.58h-6.32zM615.48 481.69h6.32v5.58h-6.32zM622.55 481.69h6.32v5.58h-6.32zM707.33 481.69h6.32v5.58h-6.32zM714.39 481.69h6.32v5.58h-6.32zM721.46 481.69h6.32v5.58h-6.32zM71.47 488.02h6.32v5.58h-6.32zM177.45 488.02h6.32v5.58h-6.32zM184.51 488.02h6.32v5.58h-6.32zM219.84 488.02h6.32v5.58h-6.32zM226.91 488.02h6.32v5.58h-6.32zM290.49 488.02h6.32v5.58h-6.32zM424.73 488.02h6.32v5.58h-6.32zM495.38 488.02h6.32v5.58h-6.32zM516.57 488.02h6.32v5.58h-6.32zM530.7 488.02h6.32v5.58h-6.32zM537.76 488.02h6.32v5.58h-6.32zM544.83 488.02h6.32v5.58h-6.32zM643.74 488.02h6.32v5.58h-6.32zM721.46 488.02h6.32v5.58h-6.32zM742.65 488.02h6.32v5.58h-6.32zM248.1 494.36h6.32v5.58h-6.32zM304.62 494.36h6.32v5.58h-6.32zM332.88 494.36h6.32v5.58h-6.32zM445.92 494.36h6.32v5.58h-6.32zM474.18 494.36h6.32v5.58h-6.32zM495.38 494.36h6.32v5.58h-6.32zM502.44 494.36h6.32v5.58h-6.32zM509.5 494.36h6.32v5.58h-6.32zM537.76 494.36h6.32v5.58h-6.32zM615.48 494.36h6.32v5.58h-6.32zM629.61 494.36h6.32v5.58h-6.32zM636.68 494.36h6.32v5.58h-6.32zM643.74 494.36h6.32v5.58h-6.32zM664.94 494.36h6.32v5.58h-6.32zM700.26 494.36h6.32v5.58h-6.32zM721.46 494.36h6.32v5.58h-6.32zM742.65 494.36h6.32v5.58h-6.32zM184.51 500.69h6.32v5.58h-6.32zM304.62 500.69h6.32v5.58h-6.32zM361.14 500.69h6.32v5.58h-6.32zM389.4 500.69h6.32v5.58h-6.32zM396.47 500.69h6.32v5.58h-6.32zM431.79 500.69h6.32v5.58h-6.32zM445.92 500.69h6.32v5.58h-6.32zM460.05 500.69h6.32v5.58h-6.32zM488.31 500.69h6.32v5.58h-6.32zM544.83 500.69h6.32v5.58h-6.32zM551.89 500.69h6.32v5.58h-6.32zM601.35 500.69h6.32v5.58h-6.32zM664.94 500.69h6.32v5.58h-6.32zM672 500.69h6.32v5.58h-6.32zM686.13 500.69h6.32v5.58h-6.32zM707.33 500.69h6.32v5.58h-6.32zM714.39 500.69h6.32v5.58h-6.32zM721.46 500.69h6.32v5.58h-6.32zM735.59 500.69h6.32v5.58h-6.32zM71.47 507.01h6.32v5.58h-6.32zM184.51 507.01h6.32v5.58h-6.32zM198.64 507.01h6.32v5.58h-6.32zM219.84 507.01h6.32v5.58h-6.32zM403.53 507.01h6.32v5.58h-6.32zM410.6 507.01h6.32v5.58h-6.32zM502.44 507.01h6.32v5.58h-6.32zM509.5 507.01h6.32v5.58h-6.32zM523.63 507.01h6.32v5.58h-6.32zM573.09 507.01h6.32v5.58h-6.32zM594.29 507.01h6.32v5.58h-6.32zM601.35 507.01h6.32v5.58h-6.32zM608.42 507.01h6.32v5.58h-6.32zM615.48 507.01h6.32v5.58h-6.32zM629.61 507.01h6.32v5.58h-6.32zM657.87 507.01h6.32v5.58h-6.32zM721.46 507.01h6.32v5.58h-6.32zM177.45 513.35h6.32v5.58h-6.32zM219.84 513.35h6.32v5.58h-6.32zM248.1 513.35h6.32v5.58h-6.32zM375.27 513.35h6.32v5.58h-6.32zM438.86 513.35h6.32v5.58h-6.32zM551.89 513.35h6.32v5.58h-6.32zM686.13 513.35h6.32v5.58h-6.32zM184.51 519.67h6.32v5.58h-6.32zM219.84 519.67h6.32v5.58h-6.32zM248.1 519.67h6.32v5.58h-6.32zM269.3 519.67h6.32v5.58h-6.32zM304.62 519.67h6.32v5.58h-6.32zM424.73 519.67h6.32v5.58h-6.32zM431.79 519.67h6.32v5.58h-6.32zM445.92 519.67h6.32v5.58h-6.32zM460.05 519.67h6.32v5.58h-6.32zM481.25 519.67h6.32v5.58h-6.32zM488.31 519.67h6.32v5.58h-6.32zM502.44 519.67h6.32v5.58h-6.32zM551.89 519.67h6.32v5.58h-6.32zM566.02 519.67h6.32v5.58h-6.32zM622.55 519.67h6.32v5.58h-6.32zM664.94 519.67h6.32v5.58h-6.32zM721.46 519.67h6.32v5.58h-6.32zM78.54 526h6.32v5.58h-6.32zM177.45 526h6.32v5.58h-6.32zM198.64 526h6.32v5.58h-6.32zM219.84 526h6.32v5.58h-6.32zM248.1 526h6.32v5.58h-6.32zM262.23 526h6.32v5.58h-6.32zM396.47 526h6.32v5.58h-6.32zM438.86 526h6.32v5.58h-6.32zM502.44 526h6.32v5.58h-6.32zM516.57 526h6.32v5.58h-6.32zM523.63 526h6.32v5.58h-6.32zM544.83 526h6.32v5.58h-6.32zM558.96 526h6.32v5.58h-6.32zM594.29 526h6.32v5.58h-6.32zM608.42 526h6.32v5.58h-6.32zM629.61 526h6.32v5.58h-6.32zM650.81 526h6.32v5.58h-6.32zM657.87 526h6.32v5.58h-6.32zM672 526h6.32v5.58h-6.32zM721.46 526h6.32v5.58h-6.32zM92.67 532.34h6.32v5.58h-6.32zM99.73 532.34h6.32v5.58h-6.32zM241.03 532.34h6.32v5.58h-6.32zM248.1 532.34h6.32v5.58h-6.32zM283.43 532.34h6.32v5.58h-6.32zM290.49 532.34h6.32v5.58h-6.32zM318.75 532.34h6.32v5.58h-6.32zM417.66 532.34h6.32v5.58h-6.32zM431.79 532.34h6.32v5.58h-6.32zM452.99 532.34h6.32v5.58h-6.32zM509.5 532.34h6.32v5.58h-6.32zM516.57 532.34h6.32v5.58h-6.32zM544.83 532.34h6.32v5.58h-6.32zM573.09 532.34h6.32v5.58h-6.32zM580.15 532.34h6.32v5.58h-6.32zM594.29 532.34h6.32v5.58h-6.32zM601.35 532.34h6.32v5.58h-6.32zM608.42 532.34h6.32v5.58h-6.32zM622.55 532.34h6.32v5.58h-6.32zM679.07 532.34h6.32v5.58h-6.32zM686.13 532.34h6.32v5.58h-6.32zM693.2 532.34h6.32v5.58h-6.32zM700.26 532.34h6.32v5.58h-6.32zM707.33 532.34h6.32v5.58h-6.32zM78.54 538.66h6.32v5.58h-6.32zM92.67 538.66h6.32v5.58h-6.32zM113.86 538.66h6.32v5.58h-6.32zM177.45 538.66h6.32v5.58h-6.32zM283.43 538.66h6.32v5.58h-6.32zM339.95 538.66h6.32v5.58h-6.32zM389.4 538.66h6.32v5.58h-6.32zM410.6 538.66h6.32v5.58h-6.32zM424.73 538.66h6.32v5.58h-6.32zM431.79 538.66h6.32v5.58h-6.32zM438.86 538.66h6.32v5.58h-6.32zM509.5 538.66h6.32v5.58h-6.32zM516.57 538.66h6.32v5.58h-6.32zM523.63 538.66h6.32v5.58h-6.32zM580.15 538.66h6.32v5.58h-6.32zM608.42 538.66h6.32v5.58h-6.32zM622.55 538.66h6.32v5.58h-6.32zM643.74 538.66h6.32v5.58h-6.32zM650.81 538.66h6.32v5.58h-6.32zM693.2 538.66h6.32v5.58h-6.32zM700.26 538.66h6.32v5.58h-6.32zM707.33 538.66h6.32v5.58h-6.32zM714.39 538.66h6.32v5.58h-6.32zM721.46 538.66h6.32v5.58h-6.32zM78.54 545h6.32v5.58h-6.32zM205.71 545h6.32v5.58h-6.32zM318.75 545h6.32v5.58h-6.32zM396.47 545h6.32v5.58h-6.32zM403.53 545h6.32v5.58h-6.32zM474.18 545h6.32v5.58h-6.32zM516.57 545h6.32v5.58h-6.32zM566.02 545h6.32v5.58h-6.32zM573.09 545h6.32v5.58h-6.32zM587.22 545h6.32v5.58h-6.32zM608.42 545h6.32v5.58h-6.32zM615.48 545h6.32v5.58h-6.32zM622.55 545h6.32v5.58h-6.32zM629.61 545h6.32v5.58h-6.32zM650.81 545h6.32v5.58h-6.32zM664.94 545h6.32v5.58h-6.32zM672 545h6.32v5.58h-6.32zM686.13 545h6.32v5.58h-6.32zM693.2 545h6.32v5.58h-6.32zM700.26 545h6.32v5.58h-6.32zM707.33 545h6.32v5.58h-6.32zM714.39 545h6.32v5.58h-6.32zM721.46 545h6.32v5.58h-6.32zM106.8 551.33h6.32v5.58h-6.32zM149.19 551.33h6.32v5.58h-6.32zM262.23 551.33h6.32v5.58h-6.32zM269.3 551.33h6.32v5.58h-6.32zM424.73 551.33h6.32v5.58h-6.32zM474.18 551.33h6.32v5.58h-6.32zM537.76 551.33h6.32v5.58h-6.32zM544.83 551.33h6.32v5.58h-6.32zM558.96 551.33h6.32v5.58h-6.32zM566.02 551.33h6.32v5.58h-6.32zM573.09 551.33h6.32v5.58h-6.32zM657.87 551.33h6.32v5.58h-6.32zM664.94 551.33h6.32v5.58h-6.32zM679.07 551.33h6.32v5.58h-6.32zM700.26 551.33h6.32v5.58h-6.32zM721.46 551.33h6.32v5.58h-6.32zM71.47 557.65h6.32v5.58h-6.32zM113.86 557.65h6.32v5.58h-6.32zM149.19 557.65h6.32v5.58h-6.32zM177.45 557.65h6.32v5.58h-6.32zM184.51 557.65h6.32v5.58h-6.32zM403.53 557.65h6.32v5.58h-6.32zM417.66 557.65h6.32v5.58h-6.32zM445.92 557.65h6.32v5.58h-6.32zM481.25 557.65h6.32v5.58h-6.32zM488.31 557.65h6.32v5.58h-6.32zM502.44 557.65h6.32v5.58h-6.32zM516.57 557.65h6.32v5.58h-6.32zM566.02 557.65h6.32v5.58h-6.32zM573.09 557.65h6.32v5.58h-6.32zM622.55 557.65h6.32v5.58h-6.32zM657.87 557.65h6.32v5.58h-6.32zM664.94 557.65h6.32v5.58h-6.32zM686.13 557.65h6.32v5.58h-6.32zM707.33 557.65h6.32v5.58h-6.32zM219.84 563.99h6.32v5.58h-6.32zM226.91 563.99h6.32v5.58h-6.32zM255.16 563.99h6.32v5.58h-6.32zM262.23 563.99h6.32v5.58h-6.32zM304.62 563.99h6.32v5.58h-6.32zM361.14 563.99h6.32v5.58h-6.32zM460.05 563.99h6.32v5.58h-6.32zM481.25 563.99h6.32v5.58h-6.32zM516.57 563.99h6.32v5.58h-6.32zM530.7 563.99h6.32v5.58h-6.32zM537.76 563.99h6.32v5.58h-6.32zM566.02 563.99h6.32v5.58h-6.32zM573.09 563.99h6.32v5.58h-6.32zM587.22 563.99h6.32v5.58h-6.32zM615.48 563.99h6.32v5.58h-6.32zM664.94 563.99h6.32v5.58h-6.32zM686.13 563.99h6.32v5.58h-6.32zM693.2 563.99h6.32v5.58h-6.32zM700.26 563.99h6.32v5.58h-6.32zM707.33 563.99h6.32v5.58h-6.32zM714.39 563.99h6.32v5.58h-6.32zM721.46 563.99h6.32v5.58h-6.32zM219.84 570.32h6.32v5.58h-6.32zM325.81 570.32h6.32v5.58h-6.32zM339.95 570.32h6.32v5.58h-6.32zM417.66 570.32h6.32v5.58h-6.32zM452.99 570.32h6.32v5.58h-6.32zM516.57 570.32h6.32v5.58h-6.32zM523.63 570.32h6.32v5.58h-6.32zM530.7 570.32h6.32v5.58h-6.32zM544.83 570.32h6.32v5.58h-6.32zM558.96 570.32h6.32v5.58h-6.32zM566.02 570.32h6.32v5.58h-6.32zM573.09 570.32h6.32v5.58h-6.32zM615.48 570.32h6.32v5.58h-6.32zM650.81 570.32h6.32v5.58h-6.32zM664.94 570.32h6.32v5.58h-6.32zM672 570.32h6.32v5.58h-6.32zM700.26 570.32h6.32v5.58h-6.32zM707.33 570.32h6.32v5.58h-6.32zM735.59 570.32h6.32v5.58h-6.32zM120.93 576.64h6.32v5.58h-6.32zM170.38 576.64h6.32v5.58h-6.32zM219.84 576.64h6.32v5.58h-6.32zM262.23 576.64h6.32v5.58h-6.32zM269.3 576.64h6.32v5.58h-6.32zM276.36 576.64h6.32v5.58h-6.32zM311.69 576.64h6.32v5.58h-6.32zM382.34 576.64h6.32v5.58h-6.32zM438.86 576.64h6.32v5.58h-6.32zM488.31 576.64h6.32v5.58h-6.32zM523.63 576.64h6.32v5.58h-6.32zM580.15 576.64h6.32v5.58h-6.32zM587.22 576.64h6.32v5.58h-6.32zM594.29 576.64h6.32v5.58h-6.32zM601.35 576.64h6.32v5.58h-6.32zM636.68 576.64h6.32v5.58h-6.32zM650.81 576.64h6.32v5.58h-6.32zM657.87 576.64h6.32v5.58h-6.32zM664.94 576.64h6.32v5.58h-6.32zM163.32 582.98h6.32v5.58h-6.32zM198.64 582.98h6.32v5.58h-6.32zM248.1 582.98h6.32v5.58h-6.32zM297.56 582.98h6.32v5.58h-6.32zM325.81 582.98h6.32v5.58h-6.32zM339.95 582.98h6.32v5.58h-6.32zM354.08 582.98h6.32v5.58h-6.32zM375.27 582.98h6.32v5.58h-6.32zM431.79 582.98h6.32v5.58h-6.32zM467.12 582.98h6.32v5.58h-6.32zM502.44 582.98h6.32v5.58h-6.32zM551.89 582.98h6.32v5.58h-6.32zM566.02 582.98h6.32v5.58h-6.32zM636.68 582.98h6.32v5.58h-6.32zM650.81 582.98h6.32v5.58h-6.32zM657.87 582.98h6.32v5.58h-6.32zM664.94 582.98h6.32v5.58h-6.32zM700.26 582.98h6.32v5.58h-6.32zM113.86 589.31h6.32v5.58h-6.32zM226.91 589.31h6.32v5.58h-6.32zM332.88 589.31h6.32v5.58h-6.32zM339.95 589.31h6.32v5.58h-6.32zM467.12 589.31h6.32v5.58h-6.32zM580.15 589.31h6.32v5.58h-6.32zM622.55 589.31h6.32v5.58h-6.32zM629.61 589.31h6.32v5.58h-6.32zM650.81 589.31h6.32v5.58h-6.32zM679.07 589.31h6.32v5.58h-6.32zM728.52 589.31h6.32v5.58h-6.32zM163.32 595.63h6.32v5.58h-6.32zM339.95 595.63h6.32v5.58h-6.32zM375.27 595.63h6.32v5.58h-6.32zM396.47 595.63h6.32v5.58h-6.32zM431.79 595.63h6.32v5.58h-6.32zM438.86 595.63h6.32v5.58h-6.32zM509.5 595.63h6.32v5.58h-6.32zM566.02 595.63h6.32v5.58h-6.32zM580.15 595.63h6.32v5.58h-6.32zM615.48 595.63h6.32v5.58h-6.32zM657.87 595.63h6.32v5.58h-6.32zM679.07 595.63h6.32v5.58h-6.32zM735.59 595.63h6.32v5.58h-6.32zM742.65 595.63h6.32v5.58h-6.32zM269.3 601.97h6.32v5.58h-6.32zM347.01 601.97h6.32v5.58h-6.32zM375.27 601.97h6.32v5.58h-6.32zM403.53 601.97h6.32v5.58h-6.32zM467.12 601.97h6.32v5.58h-6.32zM481.25 601.97h6.32v5.58h-6.32zM495.38 601.97h6.32v5.58h-6.32zM551.89 601.97h6.32v5.58h-6.32zM573.09 601.97h6.32v5.58h-6.32zM615.48 601.97h6.32v5.58h-6.32zM629.61 601.97h6.32v5.58h-6.32zM657.87 601.97h6.32v5.58h-6.32zM672 601.97h6.32v5.58h-6.32zM714.39 601.97h6.32v5.58h-6.32zM742.65 601.97h6.32v5.58h-6.32zM135.06 608.3h6.32v5.58h-6.32zM184.51 608.3h6.32v5.58h-6.32zM255.16 608.3h6.32v5.58h-6.32zM283.43 608.3h6.32v5.58h-6.32zM339.95 608.3h6.32v5.58h-6.32zM375.27 608.3h6.32v5.58h-6.32zM403.53 608.3h6.32v5.58h-6.32zM410.6 608.3h6.32v5.58h-6.32zM516.57 608.3h6.32v5.58h-6.32zM530.7 608.3h6.32v5.58h-6.32zM573.09 608.3h6.32v5.58h-6.32zM608.42 608.3h6.32v5.58h-6.32zM629.61 608.3h6.32v5.58h-6.32zM657.87 608.3h6.32v5.58h-6.32zM714.39 608.3h6.32v5.58h-6.32zM721.46 608.3h6.32v5.58h-6.32zM156.25 614.62h6.32v5.58h-6.32zM304.62 614.62h6.32v5.58h-6.32zM347.01 614.62h6.32v5.58h-6.32zM403.53 614.62h6.32v5.58h-6.32zM502.44 614.62h6.32v5.58h-6.32zM558.96 614.62h6.32v5.58h-6.32zM566.02 614.62h6.32v5.58h-6.32zM573.09 614.62h6.32v5.58h-6.32zM587.22 614.62h6.32v5.58h-6.32zM672 614.62h6.32v5.58h-6.32zM679.07 614.62h6.32v5.58h-6.32zM693.2 614.62h6.32v5.58h-6.32zM700.26 614.62h6.32v5.58h-6.32zM707.33 614.62h6.32v5.58h-6.32zM721.46 614.62h6.32v5.58h-6.32zM318.75 620.96h6.32v5.58h-6.32zM347.01 620.96h6.32v5.58h-6.32zM403.53 620.96h6.32v5.58h-6.32zM438.86 620.96h6.32v5.58h-6.32zM495.38 620.96h6.32v5.58h-6.32zM544.83 620.96h6.32v5.58h-6.32zM566.02 620.96h6.32v5.58h-6.32zM573.09 620.96h6.32v5.58h-6.32zM580.15 620.96h6.32v5.58h-6.32zM594.29 620.96h6.32v5.58h-6.32zM601.35 620.96h6.32v5.58h-6.32zM636.68 620.96h6.32v5.58h-6.32zM650.81 620.96h6.32v5.58h-6.32zM686.13 620.96h6.32v5.58h-6.32zM693.2 620.96h6.32v5.58h-6.32zM700.26 620.96h6.32v5.58h-6.32zM742.65 620.96h6.32v5.58h-6.32zM177.45 627.28h6.32v5.58h-6.32zM184.51 627.28h6.32v5.58h-6.32zM255.16 627.28h6.32v5.58h-6.32zM318.75 627.28h6.32v5.58h-6.32zM368.21 627.28h6.32v5.58h-6.32zM417.66 627.28h6.32v5.58h-6.32zM424.73 627.28h6.32v5.58h-6.32zM573.09 627.28h6.32v5.58h-6.32zM629.61 627.28h6.32v5.58h-6.32zM693.2 627.28h6.32v5.58h-6.32zM707.33 627.28h6.32v5.58h-6.32zM721.46 627.28h6.32v5.58h-6.32zM728.52 627.28h6.32v5.58h-6.32zM735.59 627.28h6.32v5.58h-6.32zM742.65 627.28h6.32v5.58h-6.32z" fill="#370000"/>
<path d="M396.47 456.38h6.32v5.58h-6.32zM233.97 462.7h6.32v5.58h-6.32zM233.97 469.04h6.32v5.58h-6.32zM241.03 469.04h6.32v5.58h-6.32zM728.52 469.04h6.32v5.58h-6.32zM643.74 481.69h6.32v5.58h-6.32zM516.57 494.36h6.32v5.58h-6.32zM226.91 526h6.32v5.58h-6.32zM629.61 557.65h6.32v5.58h-6.32zM163.32 563.99h6.32v5.58h-6.32zM431.79 563.99h6.32v5.58h-6.32zM438.86 563.99h6.32v5.58h-6.32zM163.32 570.32h6.32v5.58h-6.32zM438.86 570.32h6.32v5.58h-6.32zM431.79 576.64h6.32v5.58h-6.32zM672 576.64h6.32v5.58h-6.32zM226.91 582.98h6.32v5.58h-6.32zM219.84 601.97h6.32v5.58h-6.32zM664.94 601.97h6.32v5.58h-6.32zM629.61 620.96h6.32v5.58h-6.32zM241.03 627.28h6.32v5.58h-6.32z" fill="#fa1212"/>
<path d="M558.96 456.38h6.32v5.58h-6.32zM106.8 462.7h6.32v5.58h-6.32zM191.58 462.7h6.32v5.58h-6.32zM212.78 462.7h6.32v5.58h-6.32zM460.05 462.7h6.32v5.58h-6.32zM467.12 462.7h6.32v5.58h-6.32zM742.65 462.7h6.32v5.58h-6.32zM269.3 469.04h6.32v5.58h-6.32zM403.53 469.04h6.32v5.58h-6.32zM410.6 469.04h6.32v5.58h-6.32zM85.6 475.37h6.32v5.58h-6.32zM120.93 475.37h6.32v5.58h-6.32zM128 475.37h6.32v5.58h-6.32zM255.16 475.37h6.32v5.58h-6.32zM304.62 475.37h6.32v5.58h-6.32zM728.52 475.37h6.32v5.58h-6.32zM85.6 481.69h6.32v5.58h-6.32zM424.73 481.69h6.32v5.58h-6.32zM728.52 481.69h6.32v5.58h-6.32zM163.32 488.02h6.32v5.58h-6.32zM191.58 488.02h6.32v5.58h-6.32zM85.6 494.36h6.32v5.58h-6.32zM106.8 494.36h6.32v5.58h-6.32zM149.19 494.36h6.32v5.58h-6.32zM170.38 494.36h6.32v5.58h-6.32zM205.71 494.36h6.32v5.58h-6.32zM318.75 494.36h6.32v5.58h-6.32zM106.8 500.69h6.32v5.58h-6.32zM113.86 500.69h6.32v5.58h-6.32zM339.95 500.69h6.32v5.58h-6.32zM106.8 507.01h6.32v5.58h-6.32zM142.12 507.01h6.32v5.58h-6.32zM163.32 507.01h6.32v5.58h-6.32zM481.25 507.01h6.32v5.58h-6.32zM735.59 507.01h6.32v5.58h-6.32zM85.6 513.35h6.32v5.58h-6.32zM135.06 513.35h6.32v5.58h-6.32zM255.16 513.35h6.32v5.58h-6.32zM742.65 513.35h6.32v5.58h-6.32zM106.8 519.67h6.32v5.58h-6.32zM149.19 519.67h6.32v5.58h-6.32zM163.32 519.67h6.32v5.58h-6.32zM347.01 519.67h6.32v5.58h-6.32zM382.34 519.67h6.32v5.58h-6.32zM85.6 526h6.32v5.58h-6.32zM106.8 526h6.32v5.58h-6.32zM120.93 526h6.32v5.58h-6.32zM128 526h6.32v5.58h-6.32zM135.06 526h6.32v5.58h-6.32zM311.69 526h6.32v5.58h-6.32zM368.21 526h6.32v5.58h-6.32zM488.31 526h6.32v5.58h-6.32zM120.93 532.34h6.32v5.58h-6.32zM170.38 532.34h6.32v5.58h-6.32zM184.51 532.34h6.32v5.58h-6.32zM191.58 532.34h6.32v5.58h-6.32zM728.52 532.34h6.32v5.58h-6.32zM120.93 538.66h6.32v5.58h-6.32zM262.23 538.66h6.32v5.58h-6.32zM156.25 545h6.32v5.58h-6.32zM163.32 545h6.32v5.58h-6.32zM728.52 545h6.32v5.58h-6.32zM85.6 551.33h6.32v5.58h-6.32zM92.67 551.33h6.32v5.58h-6.32zM99.73 551.33h6.32v5.58h-6.32zM170.38 551.33h6.32v5.58h-6.32zM212.78 551.33h6.32v5.58h-6.32zM382.34 551.33h6.32v5.58h-6.32zM78.54 557.65h6.32v5.58h-6.32zM85.6 557.65h6.32v5.58h-6.32zM248.1 557.65h6.32v5.58h-6.32zM728.52 557.65h6.32v5.58h-6.32zM735.59 557.65h6.32v5.58h-6.32zM85.6 563.99h6.32v5.58h-6.32zM170.38 563.99h6.32v5.58h-6.32zM212.78 563.99h6.32v5.58h-6.32zM99.73 570.32h6.32v5.58h-6.32zM248.1 570.32h6.32v5.58h-6.32zM92.67 576.64h6.32v5.58h-6.32zM99.73 576.64h6.32v5.58h-6.32zM205.71 576.64h6.32v5.58h-6.32zM212.78 576.64h6.32v5.58h-6.32zM389.4 576.64h6.32v5.58h-6.32zM728.52 576.64h6.32v5.58h-6.32zM290.49 582.98h6.32v5.58h-6.32zM608.42 582.98h6.32v5.58h-6.32zM742.65 582.98h6.32v5.58h-6.32zM71.47 589.31h6.32v5.58h-6.32zM177.45 589.31h6.32v5.58h-6.32zM304.62 589.31h6.32v5.58h-6.32zM85.6 595.63h6.32v5.58h-6.32zM128 595.63h6.32v5.58h-6.32zM135.06 595.63h6.32v5.58h-6.32zM170.38 595.63h6.32v5.58h-6.32zM212.78 595.63h6.32v5.58h-6.32zM523.63 595.63h6.32v5.58h-6.32zM170.38 601.97h6.32v5.58h-6.32zM198.64 601.97h6.32v5.58h-6.32zM212.78 601.97h6.32v5.58h-6.32zM304.62 601.97h6.32v5.58h-6.32zM318.75 601.97h6.32v5.58h-6.32zM445.92 601.97h6.32v5.58h-6.32zM608.42 601.97h6.32v5.58h-6.32zM85.6 608.3h6.32v5.58h-6.32zM113.86 608.3h6.32v5.58h-6.32zM212.78 608.3h6.32v5.58h-6.32zM311.69 608.3h6.32v5.58h-6.32zM424.73 608.3h6.32v5.58h-6.32zM467.12 608.3h6.32v5.58h-6.32zM113.86 614.62h6.32v5.58h-6.32zM248.1 614.62h6.32v5.58h-6.32zM113.86 620.96h6.32v5.58h-6.32zM170.38 620.96h6.32v5.58h-6.32zM389.4 620.96h6.32v5.58h-6.32zM523.63 627.28h6.32v5.58h-6.32z" fill="#0cb80c"/>
<path d="M99.73 462.7h6.32v5.58h-6.32zM149.19 481.69h6.32v5.58h-6.32zM156.25 481.69h6.32v5.58h-6.32zM106.8 488.02h6.32v5.58h-6.32zM241.03 488.02h6.32v5.58h-6.32zM92.67 500.69h6.32v5.58h-6.32zM149.19 500.69h6.32v5.58h-6.32zM212.78 507.01h6.32v5.58h-6.32zM85.6 519.67h6.32v5.58h-6.32zM113.86 519.67h6.32v5.58h-6.32zM163.32 532.34h6.32v5.58h-6.32zM198.64 532.34h6.32v5.58h-6.32zM71.47 538.66h6.32v5.58h-6.32zM71.47 545h6.32v5.58h-6.32zM78.54 551.33h6.32v5.58h-6.32zM92.67 557.65h6.32v5.58h-6.32zM99.73 557.65h6.32v5.58h-6.32zM198.64 563.99h6.32v5.58h-6.32zM85.6 570.32h6.32v5.58h-6.32zM128 570.32h6.32v5.58h-6.32zM106.8 576.64h6.32v5.58h-6.32zM325.81 576.64h6.32v5.58h-6.32zM170.38 582.98h6.32v5.58h-6.32zM347.01 582.98h6.32v5.58h-6.32zM184.51 589.31h6.32v5.58h-6.32zM191.58 589.31h6.32v5.58h-6.32zM191.58 595.63h6.32v5.58h-6.32zM99.73 608.3h6.32v5.58h-6.32zM205.71 614.62h6.32v5.58h-6.32zM212.78 614.62h6.32v5.58h-6.32zM735.59 614.62h6.32v5.58h-6.32zM742.65 614.62h6.32v5.58h-6.32z" fill="#18fa18"/>
<path d="M375.27 481.69h6.32v5.58h-6.32z" fill="#b4b4b4"/>
<text x="68.9" y="461.47" font-size="6.4" font-weight="700" text-anchor="end">SGCZ</text>
<text x="68.9" y="467.8" font-size="6.4" font-weight="700" text-anchor="end">DACH1</text>
<text x="68.9" y="474.12" font-size="6.4" font-weight="700" text-anchor="end">SLC35F3</text>
<text x="68.9" y="480.45" font-size="6.4" font-weight="700" text-anchor="end">PPP2R2B</text>
<text x="68.9" y="486.79" font-size="6.4" font-weight="700" text-anchor="end">EPB41L5</text>
<text x="68.9" y="493.12" font-size="6.4" font-weight="700" text-anchor="end">SRCIN1</text>
<text x="68.9" y="499.44" font-size="6.4" font-weight="700" text-anchor="end">RAB27B</text>
<text x="68.9" y="505.78" font-size="6.4" font-weight="700" text-anchor="end">DPP6</text>
<text x="68.9" y="512.11" font-size="6.4" font-weight="700" text-anchor="end">CPE</text>
<text x="68.9" y="518.43" font-size="6.4" font-weight="700" text-anchor="end">PBX1</text>
<text x="68.9" y="524.76" font-size="6.4" font-weight="700" text-anchor="end">FER</text>
<text x="68.9" y="531.09" font-size="6.4" font-weight="700" text-anchor="end">C1orf21</text>
<text x="68.9" y="537.42" font-size="6.4" font-weight="700" text-anchor="end">GABRB3</text>
<text x="68.9" y="543.75" font-size="6.4" font-weight="700" text-anchor="end">PRKCA</text>
<text x="68.9" y="550.08" font-size="6.4" font-weight="700" text-anchor="end">B3GALNT1</text>
<text x="68.9" y="556.41" font-size="6.4" font-weight="700" text-anchor="end">MYLK</text>
<text x="68.9" y="562.75" font-size="6.4" font-weight="700" text-anchor="end">LTBP1</text>
<text x="68.9" y="569.07" font-size="6.4" font-weight="700" text-anchor="end">ERRFI1</text>
<text x="68.9" y="575.4" font-size="6.4" font-weight="700" text-anchor="end">EGFR</text>
<text x="68.9" y="581.73" font-size="6.4" font-weight="700" text-anchor="end">ETS2</text>
<text x="68.9" y="588.06" font-size="6.4" font-weight="700" text-anchor="end">PARP4</text>
<text x="68.9" y="594.39" font-size="6.4" font-weight="700" text-anchor="end">PPM1L</text>
<text x="68.9" y="600.72" font-size="6.4" font-weight="700" text-anchor="end">HSPB6</text>
<text x="68.9" y="607.05" font-size="6.4" font-weight="700" text-anchor="end">CHIT1</text>
<text x="68.9" y="613.38" font-size="6.4" font-weight="700" text-anchor="end">KIF26B</text>
<text x="68.9" y="619.71" font-size="6.4" font-weight="700" text-anchor="end">FIGN</text>
<text x="68.9" y="626.04" font-size="6.4" font-weight="700" text-anchor="end">NAV2</text>
<text x="68.9" y="632.38" font-size="6.4" font-weight="700" text-anchor="end">AJAP1</text>
<text x="68.9" y="645.6" font-size="6.8" font-weight="700" text-anchor="end">Mean Z Score</text>
<rect x="71.83" y="640.7" width="5.6" height="5.2" fill="#ccccff"/>
<rect x="78.9" y="640.7" width="5.6" height="5.2" fill="#ccccff"/>
<rect x="85.96" y="640.7" width="5.6" height="5.2" fill="#1212f7"/>
<rect x="93.03" y="640.7" width="5.6" height="5.2" fill="#a1a1ff"/>
<rect x="100.09" y="640.7" width="5.6" height="5.2" fill="#3333ff"/>
<rect x="107.16" y="640.7" width="5.6" height="5.2" fill="#1414f8"/>
<rect x="114.22" y="640.7" width="5.6" height="5.2" fill="#5252ff"/>
<rect x="121.29" y="640.7" width="5.6" height="5.2" fill="#3333ff"/>
<rect x="128.35" y="640.7" width="5.6" height="5.2" fill="#1f1ffc"/>
<rect x="135.42" y="640.7" width="5.6" height="5.2" fill="#8080ff"/>
<rect x="142.48" y="640.7" width="5.6" height="5.2" fill="#9999ff"/>
<rect x="149.55" y="640.7" width="5.6" height="5.2" fill="#1414f8"/>
<rect x="156.61" y="640.7" width="5.6" height="5.2" fill="#1414f8"/>
<rect x="163.68" y="640.7" width="5.6" height="5.2" fill="#a1a1ff"/>
<rect x="170.74" y="640.7" width="5.6" height="5.2" fill="#1414f8"/>
<rect x="177.81" y="640.7" width="5.6" height="5.2" fill="#bfbfff"/>
<rect x="184.87" y="640.7" width="5.6" height="5.2" fill="#c7c7ff"/>
<rect x="191.94" y="640.7" width="5.6" height="5.2" fill="#8787ff"/>
<rect x="199" y="640.7" width="5.6" height="5.2" fill="#8f8fff"/>
<rect x="206.07" y="640.7" width="5.6" height="5.2" fill="#6161ff"/>
<rect x="213.13" y="640.7" width="5.6" height="5.2" fill="#4040ff"/>
<rect x="220.2" y="640.7" width="5.6" height="5.2" fill="#ffbfbf"/>
<rect x="227.26" y="640.7" width="5.6" height="5.2" fill="#f21212"/>
<rect x="234.33" y="640.7" width="5.6" height="5.2" fill="#ffd9d9"/>
<rect x="241.39" y="640.7" width="5.6" height="5.2" fill="#ffe0e0"/>
<rect x="248.46" y="640.7" width="5.6" height="5.2" fill="#f5f5ff"/>
<rect x="255.52" y="640.7" width="5.6" height="5.2" fill="#c4c4ff"/>
<rect x="262.59" y="640.7" width="5.6" height="5.2" fill="#b8b8ff"/>
<rect x="269.65" y="640.7" width="5.6" height="5.2" fill="#ffd1d1"/>
<rect x="276.72" y="640.7" width="5.6" height="5.2" fill="#f0f0ff"/>
<rect x="283.78" y="640.7" width="5.6" height="5.2" fill="#bfbfff"/>
<rect x="290.85" y="640.7" width="5.6" height="5.2" fill="#b2b2ff"/>
<rect x="297.91" y="640.7" width="5.6" height="5.2" fill="#dbdbff"/>
<rect x="304.98" y="640.7" width="5.6" height="5.2" fill="#e8e8ff"/>
<rect x="312.04" y="640.7" width="5.6" height="5.2" fill="#b8b8ff"/>
<rect x="319.11" y="640.7" width="5.6" height="5.2" fill="#a8a8ff"/>
<rect x="326.17" y="640.7" width="5.6" height="5.2" fill="#d1d1ff"/>
<rect x="333.24" y="640.7" width="5.6" height="5.2" fill="#f7f7ff"/>
<rect x="340.3" y="640.7" width="5.6" height="5.2" fill="#ededff"/>
<rect x="347.37" y="640.7" width="5.6" height="5.2" fill="#d1d1ff"/>
<rect x="354.43" y="640.7" width="5.6" height="5.2" fill="#bfbfff"/>
<rect x="361.5" y="640.7" width="5.6" height="5.2" fill="#c4c4ff"/>
<rect x="368.56" y="640.7" width="5.6" height="5.2" fill="#e0e0ff"/>
<rect x="375.63" y="640.7" width="5.6" height="5.2" fill="#f0f0ff"/>
<rect x="382.69" y="640.7" width="5.6" height="5.2" fill="#5252ff"/>
<rect x="389.76" y="640.7" width="5.6" height="5.2" fill="#8f8fff"/>
<rect x="396.82" y="640.7" width="5.6" height="5.2" fill="#ff8f8f"/>
<rect x="403.89" y="640.7" width="5.6" height="5.2" fill="#ffd9d9"/>
<rect x="410.95" y="640.7" width="5.6" height="5.2" fill="#fff0f0"/>
<rect x="418.02" y="640.7" width="5.6" height="5.2" fill="#ff9999"/>
<rect x="425.08" y="640.7" width="5.6" height="5.2" fill="#ffa8a8"/>
<rect x="432.15" y="640.7" width="5.6" height="5.2" fill="#ff8080"/>
<rect x="439.21" y="640.7" width="5.6" height="5.2" fill="#ff7070"/>
<rect x="446.28" y="640.7" width="5.6" height="5.2" fill="#f7f7ff"/>
<rect x="453.34" y="640.7" width="5.6" height="5.2" fill="#ffd9d9"/>
<rect x="460.41" y="640.7" width="5.6" height="5.2" fill="#ffe6e6"/>
<rect x="467.47" y="640.7" width="5.6" height="5.2" fill="#d9d9ff"/>
<rect x="474.54" y="640.7" width="5.6" height="5.2" fill="#ffc7c7"/>
<rect x="481.6" y="640.7" width="5.6" height="5.2" fill="#ffd9d9"/>
<rect x="488.67" y="640.7" width="5.6" height="5.2" fill="#fff5f5"/>
<rect x="495.73" y="640.7" width="5.6" height="5.2" fill="#ffb8b8"/>
<rect x="502.8" y="640.7" width="5.6" height="5.2" fill="#ffa8a8"/>
<rect x="509.86" y="640.7" width="5.6" height="5.2" fill="#ff8787"/>
<rect x="516.93" y="640.7" width="5.6" height="5.2" fill="#ff7878"/>
<rect x="523.99" y="640.7" width="5.6" height="5.2" fill="#ffb0b0"/>
<rect x="531.06" y="640.7" width="5.6" height="5.2" fill="#ffb2b2"/>
<rect x="538.12" y="640.7" width="5.6" height="5.2" fill="#ffb0b0"/>
<rect x="545.19" y="640.7" width="5.6" height="5.2" fill="#ffa8a8"/>
<rect x="552.25" y="640.7" width="5.6" height="5.2" fill="#ffe8e8"/>
<rect x="559.32" y="640.7" width="5.6" height="5.2" fill="#ffeded"/>
<rect x="566.38" y="640.7" width="5.6" height="5.2" fill="#ff9c9c"/>
<rect x="573.45" y="640.7" width="5.6" height="5.2" fill="#ffb0b0"/>
<rect x="580.51" y="640.7" width="5.6" height="5.2" fill="#ff8787"/>
<rect x="587.58" y="640.7" width="5.6" height="5.2" fill="#ffb8b8"/>
<rect x="594.64" y="640.7" width="5.6" height="5.2" fill="#ffc4c4"/>
<rect x="601.71" y="640.7" width="5.6" height="5.2" fill="#ffc7c7"/>
<rect x="608.77" y="640.7" width="5.6" height="5.2" fill="#ffd1d1"/>
<rect x="615.84" y="640.7" width="5.6" height="5.2" fill="#fff7f7"/>
<rect x="622.9" y="640.7" width="5.6" height="5.2" fill="#ffd1d1"/>
<rect x="629.97" y="640.7" width="5.6" height="5.2" fill="#ff7070"/>
<rect x="637.03" y="640.7" width="5.6" height="5.2" fill="#ff8787"/>
<rect x="644.1" y="640.7" width="5.6" height="5.2" fill="#ff6161"/>
<rect x="651.16" y="640.7" width="5.6" height="5.2" fill="#fc4040"/>
<rect x="658.23" y="640.7" width="5.6" height="5.2" fill="#fe4747"/>
<rect x="665.29" y="640.7" width="5.6" height="5.2" fill="#ff8080"/>
<rect x="672.36" y="640.7" width="5.6" height="5.2" fill="#ff8787"/>
<rect x="679.42" y="640.7" width="5.6" height="5.2" fill="#ff8080"/>
<rect x="686.49" y="640.7" width="5.6" height="5.2" fill="#ff9999"/>
<rect x="693.55" y="640.7" width="5.6" height="5.2" fill="#ffa1a1"/>
<rect x="700.62" y="640.7" width="5.6" height="5.2" fill="#ff7878"/>
<rect x="707.68" y="640.7" width="5.6" height="5.2" fill="#ff6161"/>
<rect x="714.75" y="640.7" width="5.6" height="5.2" fill="#ff8080"/>
<rect x="721.81" y="640.7" width="5.6" height="5.2" fill="#ffa1a1"/>
<rect x="728.88" y="640.7" width="5.6" height="5.2" fill="#b0b0ff"/>
<rect x="735.94" y="640.7" width="5.6" height="5.2" fill="#d9d9ff"/>
<rect x="743.01" y="640.7" width="5.6" height="5.2" fill="#c7c7ff"/>
<path d="M81.7 646.6L81.7 649.33M88.76 646.6L88.76 649.33M81.7 649.33L88.76 649.33M95.83 646.6L95.83 648.67M102.89 646.6L102.89 648.67M95.83 648.67L102.89 648.67M117.02 646.6L117.02 648.33M124.09 646.6L124.09 648.33M117.02 648.33L124.09 648.33M109.96 646.6L109.96 649.51M120.56 648.33L120.56 649.51M109.96 649.51L120.56 649.51M99.36 648.67L99.36 651.16M115.26 649.51L115.26 651.16M99.36 651.16L115.26 651.16M85.23 649.33L85.23 652.74M107.31 651.16L107.31 652.74M85.23 652.74L107.31 652.74M138.22 646.6L138.22 648.56M145.28 646.6L145.28 648.56M138.22 648.56L145.28 648.56M131.15 646.6L131.15 649.46M141.75 648.56L141.75 649.46M131.15 649.46L141.75 649.46M136.45 649.46L136.45 650.94M152.35 646.6L152.35 650.94M136.45 650.94L152.35 650.94M96.27 652.74L96.27 655.5M144.4 650.94L144.4 655.5M96.27 655.5L144.4 655.5M159.41 646.6L159.41 649.72M166.48 646.6L166.48 649.72M159.41 649.72L166.48 649.72M180.61 646.6L180.61 648.68M187.67 646.6L187.67 648.68M180.61 648.68L187.67 648.68M173.54 646.6L173.54 650.07M184.14 648.68L184.14 650.07M173.54 650.07L184.14 650.07M201.8 646.6L201.8 648.61M208.87 646.6L208.87 648.61M201.8 648.61L208.87 648.61M194.74 646.6L194.74 649.54M205.34 648.61L205.34 649.54M194.74 649.54L205.34 649.54M200.04 649.54L200.04 650.46M215.93 646.6L215.93 650.46M200.04 650.46L215.93 650.46M178.84 650.07L178.84 652.7M207.98 650.46L207.98 652.7M178.84 652.7L207.98 652.7M162.94 649.72L162.94 655M193.41 652.7L193.41 655M162.94 655L193.41 655M120.33 655.5L120.33 657.6M178.18 655L178.18 657.6M120.33 657.6L178.18 657.6M223 646.6L223 669M230.06 646.6L230.06 669M223 669L230.06 669M237.13 646.6L237.13 668M244.19 646.6L244.19 668M237.13 668L244.19 668M226.53 669L226.53 667.5M240.66 668L240.66 667.5M226.53 667.5L240.66 667.5M233.59 667.5L233.59 664.5M251.26 646.6L251.26 664.5M233.59 664.5L251.26 664.5M265.39 646.6L265.39 649.03M272.45 646.6L272.45 649.03M265.39 649.03L272.45 649.03M258.32 646.6L258.32 650.08M268.92 649.03L268.92 650.08M258.32 650.08L268.92 650.08M279.52 646.6L279.52 649.22M286.58 646.6L286.58 649.22M279.52 649.22L286.58 649.22M263.62 650.08L263.62 652.29M283.05 649.22L283.05 652.29M263.62 652.29L283.05 652.29M293.65 646.6L293.65 649.32M300.71 646.6L300.71 649.32M293.65 649.32L300.71 649.32M297.18 649.32L297.18 650.58M307.78 646.6L307.78 650.58M297.18 650.58L307.78 650.58M314.84 646.6L314.84 648.69M321.91 646.6L321.91 648.69M314.84 648.69L321.91 648.69M318.38 648.69L318.38 650.03M328.97 646.6L328.97 650.03M318.38 650.03L328.97 650.03M302.48 650.58L302.48 652.9M323.67 650.03L323.67 652.9M302.48 652.9L323.67 652.9M273.34 652.29L273.34 656.06M313.08 652.9L313.08 656.06M273.34 656.06L313.08 656.06M343.1 646.6L343.1 648.8M350.17 646.6L350.17 648.8M343.1 648.8L350.17 648.8M346.63 648.8L346.63 650.05M357.23 646.6L357.23 650.05M346.63 650.05L357.23 650.05M351.93 650.05L351.93 651.04M364.3 646.6L364.3 651.04M351.93 651.04L364.3 651.04M336.04 646.6L336.04 652.1M358.12 651.04L358.12 652.1M336.04 652.1L358.12 652.1M378.43 646.6L378.43 648.52M385.49 646.6L385.49 648.52M378.43 648.52L385.49 648.52M381.96 648.52L381.96 649.36M392.56 646.6L392.56 649.36M381.96 649.36L392.56 649.36M371.36 646.6L371.36 650.04M387.26 649.36L387.26 650.04M371.36 650.04L387.26 650.04M399.62 646.6L399.62 648.62M406.69 646.6L406.69 648.62M399.62 648.62L406.69 648.62M403.16 648.62L403.16 649.54M413.75 646.6L413.75 649.54M403.16 649.54L413.75 649.54M379.31 650.04L379.31 652.49M408.45 649.54L408.45 652.49M379.31 652.49L408.45 652.49M347.08 652.1L347.08 655M393.88 652.49L393.88 655M347.08 655L393.88 655M293.21 656.06L293.21 660M370.48 655L370.48 660M293.21 660L370.48 660M242.43 664.5L242.43 661.5M331.84 660L331.84 661.5M242.43 661.5L331.84 661.5M427.88 646.6L427.88 649.07M434.95 646.6L434.95 649.07M427.88 649.07L434.95 649.07M431.42 649.07L431.42 650.75M442.01 646.6L442.01 650.75M431.42 650.75L442.01 650.75M420.82 646.6L420.82 652.16M436.71 650.75L436.71 652.16M420.82 652.16L436.71 652.16M449.08 646.6L449.08 648.61M456.14 646.6L456.14 648.61M449.08 648.61L456.14 648.61M463.21 646.6L463.21 648.86M470.27 646.6L470.27 648.86M463.21 648.86L470.27 648.86M452.61 648.61L452.61 650.23M466.74 648.86L466.74 650.23M452.61 650.23L466.74 650.23M459.68 650.23L459.68 651.92M477.34 646.6L477.34 651.92M459.68 651.92L477.34 651.92M484.4 646.6L484.4 649.09M491.47 646.6L491.47 649.09M484.4 649.09L491.47 649.09M487.94 649.09L487.94 650.19M498.53 646.6L498.53 650.19M487.94 650.19L498.53 650.19M512.66 646.6L512.66 648.87M519.73 646.6L519.73 648.87M512.66 648.87L519.73 648.87M505.6 646.6L505.6 650.4M516.19 648.87L516.19 650.4M505.6 650.4L516.19 650.4M493.23 650.19L493.23 652.32M510.9 650.4L510.9 652.32M493.23 652.32L510.9 652.32M468.51 651.92L468.51 654.55M502.06 652.32L502.06 654.55M468.51 654.55L502.06 654.55M428.77 652.16L428.77 658.07M485.29 654.55L485.29 658.07M428.77 658.07L485.29 658.07M533.86 646.6L533.86 649.4M540.92 646.6L540.92 649.4M533.86 649.4L540.92 649.4M526.79 646.6L526.79 651.05M537.39 649.4L537.39 651.05M526.79 651.05L537.39 651.05M562.12 646.6L562.12 648.37M569.18 646.6L569.18 648.37M562.12 648.37L569.18 648.37M555.05 646.6L555.05 649.3M565.65 648.37L565.65 649.3M555.05 649.3L565.65 649.3M547.99 646.6L547.99 650.16M560.35 649.3L560.35 650.16M547.99 650.16L560.35 650.16M583.31 646.6L583.31 647.74M590.38 646.6L590.38 647.74M583.31 647.74L590.38 647.74M576.25 646.6L576.25 648.56M586.85 647.74L586.85 648.56M576.25 648.56L586.85 648.56M581.55 648.56L581.55 649.37M597.44 646.6L597.44 649.37M581.55 649.37L597.44 649.37M589.49 649.37L589.49 650.65M604.51 646.6L604.51 650.65M589.49 650.65L604.51 650.65M554.17 650.16L554.17 652.93M597 650.65L597 652.93M554.17 652.93L597 652.93M532.09 651.05L532.09 655.7M575.59 652.93L575.59 655.7M532.09 655.7L575.59 655.7M457.03 658.07L457.03 661.5M553.84 655.7L553.84 661.5M457.03 661.5L553.84 661.5M618.64 646.6L618.64 649.27M625.7 646.6L625.7 649.27M618.64 649.27L625.7 649.27M639.83 646.6L639.83 649.11M646.9 646.6L646.9 649.11M639.83 649.11L646.9 649.11M632.77 646.6L632.77 650.06M643.37 649.11L643.37 650.06M632.77 650.06L643.37 650.06M622.17 649.27L622.17 651.77M638.07 650.06L638.07 651.77M622.17 651.77L638.07 651.77M611.57 646.6L611.57 653.93M630.12 651.77L630.12 653.93M611.57 653.93L630.12 653.93M653.96 646.6L653.96 649.7M661.03 646.6L661.03 649.7M653.96 649.7L661.03 649.7M675.16 646.6L675.16 648.53M682.22 646.6L682.22 648.53M675.16 648.53L682.22 648.53M668.09 646.6L668.09 649.35M678.69 648.53L678.69 649.35M668.09 649.35L678.69 649.35M689.29 646.6L689.29 648.99M696.35 646.6L696.35 648.99M689.29 648.99L696.35 648.99M673.39 649.35L673.39 651.31M692.82 648.99L692.82 651.31M673.39 651.31L692.82 651.31M657.5 649.7L657.5 653.09M683.11 651.31L683.11 653.09M657.5 653.09L683.11 653.09M710.48 646.6L710.48 649M717.55 646.6L717.55 649M710.48 649L717.55 649M714.02 649L714.02 650.55M724.61 646.6L724.61 650.55M714.02 650.55L724.61 650.55M703.42 646.6L703.42 651.5M719.31 650.55L719.31 651.5M703.42 651.5L719.31 651.5M670.3 653.09L670.3 655.55M711.37 651.5L711.37 655.55M670.3 655.55L711.37 655.55M620.85 653.93L620.85 660M690.83 655.55L690.83 660M620.85 660L690.83 660M505.43 661.5L505.43 664M655.84 660L655.84 664M505.43 664L655.84 664M731.68 646.6L731.68 650.62M738.74 646.6L738.74 650.62M731.68 650.62L738.74 650.62M735.21 650.62L735.21 652M745.81 646.6L745.81 652M735.21 652L745.81 652M580.64 664L580.64 666.4M740.51 652L740.51 666.4M580.64 666.4L740.51 666.4M287.13 661.5L287.13 668.8M660.57 666.4L660.57 668.8M287.13 668.8L660.57 668.8M149.26 657.6L149.26 670.2M473.85 668.8L473.85 670.2M149.26 670.2L473.85 670.2M74.63 646.6L74.63 671.6M311.55 670.2L311.55 671.6M74.63 671.6L311.55 671.6" stroke="#4a4a4a" stroke-width="0.7" fill="none" stroke-linecap="square"/>
<path d="M750 459.17L755.48 459.17M750 465.5L755.48 465.5M755.48 459.17L755.48 465.5M755.48 462.33L758 462.33M750 471.82L758 471.82M758 462.33L758 471.82M750 478.15L752.98 478.15M750 484.49L752.98 484.49M752.98 478.15L752.98 484.49M750 490.81L752.8 490.81M750 497.14L752.8 497.14M752.8 490.81L752.8 497.14M752.8 493.98L753.86 493.98M750 503.48L753.86 503.48M753.86 493.98L753.86 503.48M752.98 481.32L755.39 481.32M753.86 498.73L755.39 498.73M755.39 481.32L755.39 498.73M755.39 490.02L757.11 490.02M750 509.81L757.11 509.81M757.11 490.02L757.11 509.81M750 522.47L752.56 522.47M750 528.79L752.56 528.79M752.56 522.47L752.56 528.79M752.56 525.63L753.73 525.63M750 535.12L753.73 535.12M753.73 525.63L753.73 535.12M750 516.13L754.53 516.13M753.73 530.38L754.53 530.38M754.53 516.13L754.53 530.38M754.53 523.26L756.07 523.26M750 541.46L756.07 541.46M756.07 523.26L756.07 541.46M757.11 499.91L760.5 499.91M756.07 532.36L760.5 532.36M760.5 499.91L760.5 532.36M750 547.78L752.79 547.78M750 554.12L752.79 554.12M752.79 547.78L752.79 554.12M750 560.45L752.89 560.45M750 566.77L752.89 566.77M752.89 560.45L752.89 566.77M752.79 550.95L755.15 550.95M752.89 563.61L755.15 563.61M755.15 550.95L755.15 563.61M750 573.11L752.77 573.11M750 579.43L752.77 579.43M752.77 573.11L752.77 579.43M752.77 576.27L753.9 576.27M750 585.76L753.9 585.76M753.9 576.27L753.9 585.76M755.15 557.28L756.99 557.28M753.9 581.02L756.99 581.02M756.99 557.28L756.99 581.02M750 598.42L753.23 598.42M750 604.75L753.23 604.75M753.23 598.42L753.23 604.75M750 592.1L754.31 592.1M753.23 601.59L754.31 601.59M754.31 592.1L754.31 601.59M750 617.41L752.21 617.41M750 623.75L752.21 623.75M752.21 617.41L752.21 623.75M752.21 620.58L753.51 620.58M750 630.08L753.51 630.08M753.51 620.58L753.51 630.08M750 611.09L754.79 611.09M753.51 625.33L754.79 625.33M754.79 611.09L754.79 625.33M754.31 596.84L757.22 596.84M754.79 618.21L757.22 618.21M757.22 596.84L757.22 618.21M756.99 569.15L761 569.15M757.22 607.52L761 607.52M761 569.15L761 607.52M760.5 516.13L762.5 516.13M761 588.34L762.5 588.34M762.5 516.13L762.5 588.34M758 467.08L764.5 467.08M762.5 552.24L764.5 552.24M764.5 467.08L764.5 552.24" stroke="#3c3c3c" stroke-width="0.75" fill="none" stroke-linecap="square"/>
<path d="M79.1 433.6L79.1 677L220.4 677L220.4 433.6" stroke="#ff2d08" stroke-width="2.4" fill="none" stroke-linejoin="miter"/>
<path d="M77.9 433.6L221.6 433.6" stroke="#ff2d08" stroke-width="1.1" fill="none"/>
<path d="M418.9 433.6L418.9 676.6L728.1 676.6L728.1 433.6" stroke="#ff2d08" stroke-width="2.4" fill="none" stroke-linejoin="miter"/>
<path d="M417.7 433.6L729.3 433.6" stroke="#ff2d08" stroke-width="1.1" fill="none"/>
<defs><linearGradient id="zg684" x1="0" x2="1" y1="0" y2="0"><stop offset="0" stop-color="#14f014"/><stop offset="0.5" stop-color="#000"/><stop offset="1" stop-color="#f01010"/></linearGradient></defs>
<rect x="354.5" y="684.6" width="113.3" height="6.5" fill="url(#zg684)"/>
<rect x="410.8" y="684.6" width="0.7" height="6.5" fill="#ddd"/>
<text x="309" y="690.35" font-size="9.6" font-weight="700" textLength="33.5" lengthAdjust="spacingAndGlyphs">Z Score</text>
<text x="351.5" y="683.3" font-size="5.4" font-weight="700">-3</text>
<text x="466.8" y="683.3" font-size="5.4" font-weight="700">3</text>
<rect x="526.4" y="680.6" width="11" height="10.2" fill="#2fcf12"/>
<text x="540.2" y="689.4" font-size="9.6" font-weight="700" textLength="40.2" lengthAdjust="spacingAndGlyphs">Low Risk</text>
<rect x="617.8" y="680.6" width="11" height="10.2" fill="#b81404"/>
<text x="631.6" y="689.4" font-size="9.6" font-weight="700" textLength="42.6" lengthAdjust="spacingAndGlyphs">High Risk</text>
<text x="-1" y="718" font-size="29.3" font-weight="700">D</text>
<text x="75.6" y="719.4" font-size="19" font-weight="700" textLength="152" lengthAdjust="spacingAndGlyphs">Hypoxia signature</text>
<text x="76.9" y="741.6" font-size="7.4" font-weight="700" text-anchor="end">Risk Category</text>
<rect x="80.4" y="736.1" width="6" height="5.8" fill="#c40404"/>
<rect x="87.39" y="736.1" width="6" height="5.8" fill="#c40404"/>
<rect x="94.38" y="736.1" width="6" height="5.8" fill="#12c412"/>
<rect x="101.38" y="736.1" width="6" height="5.8" fill="#c40404"/>
<rect x="108.37" y="736.1" width="6" height="5.8" fill="#c40404"/>
<rect x="115.36" y="736.1" width="6" height="5.8" fill="#c40404"/>
<rect x="122.35" y="736.1" width="6" height="5.8" fill="#c40404"/>
<rect x="129.35" y="736.1" width="6" height="5.8" fill="#c40404"/>
<rect x="136.34" y="736.1" width="6" height="5.8" fill="#12c412"/>
<rect x="143.33" y="736.1" width="6" height="5.8" fill="#c40404"/>
<rect x="150.33" y="736.1" width="6" height="5.8" fill="#c40404"/>
<rect x="157.32" y="736.1" width="6" height="5.8" fill="#12c412"/>
<rect x="164.31" y="736.1" width="6" height="5.8" fill="#c40404"/>
<rect x="171.31" y="736.1" width="6" height="5.8" fill="#12c412"/>
<rect x="178.3" y="736.1" width="6" height="5.8" fill="#12c412"/>
<rect x="185.29" y="736.1" width="6" height="5.8" fill="#12c412"/>
<rect x="192.28" y="736.1" width="6" height="5.8" fill="#12c412"/>
<rect x="199.28" y="736.1" width="6" height="5.8" fill="#12c412"/>
<rect x="206.27" y="736.1" width="6" height="5.8" fill="#12c412"/>
<rect x="213.26" y="736.1" width="6" height="5.8" fill="#c40404"/>
<rect x="220.26" y="736.1" width="6" height="5.8" fill="#12c412"/>
<rect x="227.25" y="736.1" width="6" height="5.8" fill="#12c412"/>
<rect x="234.24" y="736.1" width="6" height="5.8" fill="#12c412"/>
<rect x="241.24" y="736.1" width="6" height="5.8" fill="#c40404"/>
<rect x="248.23" y="736.1" width="6" height="5.8" fill="#12c412"/>
<rect x="255.22" y="736.1" width="6" height="5.8" fill="#c40404"/>
<rect x="262.21" y="736.1" width="6" height="5.8" fill="#12c412"/>
<rect x="269.21" y="736.1" width="6" height="5.8" fill="#c40404"/>
<rect x="276.2" y="736.1" width="6" height="5.8" fill="#c40404"/>
<rect x="283.19" y="736.1" width="6" height="5.8" fill="#c40404"/>
<rect x="290.19" y="736.1" width="6" height="5.8" fill="#c40404"/>
<rect x="297.18" y="736.1" width="6" height="5.8" fill="#12c412"/>
<rect x="304.17" y="736.1" width="6" height="5.8" fill="#12c412"/>
<rect x="311.17" y="736.1" width="6" height="5.8" fill="#c40404"/>
<rect x="318.16" y="736.1" width="6" height="5.8" fill="#12c412"/>
<rect x="325.15" y="736.1" width="6" height="5.8" fill="#12c412"/>
<rect x="332.14" y="736.1" width="6" height="5.8" fill="#c40404"/>
<rect x="339.14" y="736.1" width="6" height="5.8" fill="#c40404"/>
<rect x="346.13" y="736.1" width="6" height="5.8" fill="#c40404"/>
<rect x="353.12" y="736.1" width="6" height="5.8" fill="#c40404"/>
<rect x="360.12" y="736.1" width="6" height="5.8" fill="#c40404"/>
<rect x="367.11" y="736.1" width="6" height="5.8" fill="#12c412"/>
<rect x="374.1" y="736.1" width="6" height="5.8" fill="#12c412"/>
<rect x="381.1" y="736.1" width="6" height="5.8" fill="#12c412"/>
<rect x="388.09" y="736.1" width="6" height="5.8" fill="#12c412"/>
<rect x="395.08" y="736.1" width="6" height="5.8" fill="#12c412"/>
<rect x="402.07" y="736.1" width="6" height="5.8" fill="#12c412"/>
<rect x="409.07" y="736.1" width="6" height="5.8" fill="#c40404"/>
<rect x="416.06" y="736.1" width="6" height="5.8" fill="#12c412"/>
<rect x="423.05" y="736.1" width="6" height="5.8" fill="#12c412"/>
<rect x="430.05" y="736.1" width="6" height="5.8" fill="#12c412"/>
<rect x="437.04" y="736.1" width="6" height="5.8" fill="#12c412"/>
<rect x="444.03" y="736.1" width="6" height="5.8" fill="#12c412"/>
<rect x="451.03" y="736.1" width="6" height="5.8" fill="#12c412"/>
<rect x="458.02" y="736.1" width="6" height="5.8" fill="#12c412"/>
<rect x="465.01" y="736.1" width="6" height="5.8" fill="#12c412"/>
<rect x="472" y="736.1" width="6" height="5.8" fill="#12c412"/>
<rect x="479" y="736.1" width="6" height="5.8" fill="#c40404"/>
<rect x="485.99" y="736.1" width="6" height="5.8" fill="#12c412"/>
<rect x="492.98" y="736.1" width="6" height="5.8" fill="#c40404"/>
<rect x="499.98" y="736.1" width="6" height="5.8" fill="#12c412"/>
<rect x="506.97" y="736.1" width="6" height="5.8" fill="#12c412"/>
<rect x="513.96" y="736.1" width="6" height="5.8" fill="#c40404"/>
<rect x="520.96" y="736.1" width="6" height="5.8" fill="#c40404"/>
<rect x="527.95" y="736.1" width="6" height="5.8" fill="#12c412"/>
<rect x="534.94" y="736.1" width="6" height="5.8" fill="#c40404"/>
<rect x="541.93" y="736.1" width="6" height="5.8" fill="#c40404"/>
<rect x="548.93" y="736.1" width="6" height="5.8" fill="#c40404"/>
<rect x="555.92" y="736.1" width="6" height="5.8" fill="#c40404"/>
<rect x="562.91" y="736.1" width="6" height="5.8" fill="#c40404"/>
<rect x="569.91" y="736.1" width="6" height="5.8" fill="#c40404"/>
<rect x="576.9" y="736.1" width="6" height="5.8" fill="#c40404"/>
<rect x="583.89" y="736.1" width="6" height="5.8" fill="#c40404"/>
<rect x="590.89" y="736.1" width="6" height="5.8" fill="#c40404"/>
<rect x="597.88" y="736.1" width="6" height="5.8" fill="#c40404"/>
<rect x="604.87" y="736.1" width="6" height="5.8" fill="#c40404"/>
<rect x="611.86" y="736.1" width="6" height="5.8" fill="#c40404"/>
<rect x="618.86" y="736.1" width="6" height="5.8" fill="#c40404"/>
<rect x="625.85" y="736.1" width="6" height="5.8" fill="#c40404"/>
<rect x="632.84" y="736.1" width="6" height="5.8" fill="#c40404"/>
<rect x="639.84" y="736.1" width="6" height="5.8" fill="#c40404"/>
<rect x="646.83" y="736.1" width="6" height="5.8" fill="#c40404"/>
<rect x="653.82" y="736.1" width="6" height="5.8" fill="#c40404"/>
<rect x="660.82" y="736.1" width="6" height="5.8" fill="#c40404"/>
<rect x="667.81" y="736.1" width="6" height="5.8" fill="#c40404"/>
<rect x="674.8" y="736.1" width="6" height="5.8" fill="#c40404"/>
<rect x="681.79" y="736.1" width="6" height="5.8" fill="#c40404"/>
<rect x="688.79" y="736.1" width="6" height="5.8" fill="#c40404"/>
<rect x="695.78" y="736.1" width="6" height="5.8" fill="#c40404"/>
<rect x="702.77" y="736.1" width="6" height="5.8" fill="#c40404"/>
<rect x="709.77" y="736.1" width="6" height="5.8" fill="#12c412"/>
<rect x="716.76" y="736.1" width="6" height="5.8" fill="#12c412"/>
<rect x="723.75" y="736.1" width="6" height="5.8" fill="#c40404"/>
<rect x="730.75" y="736.1" width="6" height="5.8" fill="#c40404"/>
<rect x="737.74" y="736.1" width="6" height="5.8" fill="#12c412"/>
<rect x="744.73" y="736.1" width="6" height="5.8" fill="#c40404"/>
<rect x="79.9" y="748" width="671.33" height="112.9" fill="#565656"/>
<path d="M80.2 748.3h6.39v5.67h-6.39zM108.17 748.3h6.39v5.67h-6.39zM150.13 748.3h6.39v5.67h-6.39zM241.04 748.3h6.39v5.67h-6.39zM248.03 748.3h6.39v5.67h-6.39zM303.98 748.3h6.39v5.67h-6.39zM331.95 748.3h6.39v5.67h-6.39zM338.94 748.3h6.39v5.67h-6.39zM408.87 748.3h6.39v5.67h-6.39zM429.85 748.3h6.39v5.67h-6.39zM450.83 748.3h6.39v5.67h-6.39zM464.81 748.3h6.39v5.67h-6.39zM471.81 748.3h6.39v5.67h-6.39zM478.8 748.3h6.39v5.67h-6.39zM485.79 748.3h6.39v5.67h-6.39zM513.77 748.3h6.39v5.67h-6.39zM520.76 748.3h6.39v5.67h-6.39zM541.74 748.3h6.39v5.67h-6.39zM639.64 748.3h6.39v5.67h-6.39zM646.63 748.3h6.39v5.67h-6.39zM688.59 748.3h6.39v5.67h-6.39zM80.2 754.57h6.39v5.67h-6.39zM94.19 754.57h6.39v5.67h-6.39zM276 754.57h6.39v5.67h-6.39zM283 754.57h6.39v5.67h-6.39zM289.99 754.57h6.39v5.67h-6.39zM296.98 754.57h6.39v5.67h-6.39zM303.98 754.57h6.39v5.67h-6.39zM331.95 754.57h6.39v5.67h-6.39zM366.91 754.57h6.39v5.67h-6.39zM380.9 754.57h6.39v5.67h-6.39zM387.89 754.57h6.39v5.67h-6.39zM408.87 754.57h6.39v5.67h-6.39zM450.83 754.57h6.39v5.67h-6.39zM464.81 754.57h6.39v5.67h-6.39zM478.8 754.57h6.39v5.67h-6.39zM485.79 754.57h6.39v5.67h-6.39zM562.72 754.57h6.39v5.67h-6.39zM115.17 760.84h6.39v5.67h-6.39zM122.16 760.84h6.39v5.67h-6.39zM136.14 760.84h6.39v5.67h-6.39zM157.12 760.84h6.39v5.67h-6.39zM289.99 760.84h6.39v5.67h-6.39zM331.95 760.84h6.39v5.67h-6.39zM338.94 760.84h6.39v5.67h-6.39zM345.93 760.84h6.39v5.67h-6.39zM352.93 760.84h6.39v5.67h-6.39zM373.91 760.84h6.39v5.67h-6.39zM387.89 760.84h6.39v5.67h-6.39zM394.89 760.84h6.39v5.67h-6.39zM401.88 760.84h6.39v5.67h-6.39zM408.87 760.84h6.39v5.67h-6.39zM436.84 760.84h6.39v5.67h-6.39zM450.83 760.84h6.39v5.67h-6.39zM457.82 760.84h6.39v5.67h-6.39zM464.81 760.84h6.39v5.67h-6.39zM471.81 760.84h6.39v5.67h-6.39zM478.8 760.84h6.39v5.67h-6.39zM485.79 760.84h6.39v5.67h-6.39zM527.75 760.84h6.39v5.67h-6.39zM576.7 760.84h6.39v5.67h-6.39zM583.7 760.84h6.39v5.67h-6.39zM618.66 760.84h6.39v5.67h-6.39zM639.64 760.84h6.39v5.67h-6.39zM744.53 760.84h6.39v5.67h-6.39zM87.19 767.12h6.39v5.67h-6.39zM101.18 767.12h6.39v5.67h-6.39zM227.05 767.12h6.39v5.67h-6.39zM234.05 767.12h6.39v5.67h-6.39zM248.03 767.12h6.39v5.67h-6.39zM317.96 767.12h6.39v5.67h-6.39zM324.96 767.12h6.39v5.67h-6.39zM331.95 767.12h6.39v5.67h-6.39zM338.94 767.12h6.39v5.67h-6.39zM366.91 767.12h6.39v5.67h-6.39zM408.87 767.12h6.39v5.67h-6.39zM415.86 767.12h6.39v5.67h-6.39zM429.85 767.12h6.39v5.67h-6.39zM541.74 767.12h6.39v5.67h-6.39zM590.69 767.12h6.39v5.67h-6.39zM639.64 767.12h6.39v5.67h-6.39zM653.63 767.12h6.39v5.67h-6.39zM101.18 773.39h6.39v5.67h-6.39zM129.15 773.39h6.39v5.67h-6.39zM143.14 773.39h6.39v5.67h-6.39zM150.13 773.39h6.39v5.67h-6.39zM164.12 773.39h6.39v5.67h-6.39zM185.1 773.39h6.39v5.67h-6.39zM206.07 773.39h6.39v5.67h-6.39zM248.03 773.39h6.39v5.67h-6.39zM255.03 773.39h6.39v5.67h-6.39zM276 773.39h6.39v5.67h-6.39zM296.98 773.39h6.39v5.67h-6.39zM303.98 773.39h6.39v5.67h-6.39zM310.97 773.39h6.39v5.67h-6.39zM317.96 773.39h6.39v5.67h-6.39zM366.91 773.39h6.39v5.67h-6.39zM415.86 773.39h6.39v5.67h-6.39zM457.82 773.39h6.39v5.67h-6.39zM464.81 773.39h6.39v5.67h-6.39zM471.81 773.39h6.39v5.67h-6.39zM499.78 773.39h6.39v5.67h-6.39zM541.74 773.39h6.39v5.67h-6.39zM562.72 773.39h6.39v5.67h-6.39zM576.7 773.39h6.39v5.67h-6.39zM625.65 773.39h6.39v5.67h-6.39zM632.65 773.39h6.39v5.67h-6.39zM646.63 773.39h6.39v5.67h-6.39zM653.63 773.39h6.39v5.67h-6.39zM660.62 773.39h6.39v5.67h-6.39zM136.14 779.66h6.39v5.67h-6.39zM178.1 779.66h6.39v5.67h-6.39zM185.1 779.66h6.39v5.67h-6.39zM192.09 779.66h6.39v5.67h-6.39zM276 779.66h6.39v5.67h-6.39zM289.99 779.66h6.39v5.67h-6.39zM310.97 779.66h6.39v5.67h-6.39zM331.95 779.66h6.39v5.67h-6.39zM338.94 779.66h6.39v5.67h-6.39zM345.93 779.66h6.39v5.67h-6.39zM352.93 779.66h6.39v5.67h-6.39zM380.9 779.66h6.39v5.67h-6.39zM387.89 779.66h6.39v5.67h-6.39zM429.85 779.66h6.39v5.67h-6.39zM443.84 779.66h6.39v5.67h-6.39zM450.83 779.66h6.39v5.67h-6.39zM464.81 779.66h6.39v5.67h-6.39zM492.79 779.66h6.39v5.67h-6.39zM499.78 779.66h6.39v5.67h-6.39zM506.77 779.66h6.39v5.67h-6.39zM590.69 779.66h6.39v5.67h-6.39zM716.56 779.66h6.39v5.67h-6.39zM730.55 779.66h6.39v5.67h-6.39zM115.17 785.93h6.39v5.67h-6.39zM122.16 785.93h6.39v5.67h-6.39zM143.14 785.93h6.39v5.67h-6.39zM248.03 785.93h6.39v5.67h-6.39zM262.02 785.93h6.39v5.67h-6.39zM303.98 785.93h6.39v5.67h-6.39zM331.95 785.93h6.39v5.67h-6.39zM338.94 785.93h6.39v5.67h-6.39zM366.91 785.93h6.39v5.67h-6.39zM373.91 785.93h6.39v5.67h-6.39zM450.83 785.93h6.39v5.67h-6.39zM485.79 785.93h6.39v5.67h-6.39zM492.79 785.93h6.39v5.67h-6.39zM513.77 785.93h6.39v5.67h-6.39zM576.7 785.93h6.39v5.67h-6.39zM583.7 785.93h6.39v5.67h-6.39zM744.53 785.93h6.39v5.67h-6.39zM87.19 792.2h6.39v5.67h-6.39zM108.17 792.2h6.39v5.67h-6.39zM115.17 792.2h6.39v5.67h-6.39zM129.15 792.2h6.39v5.67h-6.39zM157.12 792.2h6.39v5.67h-6.39zM359.92 792.2h6.39v5.67h-6.39zM366.91 792.2h6.39v5.67h-6.39zM415.86 792.2h6.39v5.67h-6.39zM429.85 792.2h6.39v5.67h-6.39zM443.84 792.2h6.39v5.67h-6.39zM450.83 792.2h6.39v5.67h-6.39zM541.74 792.2h6.39v5.67h-6.39zM590.69 792.2h6.39v5.67h-6.39zM723.56 792.2h6.39v5.67h-6.39zM101.18 798.48h6.39v5.67h-6.39zM115.17 798.48h6.39v5.67h-6.39zM122.16 798.48h6.39v5.67h-6.39zM143.14 798.48h6.39v5.67h-6.39zM157.12 798.48h6.39v5.67h-6.39zM171.11 798.48h6.39v5.67h-6.39zM199.08 798.48h6.39v5.67h-6.39zM241.04 798.48h6.39v5.67h-6.39zM269.01 798.48h6.39v5.67h-6.39zM283 798.48h6.39v5.67h-6.39zM310.97 798.48h6.39v5.67h-6.39zM324.96 798.48h6.39v5.67h-6.39zM366.91 798.48h6.39v5.67h-6.39zM380.9 798.48h6.39v5.67h-6.39zM387.89 798.48h6.39v5.67h-6.39zM401.88 798.48h6.39v5.67h-6.39zM408.87 798.48h6.39v5.67h-6.39zM415.86 798.48h6.39v5.67h-6.39zM422.86 798.48h6.39v5.67h-6.39zM429.85 798.48h6.39v5.67h-6.39zM436.84 798.48h6.39v5.67h-6.39zM443.84 798.48h6.39v5.67h-6.39zM450.83 798.48h6.39v5.67h-6.39zM457.82 798.48h6.39v5.67h-6.39zM478.8 798.48h6.39v5.67h-6.39zM485.79 798.48h6.39v5.67h-6.39zM499.78 798.48h6.39v5.67h-6.39zM534.75 798.48h6.39v5.67h-6.39zM562.72 798.48h6.39v5.67h-6.39zM80.2 804.75h6.39v5.67h-6.39zM101.18 804.75h6.39v5.67h-6.39zM115.17 804.75h6.39v5.67h-6.39zM143.14 804.75h6.39v5.67h-6.39zM157.12 804.75h6.39v5.67h-6.39zM178.1 804.75h6.39v5.67h-6.39zM199.08 804.75h6.39v5.67h-6.39zM227.05 804.75h6.39v5.67h-6.39zM283 804.75h6.39v5.67h-6.39zM289.99 804.75h6.39v5.67h-6.39zM310.97 804.75h6.39v5.67h-6.39zM317.96 804.75h6.39v5.67h-6.39zM338.94 804.75h6.39v5.67h-6.39zM366.91 804.75h6.39v5.67h-6.39zM373.91 804.75h6.39v5.67h-6.39zM387.89 804.75h6.39v5.67h-6.39zM408.87 804.75h6.39v5.67h-6.39zM436.84 804.75h6.39v5.67h-6.39zM457.82 804.75h6.39v5.67h-6.39zM471.81 804.75h6.39v5.67h-6.39zM492.79 804.75h6.39v5.67h-6.39zM506.77 804.75h6.39v5.67h-6.39zM513.77 804.75h6.39v5.67h-6.39zM520.76 804.75h6.39v5.67h-6.39zM534.75 804.75h6.39v5.67h-6.39zM80.2 811.02h6.39v5.67h-6.39zM87.19 811.02h6.39v5.67h-6.39zM108.17 811.02h6.39v5.67h-6.39zM115.17 811.02h6.39v5.67h-6.39zM129.15 811.02h6.39v5.67h-6.39zM185.1 811.02h6.39v5.67h-6.39zM199.08 811.02h6.39v5.67h-6.39zM227.05 811.02h6.39v5.67h-6.39zM234.05 811.02h6.39v5.67h-6.39zM248.03 811.02h6.39v5.67h-6.39zM269.01 811.02h6.39v5.67h-6.39zM276 811.02h6.39v5.67h-6.39zM317.96 811.02h6.39v5.67h-6.39zM338.94 811.02h6.39v5.67h-6.39zM352.93 811.02h6.39v5.67h-6.39zM380.9 811.02h6.39v5.67h-6.39zM387.89 811.02h6.39v5.67h-6.39zM450.83 811.02h6.39v5.67h-6.39zM499.78 811.02h6.39v5.67h-6.39zM506.77 811.02h6.39v5.67h-6.39zM513.77 811.02h6.39v5.67h-6.39zM520.76 811.02h6.39v5.67h-6.39zM527.75 811.02h6.39v5.67h-6.39zM632.65 811.02h6.39v5.67h-6.39zM695.58 811.02h6.39v5.67h-6.39zM122.16 817.29h6.39v5.67h-6.39zM171.11 817.29h6.39v5.67h-6.39zM206.07 817.29h6.39v5.67h-6.39zM269.01 817.29h6.39v5.67h-6.39zM276 817.29h6.39v5.67h-6.39zM324.96 817.29h6.39v5.67h-6.39zM331.95 817.29h6.39v5.67h-6.39zM387.89 817.29h6.39v5.67h-6.39zM429.85 817.29h6.39v5.67h-6.39zM443.84 817.29h6.39v5.67h-6.39zM464.81 817.29h6.39v5.67h-6.39zM513.77 817.29h6.39v5.67h-6.39zM520.76 817.29h6.39v5.67h-6.39zM527.75 817.29h6.39v5.67h-6.39zM562.72 817.29h6.39v5.67h-6.39zM80.2 823.56h6.39v5.67h-6.39zM136.14 823.56h6.39v5.67h-6.39zM269.01 823.56h6.39v5.67h-6.39zM303.98 823.56h6.39v5.67h-6.39zM366.91 823.56h6.39v5.67h-6.39zM387.89 823.56h6.39v5.67h-6.39zM450.83 823.56h6.39v5.67h-6.39zM471.81 823.56h6.39v5.67h-6.39zM506.77 823.56h6.39v5.67h-6.39zM513.77 823.56h6.39v5.67h-6.39zM520.76 823.56h6.39v5.67h-6.39zM527.75 823.56h6.39v5.67h-6.39zM80.2 829.84h6.39v5.67h-6.39zM150.13 829.84h6.39v5.67h-6.39zM248.03 829.84h6.39v5.67h-6.39zM255.03 829.84h6.39v5.67h-6.39zM276 829.84h6.39v5.67h-6.39zM289.99 829.84h6.39v5.67h-6.39zM317.96 829.84h6.39v5.67h-6.39zM324.96 829.84h6.39v5.67h-6.39zM366.91 829.84h6.39v5.67h-6.39zM408.87 829.84h6.39v5.67h-6.39zM415.86 829.84h6.39v5.67h-6.39zM422.86 829.84h6.39v5.67h-6.39zM457.82 829.84h6.39v5.67h-6.39zM464.81 829.84h6.39v5.67h-6.39zM478.8 829.84h6.39v5.67h-6.39zM492.79 829.84h6.39v5.67h-6.39zM506.77 829.84h6.39v5.67h-6.39zM513.77 829.84h6.39v5.67h-6.39zM520.76 829.84h6.39v5.67h-6.39zM527.75 829.84h6.39v5.67h-6.39zM576.7 829.84h6.39v5.67h-6.39zM639.64 829.84h6.39v5.67h-6.39zM653.63 829.84h6.39v5.67h-6.39zM94.19 836.11h6.39v5.67h-6.39zM143.14 836.11h6.39v5.67h-6.39zM171.11 836.11h6.39v5.67h-6.39zM213.07 836.11h6.39v5.67h-6.39zM220.06 836.11h6.39v5.67h-6.39zM234.05 836.11h6.39v5.67h-6.39zM248.03 836.11h6.39v5.67h-6.39zM283 836.11h6.39v5.67h-6.39zM289.99 836.11h6.39v5.67h-6.39zM310.97 836.11h6.39v5.67h-6.39zM331.95 836.11h6.39v5.67h-6.39zM338.94 836.11h6.39v5.67h-6.39zM366.91 836.11h6.39v5.67h-6.39zM380.9 836.11h6.39v5.67h-6.39zM394.89 836.11h6.39v5.67h-6.39zM415.86 836.11h6.39v5.67h-6.39zM429.85 836.11h6.39v5.67h-6.39zM464.81 836.11h6.39v5.67h-6.39zM471.81 836.11h6.39v5.67h-6.39zM499.78 836.11h6.39v5.67h-6.39zM506.77 836.11h6.39v5.67h-6.39zM513.77 836.11h6.39v5.67h-6.39zM520.76 836.11h6.39v5.67h-6.39zM583.7 836.11h6.39v5.67h-6.39zM87.19 842.38h6.39v5.67h-6.39zM136.14 842.38h6.39v5.67h-6.39zM157.12 842.38h6.39v5.67h-6.39zM164.12 842.38h6.39v5.67h-6.39zM241.04 842.38h6.39v5.67h-6.39zM248.03 842.38h6.39v5.67h-6.39zM262.02 842.38h6.39v5.67h-6.39zM269.01 842.38h6.39v5.67h-6.39zM303.98 842.38h6.39v5.67h-6.39zM324.96 842.38h6.39v5.67h-6.39zM331.95 842.38h6.39v5.67h-6.39zM352.93 842.38h6.39v5.67h-6.39zM380.9 842.38h6.39v5.67h-6.39zM401.88 842.38h6.39v5.67h-6.39zM450.83 842.38h6.39v5.67h-6.39zM464.81 842.38h6.39v5.67h-6.39zM478.8 842.38h6.39v5.67h-6.39zM492.79 842.38h6.39v5.67h-6.39zM499.78 842.38h6.39v5.67h-6.39zM506.77 842.38h6.39v5.67h-6.39zM513.77 842.38h6.39v5.67h-6.39zM527.75 842.38h6.39v5.67h-6.39zM737.54 842.38h6.39v5.67h-6.39zM122.16 848.65h6.39v5.67h-6.39zM136.14 848.65h6.39v5.67h-6.39zM143.14 848.65h6.39v5.67h-6.39zM150.13 848.65h6.39v5.67h-6.39zM262.02 848.65h6.39v5.67h-6.39zM269.01 848.65h6.39v5.67h-6.39zM303.98 848.65h6.39v5.67h-6.39zM317.96 848.65h6.39v5.67h-6.39zM324.96 848.65h6.39v5.67h-6.39zM345.93 848.65h6.39v5.67h-6.39zM380.9 848.65h6.39v5.67h-6.39zM401.88 848.65h6.39v5.67h-6.39zM422.86 848.65h6.39v5.67h-6.39zM429.85 848.65h6.39v5.67h-6.39zM457.82 848.65h6.39v5.67h-6.39zM471.81 848.65h6.39v5.67h-6.39zM485.79 848.65h6.39v5.67h-6.39zM499.78 848.65h6.39v5.67h-6.39zM506.77 848.65h6.39v5.67h-6.39zM513.77 848.65h6.39v5.67h-6.39zM674.6 848.65h6.39v5.67h-6.39zM723.56 848.65h6.39v5.67h-6.39zM730.55 848.65h6.39v5.67h-6.39zM744.53 848.65h6.39v5.67h-6.39zM80.2 854.92h6.39v5.67h-6.39zM94.19 854.92h6.39v5.67h-6.39zM115.17 854.92h6.39v5.67h-6.39zM129.15 854.92h6.39v5.67h-6.39zM269.01 854.92h6.39v5.67h-6.39zM276 854.92h6.39v5.67h-6.39zM345.93 854.92h6.39v5.67h-6.39zM408.87 854.92h6.39v5.67h-6.39zM415.86 854.92h6.39v5.67h-6.39zM422.86 854.92h6.39v5.67h-6.39zM429.85 854.92h6.39v5.67h-6.39zM436.84 854.92h6.39v5.67h-6.39zM457.82 854.92h6.39v5.67h-6.39zM464.81 854.92h6.39v5.67h-6.39zM471.81 854.92h6.39v5.67h-6.39zM478.8 854.92h6.39v5.67h-6.39zM485.79 854.92h6.39v5.67h-6.39zM492.79 854.92h6.39v5.67h-6.39zM499.78 854.92h6.39v5.67h-6.39zM506.77 854.92h6.39v5.67h-6.39zM513.77 854.92h6.39v5.67h-6.39zM520.76 854.92h6.39v5.67h-6.39z" fill="#380000"/>
<path d="M87.19 748.3h6.39v5.67h-6.39zM115.17 748.3h6.39v5.67h-6.39zM178.1 748.3h6.39v5.67h-6.39zM185.1 748.3h6.39v5.67h-6.39zM206.07 748.3h6.39v5.67h-6.39zM255.03 748.3h6.39v5.67h-6.39zM262.02 748.3h6.39v5.67h-6.39zM345.93 748.3h6.39v5.67h-6.39zM352.93 748.3h6.39v5.67h-6.39zM492.79 748.3h6.39v5.67h-6.39zM506.77 748.3h6.39v5.67h-6.39zM604.67 748.3h6.39v5.67h-6.39zM618.66 748.3h6.39v5.67h-6.39zM667.61 748.3h6.39v5.67h-6.39zM674.6 748.3h6.39v5.67h-6.39zM723.56 748.3h6.39v5.67h-6.39zM101.18 754.57h6.39v5.67h-6.39zM115.17 754.57h6.39v5.67h-6.39zM150.13 754.57h6.39v5.67h-6.39zM269.01 754.57h6.39v5.67h-6.39zM310.97 754.57h6.39v5.67h-6.39zM338.94 754.57h6.39v5.67h-6.39zM345.93 754.57h6.39v5.67h-6.39zM394.89 754.57h6.39v5.67h-6.39zM401.88 754.57h6.39v5.67h-6.39zM415.86 754.57h6.39v5.67h-6.39zM422.86 754.57h6.39v5.67h-6.39zM429.85 754.57h6.39v5.67h-6.39zM436.84 754.57h6.39v5.67h-6.39zM457.82 754.57h6.39v5.67h-6.39zM471.81 754.57h6.39v5.67h-6.39zM506.77 754.57h6.39v5.67h-6.39zM520.76 754.57h6.39v5.67h-6.39zM527.75 754.57h6.39v5.67h-6.39zM534.75 754.57h6.39v5.67h-6.39zM569.71 754.57h6.39v5.67h-6.39zM94.19 760.84h6.39v5.67h-6.39zM143.14 760.84h6.39v5.67h-6.39zM164.12 760.84h6.39v5.67h-6.39zM192.09 760.84h6.39v5.67h-6.39zM227.05 760.84h6.39v5.67h-6.39zM234.05 760.84h6.39v5.67h-6.39zM241.04 760.84h6.39v5.67h-6.39zM296.98 760.84h6.39v5.67h-6.39zM303.98 760.84h6.39v5.67h-6.39zM443.84 760.84h6.39v5.67h-6.39zM513.77 760.84h6.39v5.67h-6.39zM534.75 760.84h6.39v5.67h-6.39zM548.73 760.84h6.39v5.67h-6.39zM555.72 760.84h6.39v5.67h-6.39zM597.68 760.84h6.39v5.67h-6.39zM625.65 760.84h6.39v5.67h-6.39zM646.63 760.84h6.39v5.67h-6.39zM653.63 760.84h6.39v5.67h-6.39zM94.19 767.12h6.39v5.67h-6.39zM136.14 767.12h6.39v5.67h-6.39zM164.12 767.12h6.39v5.67h-6.39zM199.08 767.12h6.39v5.67h-6.39zM206.07 767.12h6.39v5.67h-6.39zM213.07 767.12h6.39v5.67h-6.39zM255.03 767.12h6.39v5.67h-6.39zM262.02 767.12h6.39v5.67h-6.39zM296.98 767.12h6.39v5.67h-6.39zM499.78 767.12h6.39v5.67h-6.39zM506.77 767.12h6.39v5.67h-6.39zM520.76 767.12h6.39v5.67h-6.39zM527.75 767.12h6.39v5.67h-6.39zM548.73 767.12h6.39v5.67h-6.39zM555.72 767.12h6.39v5.67h-6.39zM562.72 767.12h6.39v5.67h-6.39zM569.71 767.12h6.39v5.67h-6.39zM576.7 767.12h6.39v5.67h-6.39zM597.68 767.12h6.39v5.67h-6.39zM604.67 767.12h6.39v5.67h-6.39zM625.65 767.12h6.39v5.67h-6.39zM632.65 767.12h6.39v5.67h-6.39zM646.63 767.12h6.39v5.67h-6.39zM674.6 767.12h6.39v5.67h-6.39zM681.6 767.12h6.39v5.67h-6.39zM688.59 767.12h6.39v5.67h-6.39zM695.58 767.12h6.39v5.67h-6.39zM716.56 767.12h6.39v5.67h-6.39zM80.2 773.39h6.39v5.67h-6.39zM122.16 773.39h6.39v5.67h-6.39zM192.09 773.39h6.39v5.67h-6.39zM213.07 773.39h6.39v5.67h-6.39zM220.06 773.39h6.39v5.67h-6.39zM241.04 773.39h6.39v5.67h-6.39zM289.99 773.39h6.39v5.67h-6.39zM345.93 773.39h6.39v5.67h-6.39zM352.93 773.39h6.39v5.67h-6.39zM359.92 773.39h6.39v5.67h-6.39zM408.87 773.39h6.39v5.67h-6.39zM520.76 773.39h6.39v5.67h-6.39zM527.75 773.39h6.39v5.67h-6.39zM597.68 773.39h6.39v5.67h-6.39zM604.67 773.39h6.39v5.67h-6.39zM618.66 773.39h6.39v5.67h-6.39zM674.6 773.39h6.39v5.67h-6.39zM723.56 773.39h6.39v5.67h-6.39zM122.16 779.66h6.39v5.67h-6.39zM164.12 779.66h6.39v5.67h-6.39zM199.08 779.66h6.39v5.67h-6.39zM206.07 779.66h6.39v5.67h-6.39zM213.07 779.66h6.39v5.67h-6.39zM241.04 779.66h6.39v5.67h-6.39zM248.03 779.66h6.39v5.67h-6.39zM255.03 779.66h6.39v5.67h-6.39zM324.96 779.66h6.39v5.67h-6.39zM485.79 779.66h6.39v5.67h-6.39zM604.67 779.66h6.39v5.67h-6.39zM618.66 779.66h6.39v5.67h-6.39zM653.63 779.66h6.39v5.67h-6.39zM667.61 779.66h6.39v5.67h-6.39zM681.6 779.66h6.39v5.67h-6.39zM702.58 779.66h6.39v5.67h-6.39zM709.57 779.66h6.39v5.67h-6.39zM164.12 785.93h6.39v5.67h-6.39zM192.09 785.93h6.39v5.67h-6.39zM206.07 785.93h6.39v5.67h-6.39zM220.06 785.93h6.39v5.67h-6.39zM324.96 785.93h6.39v5.67h-6.39zM345.93 785.93h6.39v5.67h-6.39zM352.93 785.93h6.39v5.67h-6.39zM408.87 785.93h6.39v5.67h-6.39zM415.86 785.93h6.39v5.67h-6.39zM436.84 785.93h6.39v5.67h-6.39zM499.78 785.93h6.39v5.67h-6.39zM506.77 785.93h6.39v5.67h-6.39zM520.76 785.93h6.39v5.67h-6.39zM548.73 785.93h6.39v5.67h-6.39zM625.65 785.93h6.39v5.67h-6.39zM639.64 785.93h6.39v5.67h-6.39zM646.63 785.93h6.39v5.67h-6.39zM660.62 785.93h6.39v5.67h-6.39zM702.58 785.93h6.39v5.67h-6.39zM716.56 785.93h6.39v5.67h-6.39zM94.19 792.2h6.39v5.67h-6.39zM101.18 792.2h6.39v5.67h-6.39zM143.14 792.2h6.39v5.67h-6.39zM150.13 792.2h6.39v5.67h-6.39zM171.11 792.2h6.39v5.67h-6.39zM178.1 792.2h6.39v5.67h-6.39zM213.07 792.2h6.39v5.67h-6.39zM220.06 792.2h6.39v5.67h-6.39zM241.04 792.2h6.39v5.67h-6.39zM248.03 792.2h6.39v5.67h-6.39zM310.97 792.2h6.39v5.67h-6.39zM324.96 792.2h6.39v5.67h-6.39zM345.93 792.2h6.39v5.67h-6.39zM352.93 792.2h6.39v5.67h-6.39zM373.91 792.2h6.39v5.67h-6.39zM394.89 792.2h6.39v5.67h-6.39zM401.88 792.2h6.39v5.67h-6.39zM408.87 792.2h6.39v5.67h-6.39zM422.86 792.2h6.39v5.67h-6.39zM618.66 792.2h6.39v5.67h-6.39zM625.65 792.2h6.39v5.67h-6.39zM639.64 792.2h6.39v5.67h-6.39zM653.63 792.2h6.39v5.67h-6.39zM695.58 792.2h6.39v5.67h-6.39zM87.19 798.48h6.39v5.67h-6.39zM94.19 798.48h6.39v5.67h-6.39zM178.1 798.48h6.39v5.67h-6.39zM206.07 798.48h6.39v5.67h-6.39zM220.06 798.48h6.39v5.67h-6.39zM227.05 798.48h6.39v5.67h-6.39zM248.03 798.48h6.39v5.67h-6.39zM262.02 798.48h6.39v5.67h-6.39zM359.92 798.48h6.39v5.67h-6.39zM520.76 798.48h6.39v5.67h-6.39zM527.75 798.48h6.39v5.67h-6.39zM541.74 798.48h6.39v5.67h-6.39zM576.7 798.48h6.39v5.67h-6.39zM618.66 798.48h6.39v5.67h-6.39zM625.65 798.48h6.39v5.67h-6.39zM639.64 798.48h6.39v5.67h-6.39zM660.62 798.48h6.39v5.67h-6.39zM716.56 798.48h6.39v5.67h-6.39zM737.54 798.48h6.39v5.67h-6.39zM171.11 804.75h6.39v5.67h-6.39zM192.09 804.75h6.39v5.67h-6.39zM220.06 804.75h6.39v5.67h-6.39zM234.05 804.75h6.39v5.67h-6.39zM255.03 804.75h6.39v5.67h-6.39zM345.93 804.75h6.39v5.67h-6.39zM562.72 804.75h6.39v5.67h-6.39zM583.7 804.75h6.39v5.67h-6.39zM604.67 804.75h6.39v5.67h-6.39zM625.65 804.75h6.39v5.67h-6.39zM639.64 804.75h6.39v5.67h-6.39zM646.63 804.75h6.39v5.67h-6.39zM667.61 804.75h6.39v5.67h-6.39zM716.56 804.75h6.39v5.67h-6.39zM192.09 811.02h6.39v5.67h-6.39zM213.07 811.02h6.39v5.67h-6.39zM220.06 811.02h6.39v5.67h-6.39zM241.04 811.02h6.39v5.67h-6.39zM359.92 811.02h6.39v5.67h-6.39zM555.72 811.02h6.39v5.67h-6.39zM625.65 811.02h6.39v5.67h-6.39zM660.62 811.02h6.39v5.67h-6.39zM87.19 817.29h6.39v5.67h-6.39zM164.12 817.29h6.39v5.67h-6.39zM199.08 817.29h6.39v5.67h-6.39zM213.07 817.29h6.39v5.67h-6.39zM220.06 817.29h6.39v5.67h-6.39zM227.05 817.29h6.39v5.67h-6.39zM234.05 817.29h6.39v5.67h-6.39zM241.04 817.29h6.39v5.67h-6.39zM248.03 817.29h6.39v5.67h-6.39zM317.96 817.29h6.39v5.67h-6.39zM450.83 817.29h6.39v5.67h-6.39zM618.66 817.29h6.39v5.67h-6.39zM625.65 817.29h6.39v5.67h-6.39zM632.65 817.29h6.39v5.67h-6.39zM653.63 817.29h6.39v5.67h-6.39zM695.58 817.29h6.39v5.67h-6.39zM150.13 823.56h6.39v5.67h-6.39zM157.12 823.56h6.39v5.67h-6.39zM185.1 823.56h6.39v5.67h-6.39zM192.09 823.56h6.39v5.67h-6.39zM206.07 823.56h6.39v5.67h-6.39zM220.06 823.56h6.39v5.67h-6.39zM234.05 823.56h6.39v5.67h-6.39zM241.04 823.56h6.39v5.67h-6.39zM248.03 823.56h6.39v5.67h-6.39zM255.03 823.56h6.39v5.67h-6.39zM262.02 823.56h6.39v5.67h-6.39zM338.94 823.56h6.39v5.67h-6.39zM352.93 823.56h6.39v5.67h-6.39zM429.85 823.56h6.39v5.67h-6.39zM569.71 823.56h6.39v5.67h-6.39zM576.7 823.56h6.39v5.67h-6.39zM618.66 823.56h6.39v5.67h-6.39zM625.65 823.56h6.39v5.67h-6.39zM639.64 823.56h6.39v5.67h-6.39zM660.62 823.56h6.39v5.67h-6.39zM101.18 829.84h6.39v5.67h-6.39zM122.16 829.84h6.39v5.67h-6.39zM171.11 829.84h6.39v5.67h-6.39zM213.07 829.84h6.39v5.67h-6.39zM220.06 829.84h6.39v5.67h-6.39zM227.05 829.84h6.39v5.67h-6.39zM234.05 829.84h6.39v5.67h-6.39zM338.94 829.84h6.39v5.67h-6.39zM345.93 829.84h6.39v5.67h-6.39zM359.92 829.84h6.39v5.67h-6.39zM471.81 829.84h6.39v5.67h-6.39zM541.74 829.84h6.39v5.67h-6.39zM618.66 829.84h6.39v5.67h-6.39zM625.65 829.84h6.39v5.67h-6.39zM646.63 829.84h6.39v5.67h-6.39zM660.62 829.84h6.39v5.67h-6.39zM80.2 836.11h6.39v5.67h-6.39zM157.12 836.11h6.39v5.67h-6.39zM164.12 836.11h6.39v5.67h-6.39zM185.1 836.11h6.39v5.67h-6.39zM192.09 836.11h6.39v5.67h-6.39zM199.08 836.11h6.39v5.67h-6.39zM206.07 836.11h6.39v5.67h-6.39zM241.04 836.11h6.39v5.67h-6.39zM262.02 836.11h6.39v5.67h-6.39zM324.96 836.11h6.39v5.67h-6.39zM345.93 836.11h6.39v5.67h-6.39zM359.92 836.11h6.39v5.67h-6.39zM492.79 836.11h6.39v5.67h-6.39zM569.71 836.11h6.39v5.67h-6.39zM618.66 836.11h6.39v5.67h-6.39zM625.65 836.11h6.39v5.67h-6.39zM639.64 836.11h6.39v5.67h-6.39zM716.56 836.11h6.39v5.67h-6.39zM723.56 836.11h6.39v5.67h-6.39zM730.55 836.11h6.39v5.67h-6.39zM80.2 842.38h6.39v5.67h-6.39zM150.13 842.38h6.39v5.67h-6.39zM220.06 842.38h6.39v5.67h-6.39zM227.05 842.38h6.39v5.67h-6.39zM415.86 842.38h6.39v5.67h-6.39zM422.86 842.38h6.39v5.67h-6.39zM548.73 842.38h6.39v5.67h-6.39zM583.7 842.38h6.39v5.67h-6.39zM597.68 842.38h6.39v5.67h-6.39zM625.65 842.38h6.39v5.67h-6.39zM639.64 842.38h6.39v5.67h-6.39zM688.59 842.38h6.39v5.67h-6.39zM744.53 842.38h6.39v5.67h-6.39zM108.17 848.65h6.39v5.67h-6.39zM115.17 848.65h6.39v5.67h-6.39zM164.12 848.65h6.39v5.67h-6.39zM178.1 848.65h6.39v5.67h-6.39zM192.09 848.65h6.39v5.67h-6.39zM213.07 848.65h6.39v5.67h-6.39zM220.06 848.65h6.39v5.67h-6.39zM234.05 848.65h6.39v5.67h-6.39zM241.04 848.65h6.39v5.67h-6.39zM255.03 848.65h6.39v5.67h-6.39zM576.7 848.65h6.39v5.67h-6.39zM590.69 848.65h6.39v5.67h-6.39zM625.65 848.65h6.39v5.67h-6.39zM632.65 848.65h6.39v5.67h-6.39zM653.63 848.65h6.39v5.67h-6.39zM737.54 848.65h6.39v5.67h-6.39zM108.17 854.92h6.39v5.67h-6.39zM136.14 854.92h6.39v5.67h-6.39zM178.1 854.92h6.39v5.67h-6.39zM192.09 854.92h6.39v5.67h-6.39zM206.07 854.92h6.39v5.67h-6.39zM213.07 854.92h6.39v5.67h-6.39zM220.06 854.92h6.39v5.67h-6.39zM241.04 854.92h6.39v5.67h-6.39zM248.03 854.92h6.39v5.67h-6.39zM262.02 854.92h6.39v5.67h-6.39zM310.97 854.92h6.39v5.67h-6.39zM576.7 854.92h6.39v5.67h-6.39zM583.7 854.92h6.39v5.67h-6.39zM625.65 854.92h6.39v5.67h-6.39zM632.65 854.92h6.39v5.67h-6.39zM639.64 854.92h6.39v5.67h-6.39zM653.63 854.92h6.39v5.67h-6.39zM674.6 854.92h6.39v5.67h-6.39zM702.58 854.92h6.39v5.67h-6.39zM709.57 854.92h6.39v5.67h-6.39zM716.56 854.92h6.39v5.67h-6.39z" fill="#002a00"/>
<path d="M94.19 748.3h6.39v5.67h-6.39zM199.08 760.84h6.39v5.67h-6.39zM709.57 773.39h6.39v5.67h-6.39zM716.56 773.39h6.39v5.67h-6.39zM660.62 779.66h6.39v5.67h-6.39zM534.75 785.93h6.39v5.67h-6.39zM569.71 792.2h6.39v5.67h-6.39zM534.75 811.02h6.39v5.67h-6.39zM569.71 811.02h6.39v5.67h-6.39zM87.19 823.56h6.39v5.67h-6.39zM87.19 829.84h6.39v5.67h-6.39zM562.72 836.11h6.39v5.67h-6.39zM534.75 848.65h6.39v5.67h-6.39zM660.62 854.92h6.39v5.67h-6.39z" fill="#18f618"/>
<path d="M101.18 748.3h6.39v5.67h-6.39zM122.16 748.3h6.39v5.67h-6.39zM157.12 748.3h6.39v5.67h-6.39zM164.12 748.3h6.39v5.67h-6.39zM171.11 748.3h6.39v5.67h-6.39zM199.08 748.3h6.39v5.67h-6.39zM213.07 748.3h6.39v5.67h-6.39zM220.06 748.3h6.39v5.67h-6.39zM310.97 748.3h6.39v5.67h-6.39zM324.96 748.3h6.39v5.67h-6.39zM373.91 748.3h6.39v5.67h-6.39zM401.88 748.3h6.39v5.67h-6.39zM415.86 748.3h6.39v5.67h-6.39zM422.86 748.3h6.39v5.67h-6.39zM443.84 748.3h6.39v5.67h-6.39zM499.78 748.3h6.39v5.67h-6.39zM569.71 748.3h6.39v5.67h-6.39zM681.6 748.3h6.39v5.67h-6.39zM695.58 748.3h6.39v5.67h-6.39zM709.57 748.3h6.39v5.67h-6.39zM716.56 748.3h6.39v5.67h-6.39zM730.55 748.3h6.39v5.67h-6.39zM737.54 748.3h6.39v5.67h-6.39zM744.53 748.3h6.39v5.67h-6.39zM87.19 754.57h6.39v5.67h-6.39zM157.12 754.57h6.39v5.67h-6.39zM164.12 754.57h6.39v5.67h-6.39zM171.11 754.57h6.39v5.67h-6.39zM178.1 754.57h6.39v5.67h-6.39zM199.08 754.57h6.39v5.67h-6.39zM206.07 754.57h6.39v5.67h-6.39zM213.07 754.57h6.39v5.67h-6.39zM220.06 754.57h6.39v5.67h-6.39zM227.05 754.57h6.39v5.67h-6.39zM234.05 754.57h6.39v5.67h-6.39zM262.02 754.57h6.39v5.67h-6.39zM317.96 754.57h6.39v5.67h-6.39zM359.92 754.57h6.39v5.67h-6.39zM499.78 754.57h6.39v5.67h-6.39zM548.73 754.57h6.39v5.67h-6.39zM555.72 754.57h6.39v5.67h-6.39zM681.6 754.57h6.39v5.67h-6.39zM688.59 754.57h6.39v5.67h-6.39zM695.58 754.57h6.39v5.67h-6.39zM702.58 754.57h6.39v5.67h-6.39zM709.57 754.57h6.39v5.67h-6.39zM716.56 754.57h6.39v5.67h-6.39zM723.56 754.57h6.39v5.67h-6.39zM730.55 754.57h6.39v5.67h-6.39zM737.54 754.57h6.39v5.67h-6.39zM150.13 760.84h6.39v5.67h-6.39zM178.1 760.84h6.39v5.67h-6.39zM185.1 760.84h6.39v5.67h-6.39zM206.07 760.84h6.39v5.67h-6.39zM213.07 760.84h6.39v5.67h-6.39zM220.06 760.84h6.39v5.67h-6.39zM248.03 760.84h6.39v5.67h-6.39zM255.03 760.84h6.39v5.67h-6.39zM262.02 760.84h6.39v5.67h-6.39zM317.96 760.84h6.39v5.67h-6.39zM366.91 760.84h6.39v5.67h-6.39zM415.86 760.84h6.39v5.67h-6.39zM499.78 760.84h6.39v5.67h-6.39zM590.69 760.84h6.39v5.67h-6.39zM667.61 760.84h6.39v5.67h-6.39zM674.6 760.84h6.39v5.67h-6.39zM681.6 760.84h6.39v5.67h-6.39zM688.59 760.84h6.39v5.67h-6.39zM695.58 760.84h6.39v5.67h-6.39zM702.58 760.84h6.39v5.67h-6.39zM716.56 760.84h6.39v5.67h-6.39zM723.56 760.84h6.39v5.67h-6.39zM730.55 760.84h6.39v5.67h-6.39zM129.15 767.12h6.39v5.67h-6.39zM150.13 767.12h6.39v5.67h-6.39zM171.11 767.12h6.39v5.67h-6.39zM178.1 767.12h6.39v5.67h-6.39zM192.09 767.12h6.39v5.67h-6.39zM220.06 767.12h6.39v5.67h-6.39zM241.04 767.12h6.39v5.67h-6.39zM269.01 767.12h6.39v5.67h-6.39zM303.98 767.12h6.39v5.67h-6.39zM310.97 767.12h6.39v5.67h-6.39zM436.84 767.12h6.39v5.67h-6.39zM443.84 767.12h6.39v5.67h-6.39zM450.83 767.12h6.39v5.67h-6.39zM457.82 767.12h6.39v5.67h-6.39zM464.81 767.12h6.39v5.67h-6.39zM471.81 767.12h6.39v5.67h-6.39zM478.8 767.12h6.39v5.67h-6.39zM534.75 767.12h6.39v5.67h-6.39zM611.67 767.12h6.39v5.67h-6.39zM660.62 767.12h6.39v5.67h-6.39zM667.61 767.12h6.39v5.67h-6.39zM702.58 767.12h6.39v5.67h-6.39zM709.57 767.12h6.39v5.67h-6.39zM723.56 767.12h6.39v5.67h-6.39zM730.55 767.12h6.39v5.67h-6.39zM157.12 773.39h6.39v5.67h-6.39zM227.05 773.39h6.39v5.67h-6.39zM331.95 773.39h6.39v5.67h-6.39zM338.94 773.39h6.39v5.67h-6.39zM422.86 773.39h6.39v5.67h-6.39zM436.84 773.39h6.39v5.67h-6.39zM450.83 773.39h6.39v5.67h-6.39zM555.72 773.39h6.39v5.67h-6.39zM569.71 773.39h6.39v5.67h-6.39zM590.69 773.39h6.39v5.67h-6.39zM695.58 773.39h6.39v5.67h-6.39zM702.58 773.39h6.39v5.67h-6.39zM730.55 773.39h6.39v5.67h-6.39zM94.19 779.66h6.39v5.67h-6.39zM143.14 779.66h6.39v5.67h-6.39zM171.11 779.66h6.39v5.67h-6.39zM220.06 779.66h6.39v5.67h-6.39zM227.05 779.66h6.39v5.67h-6.39zM234.05 779.66h6.39v5.67h-6.39zM401.88 779.66h6.39v5.67h-6.39zM415.86 779.66h6.39v5.67h-6.39zM422.86 779.66h6.39v5.67h-6.39zM534.75 779.66h6.39v5.67h-6.39zM541.74 779.66h6.39v5.67h-6.39zM569.71 779.66h6.39v5.67h-6.39zM576.7 779.66h6.39v5.67h-6.39zM583.7 779.66h6.39v5.67h-6.39zM597.68 779.66h6.39v5.67h-6.39zM611.67 779.66h6.39v5.67h-6.39zM632.65 779.66h6.39v5.67h-6.39zM639.64 779.66h6.39v5.67h-6.39zM674.6 779.66h6.39v5.67h-6.39zM688.59 779.66h6.39v5.67h-6.39zM723.56 779.66h6.39v5.67h-6.39zM737.54 779.66h6.39v5.67h-6.39zM744.53 779.66h6.39v5.67h-6.39zM108.17 785.93h6.39v5.67h-6.39zM185.1 785.93h6.39v5.67h-6.39zM234.05 785.93h6.39v5.67h-6.39zM241.04 785.93h6.39v5.67h-6.39zM296.98 785.93h6.39v5.67h-6.39zM317.96 785.93h6.39v5.67h-6.39zM359.92 785.93h6.39v5.67h-6.39zM443.84 785.93h6.39v5.67h-6.39zM478.8 785.93h6.39v5.67h-6.39zM562.72 785.93h6.39v5.67h-6.39zM590.69 785.93h6.39v5.67h-6.39zM604.67 785.93h6.39v5.67h-6.39zM611.67 785.93h6.39v5.67h-6.39zM618.66 785.93h6.39v5.67h-6.39zM632.65 785.93h6.39v5.67h-6.39zM681.6 785.93h6.39v5.67h-6.39zM688.59 785.93h6.39v5.67h-6.39zM723.56 785.93h6.39v5.67h-6.39zM737.54 785.93h6.39v5.67h-6.39zM199.08 792.2h6.39v5.67h-6.39zM206.07 792.2h6.39v5.67h-6.39zM227.05 792.2h6.39v5.67h-6.39zM234.05 792.2h6.39v5.67h-6.39zM255.03 792.2h6.39v5.67h-6.39zM262.02 792.2h6.39v5.67h-6.39zM562.72 792.2h6.39v5.67h-6.39zM576.7 792.2h6.39v5.67h-6.39zM583.7 792.2h6.39v5.67h-6.39zM604.67 792.2h6.39v5.67h-6.39zM611.67 792.2h6.39v5.67h-6.39zM632.65 792.2h6.39v5.67h-6.39zM660.62 792.2h6.39v5.67h-6.39zM667.61 792.2h6.39v5.67h-6.39zM674.6 792.2h6.39v5.67h-6.39zM681.6 792.2h6.39v5.67h-6.39zM709.57 792.2h6.39v5.67h-6.39zM716.56 792.2h6.39v5.67h-6.39zM730.55 792.2h6.39v5.67h-6.39zM744.53 792.2h6.39v5.67h-6.39zM150.13 798.48h6.39v5.67h-6.39zM317.96 798.48h6.39v5.67h-6.39zM338.94 798.48h6.39v5.67h-6.39zM394.89 798.48h6.39v5.67h-6.39zM548.73 798.48h6.39v5.67h-6.39zM555.72 798.48h6.39v5.67h-6.39zM569.71 798.48h6.39v5.67h-6.39zM583.7 798.48h6.39v5.67h-6.39zM590.69 798.48h6.39v5.67h-6.39zM597.68 798.48h6.39v5.67h-6.39zM604.67 798.48h6.39v5.67h-6.39zM611.67 798.48h6.39v5.67h-6.39zM653.63 798.48h6.39v5.67h-6.39zM667.61 798.48h6.39v5.67h-6.39zM674.6 798.48h6.39v5.67h-6.39zM681.6 798.48h6.39v5.67h-6.39zM688.59 798.48h6.39v5.67h-6.39zM709.57 798.48h6.39v5.67h-6.39zM723.56 798.48h6.39v5.67h-6.39zM730.55 798.48h6.39v5.67h-6.39zM744.53 798.48h6.39v5.67h-6.39zM108.17 804.75h6.39v5.67h-6.39zM150.13 804.75h6.39v5.67h-6.39zM206.07 804.75h6.39v5.67h-6.39zM213.07 804.75h6.39v5.67h-6.39zM331.95 804.75h6.39v5.67h-6.39zM352.93 804.75h6.39v5.67h-6.39zM422.86 804.75h6.39v5.67h-6.39zM429.85 804.75h6.39v5.67h-6.39zM548.73 804.75h6.39v5.67h-6.39zM569.71 804.75h6.39v5.67h-6.39zM576.7 804.75h6.39v5.67h-6.39zM597.68 804.75h6.39v5.67h-6.39zM611.67 804.75h6.39v5.67h-6.39zM618.66 804.75h6.39v5.67h-6.39zM632.65 804.75h6.39v5.67h-6.39zM660.62 804.75h6.39v5.67h-6.39zM674.6 804.75h6.39v5.67h-6.39zM695.58 804.75h6.39v5.67h-6.39zM702.58 804.75h6.39v5.67h-6.39zM709.57 804.75h6.39v5.67h-6.39zM723.56 804.75h6.39v5.67h-6.39zM737.54 804.75h6.39v5.67h-6.39zM744.53 804.75h6.39v5.67h-6.39zM157.12 811.02h6.39v5.67h-6.39zM178.1 811.02h6.39v5.67h-6.39zM366.91 811.02h6.39v5.67h-6.39zM541.74 811.02h6.39v5.67h-6.39zM576.7 811.02h6.39v5.67h-6.39zM583.7 811.02h6.39v5.67h-6.39zM590.69 811.02h6.39v5.67h-6.39zM597.68 811.02h6.39v5.67h-6.39zM604.67 811.02h6.39v5.67h-6.39zM639.64 811.02h6.39v5.67h-6.39zM646.63 811.02h6.39v5.67h-6.39zM653.63 811.02h6.39v5.67h-6.39zM667.61 811.02h6.39v5.67h-6.39zM688.59 811.02h6.39v5.67h-6.39zM702.58 811.02h6.39v5.67h-6.39zM709.57 811.02h6.39v5.67h-6.39zM716.56 811.02h6.39v5.67h-6.39zM723.56 811.02h6.39v5.67h-6.39zM730.55 811.02h6.39v5.67h-6.39zM744.53 811.02h6.39v5.67h-6.39zM129.15 817.29h6.39v5.67h-6.39zM178.1 817.29h6.39v5.67h-6.39zM185.1 817.29h6.39v5.67h-6.39zM192.09 817.29h6.39v5.67h-6.39zM255.03 817.29h6.39v5.67h-6.39zM338.94 817.29h6.39v5.67h-6.39zM352.93 817.29h6.39v5.67h-6.39zM366.91 817.29h6.39v5.67h-6.39zM415.86 817.29h6.39v5.67h-6.39zM548.73 817.29h6.39v5.67h-6.39zM569.71 817.29h6.39v5.67h-6.39zM576.7 817.29h6.39v5.67h-6.39zM583.7 817.29h6.39v5.67h-6.39zM590.69 817.29h6.39v5.67h-6.39zM597.68 817.29h6.39v5.67h-6.39zM604.67 817.29h6.39v5.67h-6.39zM639.64 817.29h6.39v5.67h-6.39zM660.62 817.29h6.39v5.67h-6.39zM681.6 817.29h6.39v5.67h-6.39zM688.59 817.29h6.39v5.67h-6.39zM702.58 817.29h6.39v5.67h-6.39zM709.57 817.29h6.39v5.67h-6.39zM716.56 817.29h6.39v5.67h-6.39zM723.56 817.29h6.39v5.67h-6.39zM730.55 817.29h6.39v5.67h-6.39zM737.54 817.29h6.39v5.67h-6.39zM744.53 817.29h6.39v5.67h-6.39zM108.17 823.56h6.39v5.67h-6.39zM115.17 823.56h6.39v5.67h-6.39zM122.16 823.56h6.39v5.67h-6.39zM283 823.56h6.39v5.67h-6.39zM310.97 823.56h6.39v5.67h-6.39zM324.96 823.56h6.39v5.67h-6.39zM331.95 823.56h6.39v5.67h-6.39zM359.92 823.56h6.39v5.67h-6.39zM478.8 823.56h6.39v5.67h-6.39zM548.73 823.56h6.39v5.67h-6.39zM562.72 823.56h6.39v5.67h-6.39zM583.7 823.56h6.39v5.67h-6.39zM590.69 823.56h6.39v5.67h-6.39zM597.68 823.56h6.39v5.67h-6.39zM604.67 823.56h6.39v5.67h-6.39zM667.61 823.56h6.39v5.67h-6.39zM674.6 823.56h6.39v5.67h-6.39zM681.6 823.56h6.39v5.67h-6.39zM688.59 823.56h6.39v5.67h-6.39zM709.57 823.56h6.39v5.67h-6.39zM716.56 823.56h6.39v5.67h-6.39zM723.56 823.56h6.39v5.67h-6.39zM730.55 823.56h6.39v5.67h-6.39zM744.53 823.56h6.39v5.67h-6.39zM157.12 829.84h6.39v5.67h-6.39zM164.12 829.84h6.39v5.67h-6.39zM185.1 829.84h6.39v5.67h-6.39zM192.09 829.84h6.39v5.67h-6.39zM199.08 829.84h6.39v5.67h-6.39zM206.07 829.84h6.39v5.67h-6.39zM352.93 829.84h6.39v5.67h-6.39zM534.75 829.84h6.39v5.67h-6.39zM548.73 829.84h6.39v5.67h-6.39zM555.72 829.84h6.39v5.67h-6.39zM562.72 829.84h6.39v5.67h-6.39zM569.71 829.84h6.39v5.67h-6.39zM583.7 829.84h6.39v5.67h-6.39zM590.69 829.84h6.39v5.67h-6.39zM597.68 829.84h6.39v5.67h-6.39zM611.67 829.84h6.39v5.67h-6.39zM667.61 829.84h6.39v5.67h-6.39zM674.6 829.84h6.39v5.67h-6.39zM681.6 829.84h6.39v5.67h-6.39zM688.59 829.84h6.39v5.67h-6.39zM702.58 829.84h6.39v5.67h-6.39zM709.57 829.84h6.39v5.67h-6.39zM716.56 829.84h6.39v5.67h-6.39zM723.56 829.84h6.39v5.67h-6.39zM730.55 829.84h6.39v5.67h-6.39zM737.54 829.84h6.39v5.67h-6.39zM101.18 836.11h6.39v5.67h-6.39zM115.17 836.11h6.39v5.67h-6.39zM122.16 836.11h6.39v5.67h-6.39zM276 836.11h6.39v5.67h-6.39zM317.96 836.11h6.39v5.67h-6.39zM534.75 836.11h6.39v5.67h-6.39zM541.74 836.11h6.39v5.67h-6.39zM548.73 836.11h6.39v5.67h-6.39zM555.72 836.11h6.39v5.67h-6.39zM576.7 836.11h6.39v5.67h-6.39zM590.69 836.11h6.39v5.67h-6.39zM597.68 836.11h6.39v5.67h-6.39zM646.63 836.11h6.39v5.67h-6.39zM660.62 836.11h6.39v5.67h-6.39zM674.6 836.11h6.39v5.67h-6.39zM681.6 836.11h6.39v5.67h-6.39zM688.59 836.11h6.39v5.67h-6.39zM702.58 836.11h6.39v5.67h-6.39zM101.18 842.38h6.39v5.67h-6.39zM108.17 842.38h6.39v5.67h-6.39zM115.17 842.38h6.39v5.67h-6.39zM129.15 842.38h6.39v5.67h-6.39zM185.1 842.38h6.39v5.67h-6.39zM192.09 842.38h6.39v5.67h-6.39zM199.08 842.38h6.39v5.67h-6.39zM206.07 842.38h6.39v5.67h-6.39zM255.03 842.38h6.39v5.67h-6.39zM541.74 842.38h6.39v5.67h-6.39zM569.71 842.38h6.39v5.67h-6.39zM590.69 842.38h6.39v5.67h-6.39zM646.63 842.38h6.39v5.67h-6.39zM660.62 842.38h6.39v5.67h-6.39zM667.61 842.38h6.39v5.67h-6.39zM695.58 842.38h6.39v5.67h-6.39zM702.58 842.38h6.39v5.67h-6.39zM709.57 842.38h6.39v5.67h-6.39zM716.56 842.38h6.39v5.67h-6.39zM723.56 842.38h6.39v5.67h-6.39zM730.55 842.38h6.39v5.67h-6.39zM185.1 848.65h6.39v5.67h-6.39zM199.08 848.65h6.39v5.67h-6.39zM206.07 848.65h6.39v5.67h-6.39zM227.05 848.65h6.39v5.67h-6.39zM248.03 848.65h6.39v5.67h-6.39zM310.97 848.65h6.39v5.67h-6.39zM373.91 848.65h6.39v5.67h-6.39zM443.84 848.65h6.39v5.67h-6.39zM548.73 848.65h6.39v5.67h-6.39zM555.72 848.65h6.39v5.67h-6.39zM562.72 848.65h6.39v5.67h-6.39zM569.71 848.65h6.39v5.67h-6.39zM597.68 848.65h6.39v5.67h-6.39zM611.67 848.65h6.39v5.67h-6.39zM618.66 848.65h6.39v5.67h-6.39zM639.64 848.65h6.39v5.67h-6.39zM667.61 848.65h6.39v5.67h-6.39zM681.6 848.65h6.39v5.67h-6.39zM688.59 848.65h6.39v5.67h-6.39zM101.18 854.92h6.39v5.67h-6.39zM185.1 854.92h6.39v5.67h-6.39zM227.05 854.92h6.39v5.67h-6.39zM234.05 854.92h6.39v5.67h-6.39zM373.91 854.92h6.39v5.67h-6.39zM527.75 854.92h6.39v5.67h-6.39zM534.75 854.92h6.39v5.67h-6.39zM541.74 854.92h6.39v5.67h-6.39zM548.73 854.92h6.39v5.67h-6.39zM555.72 854.92h6.39v5.67h-6.39zM562.72 854.92h6.39v5.67h-6.39zM569.71 854.92h6.39v5.67h-6.39zM611.67 854.92h6.39v5.67h-6.39zM618.66 854.92h6.39v5.67h-6.39zM646.63 854.92h6.39v5.67h-6.39zM667.61 854.92h6.39v5.67h-6.39zM681.6 854.92h6.39v5.67h-6.39zM688.59 854.92h6.39v5.67h-6.39zM695.58 854.92h6.39v5.67h-6.39zM723.56 854.92h6.39v5.67h-6.39zM730.55 854.92h6.39v5.67h-6.39zM737.54 854.92h6.39v5.67h-6.39zM744.53 854.92h6.39v5.67h-6.39z" fill="#006800"/>
<path d="M129.15 748.3h6.39v5.67h-6.39zM192.09 748.3h6.39v5.67h-6.39zM234.05 748.3h6.39v5.67h-6.39zM289.99 748.3h6.39v5.67h-6.39zM296.98 748.3h6.39v5.67h-6.39zM317.96 748.3h6.39v5.67h-6.39zM359.92 748.3h6.39v5.67h-6.39zM387.89 748.3h6.39v5.67h-6.39zM436.84 748.3h6.39v5.67h-6.39zM457.82 748.3h6.39v5.67h-6.39zM527.75 748.3h6.39v5.67h-6.39zM611.67 748.3h6.39v5.67h-6.39zM653.63 748.3h6.39v5.67h-6.39zM702.58 748.3h6.39v5.67h-6.39zM108.17 754.57h6.39v5.67h-6.39zM185.1 754.57h6.39v5.67h-6.39zM192.09 754.57h6.39v5.67h-6.39zM241.04 754.57h6.39v5.67h-6.39zM248.03 754.57h6.39v5.67h-6.39zM255.03 754.57h6.39v5.67h-6.39zM352.93 754.57h6.39v5.67h-6.39zM373.91 754.57h6.39v5.67h-6.39zM443.84 754.57h6.39v5.67h-6.39zM492.79 754.57h6.39v5.67h-6.39zM513.77 754.57h6.39v5.67h-6.39zM667.61 754.57h6.39v5.67h-6.39zM87.19 760.84h6.39v5.67h-6.39zM108.17 760.84h6.39v5.67h-6.39zM324.96 760.84h6.39v5.67h-6.39zM359.92 760.84h6.39v5.67h-6.39zM422.86 760.84h6.39v5.67h-6.39zM429.85 760.84h6.39v5.67h-6.39zM492.79 760.84h6.39v5.67h-6.39zM506.77 760.84h6.39v5.67h-6.39zM520.76 760.84h6.39v5.67h-6.39zM562.72 760.84h6.39v5.67h-6.39zM108.17 767.12h6.39v5.67h-6.39zM143.14 767.12h6.39v5.67h-6.39zM185.1 767.12h6.39v5.67h-6.39zM401.88 767.12h6.39v5.67h-6.39zM485.79 767.12h6.39v5.67h-6.39zM492.79 767.12h6.39v5.67h-6.39zM513.77 767.12h6.39v5.67h-6.39zM583.7 767.12h6.39v5.67h-6.39zM136.14 773.39h6.39v5.67h-6.39zM178.1 773.39h6.39v5.67h-6.39zM199.08 773.39h6.39v5.67h-6.39zM262.02 773.39h6.39v5.67h-6.39zM394.89 773.39h6.39v5.67h-6.39zM429.85 773.39h6.39v5.67h-6.39zM478.8 773.39h6.39v5.67h-6.39zM485.79 773.39h6.39v5.67h-6.39zM492.79 773.39h6.39v5.67h-6.39zM513.77 773.39h6.39v5.67h-6.39zM548.73 773.39h6.39v5.67h-6.39zM611.67 773.39h6.39v5.67h-6.39zM639.64 773.39h6.39v5.67h-6.39zM667.61 773.39h6.39v5.67h-6.39zM681.6 773.39h6.39v5.67h-6.39zM744.53 773.39h6.39v5.67h-6.39zM129.15 779.66h6.39v5.67h-6.39zM157.12 779.66h6.39v5.67h-6.39zM262.02 779.66h6.39v5.67h-6.39zM283 779.66h6.39v5.67h-6.39zM359.92 779.66h6.39v5.67h-6.39zM373.91 779.66h6.39v5.67h-6.39zM394.89 779.66h6.39v5.67h-6.39zM436.84 779.66h6.39v5.67h-6.39zM457.82 779.66h6.39v5.67h-6.39zM625.65 779.66h6.39v5.67h-6.39zM646.63 779.66h6.39v5.67h-6.39zM94.19 785.93h6.39v5.67h-6.39zM157.12 785.93h6.39v5.67h-6.39zM171.11 785.93h6.39v5.67h-6.39zM199.08 785.93h6.39v5.67h-6.39zM227.05 785.93h6.39v5.67h-6.39zM255.03 785.93h6.39v5.67h-6.39zM283 785.93h6.39v5.67h-6.39zM310.97 785.93h6.39v5.67h-6.39zM429.85 785.93h6.39v5.67h-6.39zM527.75 785.93h6.39v5.67h-6.39zM541.74 785.93h6.39v5.67h-6.39zM555.72 785.93h6.39v5.67h-6.39zM597.68 785.93h6.39v5.67h-6.39zM653.63 785.93h6.39v5.67h-6.39zM674.6 785.93h6.39v5.67h-6.39zM122.16 792.2h6.39v5.67h-6.39zM136.14 792.2h6.39v5.67h-6.39zM317.96 792.2h6.39v5.67h-6.39zM338.94 792.2h6.39v5.67h-6.39zM380.9 792.2h6.39v5.67h-6.39zM387.89 792.2h6.39v5.67h-6.39zM485.79 792.2h6.39v5.67h-6.39zM534.75 792.2h6.39v5.67h-6.39zM646.63 792.2h6.39v5.67h-6.39zM737.54 792.2h6.39v5.67h-6.39zM108.17 798.48h6.39v5.67h-6.39zM185.1 798.48h6.39v5.67h-6.39zM192.09 798.48h6.39v5.67h-6.39zM213.07 798.48h6.39v5.67h-6.39zM234.05 798.48h6.39v5.67h-6.39zM255.03 798.48h6.39v5.67h-6.39zM276 798.48h6.39v5.67h-6.39zM345.93 798.48h6.39v5.67h-6.39zM632.65 798.48h6.39v5.67h-6.39zM646.63 798.48h6.39v5.67h-6.39zM702.58 798.48h6.39v5.67h-6.39zM87.19 804.75h6.39v5.67h-6.39zM185.1 804.75h6.39v5.67h-6.39zM248.03 804.75h6.39v5.67h-6.39zM262.02 804.75h6.39v5.67h-6.39zM415.86 804.75h6.39v5.67h-6.39zM478.8 804.75h6.39v5.67h-6.39zM485.79 804.75h6.39v5.67h-6.39zM499.78 804.75h6.39v5.67h-6.39zM527.75 804.75h6.39v5.67h-6.39zM541.74 804.75h6.39v5.67h-6.39zM653.63 804.75h6.39v5.67h-6.39zM681.6 804.75h6.39v5.67h-6.39zM143.14 811.02h6.39v5.67h-6.39zM150.13 811.02h6.39v5.67h-6.39zM171.11 811.02h6.39v5.67h-6.39zM255.03 811.02h6.39v5.67h-6.39zM262.02 811.02h6.39v5.67h-6.39zM283 811.02h6.39v5.67h-6.39zM324.96 811.02h6.39v5.67h-6.39zM331.95 811.02h6.39v5.67h-6.39zM345.93 811.02h6.39v5.67h-6.39zM464.81 811.02h6.39v5.67h-6.39zM618.66 811.02h6.39v5.67h-6.39zM150.13 817.29h6.39v5.67h-6.39zM157.12 817.29h6.39v5.67h-6.39zM262.02 817.29h6.39v5.67h-6.39zM310.97 817.29h6.39v5.67h-6.39zM359.92 817.29h6.39v5.67h-6.39zM646.63 817.29h6.39v5.67h-6.39zM101.18 823.56h6.39v5.67h-6.39zM164.12 823.56h6.39v5.67h-6.39zM213.07 823.56h6.39v5.67h-6.39zM227.05 823.56h6.39v5.67h-6.39zM276 823.56h6.39v5.67h-6.39zM380.9 823.56h6.39v5.67h-6.39zM394.89 823.56h6.39v5.67h-6.39zM443.84 823.56h6.39v5.67h-6.39zM646.63 823.56h6.39v5.67h-6.39zM653.63 823.56h6.39v5.67h-6.39zM737.54 823.56h6.39v5.67h-6.39zM178.1 829.84h6.39v5.67h-6.39zM269.01 829.84h6.39v5.67h-6.39zM310.97 829.84h6.39v5.67h-6.39zM436.84 829.84h6.39v5.67h-6.39zM450.83 829.84h6.39v5.67h-6.39zM499.78 829.84h6.39v5.67h-6.39zM604.67 829.84h6.39v5.67h-6.39zM744.53 829.84h6.39v5.67h-6.39zM136.14 836.11h6.39v5.67h-6.39zM255.03 836.11h6.39v5.67h-6.39zM352.93 836.11h6.39v5.67h-6.39zM527.75 836.11h6.39v5.67h-6.39zM604.67 836.11h6.39v5.67h-6.39zM632.65 836.11h6.39v5.67h-6.39zM695.58 836.11h6.39v5.67h-6.39zM737.54 836.11h6.39v5.67h-6.39zM143.14 842.38h6.39v5.67h-6.39zM213.07 842.38h6.39v5.67h-6.39zM234.05 842.38h6.39v5.67h-6.39zM296.98 842.38h6.39v5.67h-6.39zM345.93 842.38h6.39v5.67h-6.39zM359.92 842.38h6.39v5.67h-6.39zM387.89 842.38h6.39v5.67h-6.39zM394.89 842.38h6.39v5.67h-6.39zM604.67 842.38h6.39v5.67h-6.39zM674.6 842.38h6.39v5.67h-6.39zM681.6 842.38h6.39v5.67h-6.39zM129.15 848.65h6.39v5.67h-6.39zM157.12 848.65h6.39v5.67h-6.39zM171.11 848.65h6.39v5.67h-6.39zM276 848.65h6.39v5.67h-6.39zM408.87 848.65h6.39v5.67h-6.39zM415.86 848.65h6.39v5.67h-6.39zM646.63 848.65h6.39v5.67h-6.39zM695.58 848.65h6.39v5.67h-6.39zM702.58 848.65h6.39v5.67h-6.39zM709.57 848.65h6.39v5.67h-6.39zM716.56 848.65h6.39v5.67h-6.39zM157.12 854.92h6.39v5.67h-6.39zM164.12 854.92h6.39v5.67h-6.39zM171.11 854.92h6.39v5.67h-6.39zM199.08 854.92h6.39v5.67h-6.39zM352.93 854.92h6.39v5.67h-6.39zM401.88 854.92h6.39v5.67h-6.39zM597.68 854.92h6.39v5.67h-6.39z" fill="#060606"/>
<path d="M136.14 748.3h6.39v5.67h-6.39zM143.14 748.3h6.39v5.67h-6.39zM269.01 748.3h6.39v5.67h-6.39zM276 748.3h6.39v5.67h-6.39zM283 748.3h6.39v5.67h-6.39zM366.91 748.3h6.39v5.67h-6.39zM380.9 748.3h6.39v5.67h-6.39zM394.89 748.3h6.39v5.67h-6.39zM534.75 748.3h6.39v5.67h-6.39zM548.73 748.3h6.39v5.67h-6.39zM583.7 748.3h6.39v5.67h-6.39zM590.69 748.3h6.39v5.67h-6.39zM597.68 748.3h6.39v5.67h-6.39zM625.65 748.3h6.39v5.67h-6.39zM632.65 748.3h6.39v5.67h-6.39zM660.62 748.3h6.39v5.67h-6.39zM122.16 754.57h6.39v5.67h-6.39zM129.15 754.57h6.39v5.67h-6.39zM136.14 754.57h6.39v5.67h-6.39zM324.96 754.57h6.39v5.67h-6.39zM576.7 754.57h6.39v5.67h-6.39zM583.7 754.57h6.39v5.67h-6.39zM590.69 754.57h6.39v5.67h-6.39zM604.67 754.57h6.39v5.67h-6.39zM611.67 754.57h6.39v5.67h-6.39zM618.66 754.57h6.39v5.67h-6.39zM625.65 754.57h6.39v5.67h-6.39zM632.65 754.57h6.39v5.67h-6.39zM80.2 760.84h6.39v5.67h-6.39zM101.18 760.84h6.39v5.67h-6.39zM269.01 760.84h6.39v5.67h-6.39zM276 760.84h6.39v5.67h-6.39zM310.97 760.84h6.39v5.67h-6.39zM380.9 760.84h6.39v5.67h-6.39zM541.74 760.84h6.39v5.67h-6.39zM569.71 760.84h6.39v5.67h-6.39zM604.67 760.84h6.39v5.67h-6.39zM611.67 760.84h6.39v5.67h-6.39zM632.65 760.84h6.39v5.67h-6.39zM660.62 760.84h6.39v5.67h-6.39zM737.54 760.84h6.39v5.67h-6.39zM80.2 767.12h6.39v5.67h-6.39zM157.12 767.12h6.39v5.67h-6.39zM289.99 767.12h6.39v5.67h-6.39zM352.93 767.12h6.39v5.67h-6.39zM359.92 767.12h6.39v5.67h-6.39zM373.91 767.12h6.39v5.67h-6.39zM380.9 767.12h6.39v5.67h-6.39zM387.89 767.12h6.39v5.67h-6.39zM394.89 767.12h6.39v5.67h-6.39zM422.86 767.12h6.39v5.67h-6.39zM618.66 767.12h6.39v5.67h-6.39zM744.53 767.12h6.39v5.67h-6.39zM87.19 773.39h6.39v5.67h-6.39zM108.17 773.39h6.39v5.67h-6.39zM115.17 773.39h6.39v5.67h-6.39zM171.11 773.39h6.39v5.67h-6.39zM234.05 773.39h6.39v5.67h-6.39zM269.01 773.39h6.39v5.67h-6.39zM283 773.39h6.39v5.67h-6.39zM324.96 773.39h6.39v5.67h-6.39zM373.91 773.39h6.39v5.67h-6.39zM380.9 773.39h6.39v5.67h-6.39zM387.89 773.39h6.39v5.67h-6.39zM401.88 773.39h6.39v5.67h-6.39zM506.77 773.39h6.39v5.67h-6.39zM534.75 773.39h6.39v5.67h-6.39zM688.59 773.39h6.39v5.67h-6.39zM87.19 779.66h6.39v5.67h-6.39zM108.17 779.66h6.39v5.67h-6.39zM115.17 779.66h6.39v5.67h-6.39zM150.13 779.66h6.39v5.67h-6.39zM296.98 779.66h6.39v5.67h-6.39zM303.98 779.66h6.39v5.67h-6.39zM317.96 779.66h6.39v5.67h-6.39zM366.91 779.66h6.39v5.67h-6.39zM408.87 779.66h6.39v5.67h-6.39zM471.81 779.66h6.39v5.67h-6.39zM478.8 779.66h6.39v5.67h-6.39zM520.76 779.66h6.39v5.67h-6.39zM527.75 779.66h6.39v5.67h-6.39zM548.73 779.66h6.39v5.67h-6.39zM555.72 779.66h6.39v5.67h-6.39zM695.58 779.66h6.39v5.67h-6.39zM101.18 785.93h6.39v5.67h-6.39zM129.15 785.93h6.39v5.67h-6.39zM150.13 785.93h6.39v5.67h-6.39zM178.1 785.93h6.39v5.67h-6.39zM269.01 785.93h6.39v5.67h-6.39zM276 785.93h6.39v5.67h-6.39zM380.9 785.93h6.39v5.67h-6.39zM387.89 785.93h6.39v5.67h-6.39zM394.89 785.93h6.39v5.67h-6.39zM401.88 785.93h6.39v5.67h-6.39zM422.86 785.93h6.39v5.67h-6.39zM457.82 785.93h6.39v5.67h-6.39zM464.81 785.93h6.39v5.67h-6.39zM471.81 785.93h6.39v5.67h-6.39zM569.71 785.93h6.39v5.67h-6.39zM667.61 785.93h6.39v5.67h-6.39zM695.58 785.93h6.39v5.67h-6.39zM709.57 785.93h6.39v5.67h-6.39zM80.2 792.2h6.39v5.67h-6.39zM164.12 792.2h6.39v5.67h-6.39zM185.1 792.2h6.39v5.67h-6.39zM192.09 792.2h6.39v5.67h-6.39zM269.01 792.2h6.39v5.67h-6.39zM276 792.2h6.39v5.67h-6.39zM283 792.2h6.39v5.67h-6.39zM289.99 792.2h6.39v5.67h-6.39zM296.98 792.2h6.39v5.67h-6.39zM303.98 792.2h6.39v5.67h-6.39zM331.95 792.2h6.39v5.67h-6.39zM436.84 792.2h6.39v5.67h-6.39zM457.82 792.2h6.39v5.67h-6.39zM464.81 792.2h6.39v5.67h-6.39zM478.8 792.2h6.39v5.67h-6.39zM492.79 792.2h6.39v5.67h-6.39zM499.78 792.2h6.39v5.67h-6.39zM506.77 792.2h6.39v5.67h-6.39zM513.77 792.2h6.39v5.67h-6.39zM520.76 792.2h6.39v5.67h-6.39zM527.75 792.2h6.39v5.67h-6.39zM129.15 798.48h6.39v5.67h-6.39zM136.14 798.48h6.39v5.67h-6.39zM164.12 798.48h6.39v5.67h-6.39zM296.98 798.48h6.39v5.67h-6.39zM303.98 798.48h6.39v5.67h-6.39zM331.95 798.48h6.39v5.67h-6.39zM373.91 798.48h6.39v5.67h-6.39zM464.81 798.48h6.39v5.67h-6.39zM471.81 798.48h6.39v5.67h-6.39zM492.79 798.48h6.39v5.67h-6.39zM506.77 798.48h6.39v5.67h-6.39zM513.77 798.48h6.39v5.67h-6.39zM122.16 804.75h6.39v5.67h-6.39zM164.12 804.75h6.39v5.67h-6.39zM241.04 804.75h6.39v5.67h-6.39zM269.01 804.75h6.39v5.67h-6.39zM296.98 804.75h6.39v5.67h-6.39zM303.98 804.75h6.39v5.67h-6.39zM324.96 804.75h6.39v5.67h-6.39zM380.9 804.75h6.39v5.67h-6.39zM394.89 804.75h6.39v5.67h-6.39zM443.84 804.75h6.39v5.67h-6.39zM450.83 804.75h6.39v5.67h-6.39zM94.19 811.02h6.39v5.67h-6.39zM101.18 811.02h6.39v5.67h-6.39zM122.16 811.02h6.39v5.67h-6.39zM136.14 811.02h6.39v5.67h-6.39zM206.07 811.02h6.39v5.67h-6.39zM289.99 811.02h6.39v5.67h-6.39zM303.98 811.02h6.39v5.67h-6.39zM310.97 811.02h6.39v5.67h-6.39zM373.91 811.02h6.39v5.67h-6.39zM394.89 811.02h6.39v5.67h-6.39zM401.88 811.02h6.39v5.67h-6.39zM408.87 811.02h6.39v5.67h-6.39zM415.86 811.02h6.39v5.67h-6.39zM422.86 811.02h6.39v5.67h-6.39zM429.85 811.02h6.39v5.67h-6.39zM436.84 811.02h6.39v5.67h-6.39zM443.84 811.02h6.39v5.67h-6.39zM457.82 811.02h6.39v5.67h-6.39zM471.81 811.02h6.39v5.67h-6.39zM478.8 811.02h6.39v5.67h-6.39zM485.79 811.02h6.39v5.67h-6.39zM492.79 811.02h6.39v5.67h-6.39zM737.54 811.02h6.39v5.67h-6.39zM80.2 817.29h6.39v5.67h-6.39zM94.19 817.29h6.39v5.67h-6.39zM101.18 817.29h6.39v5.67h-6.39zM108.17 817.29h6.39v5.67h-6.39zM115.17 817.29h6.39v5.67h-6.39zM136.14 817.29h6.39v5.67h-6.39zM143.14 817.29h6.39v5.67h-6.39zM283 817.29h6.39v5.67h-6.39zM289.99 817.29h6.39v5.67h-6.39zM296.98 817.29h6.39v5.67h-6.39zM303.98 817.29h6.39v5.67h-6.39zM345.93 817.29h6.39v5.67h-6.39zM373.91 817.29h6.39v5.67h-6.39zM380.9 817.29h6.39v5.67h-6.39zM394.89 817.29h6.39v5.67h-6.39zM401.88 817.29h6.39v5.67h-6.39zM408.87 817.29h6.39v5.67h-6.39zM422.86 817.29h6.39v5.67h-6.39zM436.84 817.29h6.39v5.67h-6.39zM457.82 817.29h6.39v5.67h-6.39zM471.81 817.29h6.39v5.67h-6.39zM485.79 817.29h6.39v5.67h-6.39zM492.79 817.29h6.39v5.67h-6.39zM499.78 817.29h6.39v5.67h-6.39zM506.77 817.29h6.39v5.67h-6.39zM94.19 823.56h6.39v5.67h-6.39zM143.14 823.56h6.39v5.67h-6.39zM199.08 823.56h6.39v5.67h-6.39zM289.99 823.56h6.39v5.67h-6.39zM345.93 823.56h6.39v5.67h-6.39zM373.91 823.56h6.39v5.67h-6.39zM401.88 823.56h6.39v5.67h-6.39zM408.87 823.56h6.39v5.67h-6.39zM415.86 823.56h6.39v5.67h-6.39zM422.86 823.56h6.39v5.67h-6.39zM436.84 823.56h6.39v5.67h-6.39zM457.82 823.56h6.39v5.67h-6.39zM464.81 823.56h6.39v5.67h-6.39zM485.79 823.56h6.39v5.67h-6.39zM492.79 823.56h6.39v5.67h-6.39zM499.78 823.56h6.39v5.67h-6.39zM541.74 823.56h6.39v5.67h-6.39zM632.65 823.56h6.39v5.67h-6.39zM695.58 823.56h6.39v5.67h-6.39zM108.17 829.84h6.39v5.67h-6.39zM115.17 829.84h6.39v5.67h-6.39zM129.15 829.84h6.39v5.67h-6.39zM136.14 829.84h6.39v5.67h-6.39zM143.14 829.84h6.39v5.67h-6.39zM241.04 829.84h6.39v5.67h-6.39zM262.02 829.84h6.39v5.67h-6.39zM283 829.84h6.39v5.67h-6.39zM303.98 829.84h6.39v5.67h-6.39zM331.95 829.84h6.39v5.67h-6.39zM373.91 829.84h6.39v5.67h-6.39zM380.9 829.84h6.39v5.67h-6.39zM387.89 829.84h6.39v5.67h-6.39zM394.89 829.84h6.39v5.67h-6.39zM401.88 829.84h6.39v5.67h-6.39zM429.85 829.84h6.39v5.67h-6.39zM443.84 829.84h6.39v5.67h-6.39zM485.79 829.84h6.39v5.67h-6.39zM632.65 829.84h6.39v5.67h-6.39zM129.15 836.11h6.39v5.67h-6.39zM150.13 836.11h6.39v5.67h-6.39zM178.1 836.11h6.39v5.67h-6.39zM227.05 836.11h6.39v5.67h-6.39zM296.98 836.11h6.39v5.67h-6.39zM303.98 836.11h6.39v5.67h-6.39zM373.91 836.11h6.39v5.67h-6.39zM387.89 836.11h6.39v5.67h-6.39zM401.88 836.11h6.39v5.67h-6.39zM408.87 836.11h6.39v5.67h-6.39zM422.86 836.11h6.39v5.67h-6.39zM436.84 836.11h6.39v5.67h-6.39zM443.84 836.11h6.39v5.67h-6.39zM450.83 836.11h6.39v5.67h-6.39zM457.82 836.11h6.39v5.67h-6.39zM478.8 836.11h6.39v5.67h-6.39zM485.79 836.11h6.39v5.67h-6.39zM709.57 836.11h6.39v5.67h-6.39zM744.53 836.11h6.39v5.67h-6.39zM94.19 842.38h6.39v5.67h-6.39zM178.1 842.38h6.39v5.67h-6.39zM276 842.38h6.39v5.67h-6.39zM283 842.38h6.39v5.67h-6.39zM289.99 842.38h6.39v5.67h-6.39zM310.97 842.38h6.39v5.67h-6.39zM317.96 842.38h6.39v5.67h-6.39zM338.94 842.38h6.39v5.67h-6.39zM366.91 842.38h6.39v5.67h-6.39zM373.91 842.38h6.39v5.67h-6.39zM408.87 842.38h6.39v5.67h-6.39zM429.85 842.38h6.39v5.67h-6.39zM443.84 842.38h6.39v5.67h-6.39zM457.82 842.38h6.39v5.67h-6.39zM471.81 842.38h6.39v5.67h-6.39zM485.79 842.38h6.39v5.67h-6.39zM520.76 842.38h6.39v5.67h-6.39zM611.67 842.38h6.39v5.67h-6.39zM618.66 842.38h6.39v5.67h-6.39zM632.65 842.38h6.39v5.67h-6.39zM653.63 842.38h6.39v5.67h-6.39zM80.2 848.65h6.39v5.67h-6.39zM87.19 848.65h6.39v5.67h-6.39zM94.19 848.65h6.39v5.67h-6.39zM283 848.65h6.39v5.67h-6.39zM289.99 848.65h6.39v5.67h-6.39zM296.98 848.65h6.39v5.67h-6.39zM331.95 848.65h6.39v5.67h-6.39zM338.94 848.65h6.39v5.67h-6.39zM352.93 848.65h6.39v5.67h-6.39zM359.92 848.65h6.39v5.67h-6.39zM366.91 848.65h6.39v5.67h-6.39zM387.89 848.65h6.39v5.67h-6.39zM394.89 848.65h6.39v5.67h-6.39zM436.84 848.65h6.39v5.67h-6.39zM450.83 848.65h6.39v5.67h-6.39zM464.81 848.65h6.39v5.67h-6.39zM478.8 848.65h6.39v5.67h-6.39zM492.79 848.65h6.39v5.67h-6.39zM520.76 848.65h6.39v5.67h-6.39zM527.75 848.65h6.39v5.67h-6.39zM583.7 848.65h6.39v5.67h-6.39zM87.19 854.92h6.39v5.67h-6.39zM122.16 854.92h6.39v5.67h-6.39zM143.14 854.92h6.39v5.67h-6.39zM150.13 854.92h6.39v5.67h-6.39zM283 854.92h6.39v5.67h-6.39zM289.99 854.92h6.39v5.67h-6.39zM296.98 854.92h6.39v5.67h-6.39zM303.98 854.92h6.39v5.67h-6.39zM317.96 854.92h6.39v5.67h-6.39zM324.96 854.92h6.39v5.67h-6.39zM331.95 854.92h6.39v5.67h-6.39zM338.94 854.92h6.39v5.67h-6.39zM359.92 854.92h6.39v5.67h-6.39zM366.91 854.92h6.39v5.67h-6.39zM380.9 854.92h6.39v5.67h-6.39zM387.89 854.92h6.39v5.67h-6.39zM394.89 854.92h6.39v5.67h-6.39zM443.84 854.92h6.39v5.67h-6.39zM450.83 854.92h6.39v5.67h-6.39zM590.69 854.92h6.39v5.67h-6.39z" fill="#700000"/>
<path d="M227.05 748.3h6.39v5.67h-6.39zM541.74 754.57h6.39v5.67h-6.39zM674.6 754.57h6.39v5.67h-6.39zM744.53 754.57h6.39v5.67h-6.39zM171.11 760.84h6.39v5.67h-6.39zM709.57 760.84h6.39v5.67h-6.39zM443.84 773.39h6.39v5.67h-6.39zM583.7 773.39h6.39v5.67h-6.39zM737.54 773.39h6.39v5.67h-6.39zM269.01 779.66h6.39v5.67h-6.39zM87.19 785.93h6.39v5.67h-6.39zM213.07 785.93h6.39v5.67h-6.39zM730.55 785.93h6.39v5.67h-6.39zM548.73 792.2h6.39v5.67h-6.39zM555.72 792.2h6.39v5.67h-6.39zM597.68 792.2h6.39v5.67h-6.39zM688.59 792.2h6.39v5.67h-6.39zM702.58 792.2h6.39v5.67h-6.39zM352.93 798.48h6.39v5.67h-6.39zM695.58 798.48h6.39v5.67h-6.39zM359.92 804.75h6.39v5.67h-6.39zM555.72 804.75h6.39v5.67h-6.39zM590.69 804.75h6.39v5.67h-6.39zM688.59 804.75h6.39v5.67h-6.39zM730.55 804.75h6.39v5.67h-6.39zM164.12 811.02h6.39v5.67h-6.39zM548.73 811.02h6.39v5.67h-6.39zM562.72 811.02h6.39v5.67h-6.39zM611.67 811.02h6.39v5.67h-6.39zM674.6 811.02h6.39v5.67h-6.39zM681.6 811.02h6.39v5.67h-6.39zM534.75 817.29h6.39v5.67h-6.39zM541.74 817.29h6.39v5.67h-6.39zM555.72 817.29h6.39v5.67h-6.39zM611.67 817.29h6.39v5.67h-6.39zM667.61 817.29h6.39v5.67h-6.39zM674.6 817.29h6.39v5.67h-6.39zM317.96 823.56h6.39v5.67h-6.39zM534.75 823.56h6.39v5.67h-6.39zM555.72 823.56h6.39v5.67h-6.39zM611.67 823.56h6.39v5.67h-6.39zM702.58 823.56h6.39v5.67h-6.39zM695.58 829.84h6.39v5.67h-6.39zM87.19 836.11h6.39v5.67h-6.39zM108.17 836.11h6.39v5.67h-6.39zM269.01 836.11h6.39v5.67h-6.39zM611.67 836.11h6.39v5.67h-6.39zM653.63 836.11h6.39v5.67h-6.39zM667.61 836.11h6.39v5.67h-6.39zM122.16 842.38h6.39v5.67h-6.39zM534.75 842.38h6.39v5.67h-6.39zM555.72 842.38h6.39v5.67h-6.39zM562.72 842.38h6.39v5.67h-6.39zM576.7 842.38h6.39v5.67h-6.39zM101.18 848.65h6.39v5.67h-6.39zM541.74 848.65h6.39v5.67h-6.39zM604.67 848.65h6.39v5.67h-6.39zM660.62 848.65h6.39v5.67h-6.39zM255.03 854.92h6.39v5.67h-6.39zM604.67 854.92h6.39v5.67h-6.39z" fill="#0ab80a"/>
<path d="M555.72 748.3h6.39v5.67h-6.39zM597.68 754.57h6.39v5.67h-6.39zM639.64 754.57h6.39v5.67h-6.39zM646.63 754.57h6.39v5.67h-6.39zM653.63 754.57h6.39v5.67h-6.39zM660.62 754.57h6.39v5.67h-6.39zM129.15 760.84h6.39v5.67h-6.39zM276 767.12h6.39v5.67h-6.39zM283 767.12h6.39v5.67h-6.39zM345.93 767.12h6.39v5.67h-6.39zM737.54 767.12h6.39v5.67h-6.39zM94.19 773.39h6.39v5.67h-6.39zM80.2 779.66h6.39v5.67h-6.39zM101.18 779.66h6.39v5.67h-6.39zM513.77 779.66h6.39v5.67h-6.39zM80.2 785.93h6.39v5.67h-6.39zM136.14 785.93h6.39v5.67h-6.39zM289.99 785.93h6.39v5.67h-6.39zM471.81 792.2h6.39v5.67h-6.39zM289.99 798.48h6.39v5.67h-6.39zM94.19 804.75h6.39v5.67h-6.39zM129.15 804.75h6.39v5.67h-6.39zM136.14 804.75h6.39v5.67h-6.39zM276 804.75h6.39v5.67h-6.39zM401.88 804.75h6.39v5.67h-6.39zM464.81 804.75h6.39v5.67h-6.39zM478.8 817.29h6.39v5.67h-6.39zM129.15 823.56h6.39v5.67h-6.39zM171.11 823.56h6.39v5.67h-6.39zM178.1 823.56h6.39v5.67h-6.39zM296.98 823.56h6.39v5.67h-6.39zM94.19 829.84h6.39v5.67h-6.39zM436.84 842.38h6.39v5.67h-6.39z" fill="#c00404"/>
<path d="M562.72 748.3h6.39v5.67h-6.39zM576.7 748.3h6.39v5.67h-6.39zM143.14 754.57h6.39v5.67h-6.39zM283 760.84h6.39v5.67h-6.39zM115.17 767.12h6.39v5.67h-6.39zM122.16 767.12h6.39v5.67h-6.39zM562.72 779.66h6.39v5.67h-6.39zM80.2 798.48h6.39v5.67h-6.39zM296.98 811.02h6.39v5.67h-6.39zM296.98 829.84h6.39v5.67h-6.39zM171.11 842.38h6.39v5.67h-6.39z" fill="#f81010"/>
<text x="77.3" y="753.54" font-size="6.7" font-weight="700" text-anchor="end">ROR2</text>
<text x="77.3" y="759.81" font-size="6.7" font-weight="700" text-anchor="end">ATP10D</text>
<text x="77.3" y="766.08" font-size="6.7" font-weight="700" text-anchor="end">MSI2</text>
<text x="77.3" y="772.35" font-size="6.7" font-weight="700" text-anchor="end">FAM19A4</text>
<text x="77.3" y="778.62" font-size="6.7" font-weight="700" text-anchor="end">ARHGEF4</text>
<text x="77.3" y="784.9" font-size="6.7" font-weight="700" text-anchor="end">NFIX</text>
<text x="77.3" y="791.17" font-size="6.7" font-weight="700" text-anchor="end">NAV2</text>
<text x="77.3" y="797.44" font-size="6.7" font-weight="700" text-anchor="end">TPCN1</text>
<text x="77.3" y="803.71" font-size="6.7" font-weight="700" text-anchor="end">NCOR2</text>
<text x="77.3" y="809.98" font-size="6.7" font-weight="700" text-anchor="end">VAV2</text>
<text x="77.3" y="816.26" font-size="6.7" font-weight="700" text-anchor="end">TSPAN9</text>
<text x="77.3" y="822.53" font-size="6.7" font-weight="700" text-anchor="end">BCAR1</text>
<text x="77.3" y="828.8" font-size="6.7" font-weight="700" text-anchor="end">PCCA</text>
<text x="77.3" y="835.07" font-size="6.7" font-weight="700" text-anchor="end">ANKRD17</text>
<text x="77.3" y="841.34" font-size="6.7" font-weight="700" text-anchor="end">SORBS2</text>
<text x="77.3" y="847.62" font-size="6.7" font-weight="700" text-anchor="end">CACNB2</text>
<text x="77.3" y="853.89" font-size="6.7" font-weight="700" text-anchor="end">ELOVL1</text>
<text x="77.3" y="860.16" font-size="6.7" font-weight="700" text-anchor="end">ACVRL1</text>
<text x="77.2" y="873.3" font-size="6.6" font-weight="700" text-anchor="end">Mean Z Score</text>
<rect x="80.35" y="868.2" width="6.1" height="5.6" fill="#fc4040"/>
<rect x="87.34" y="868.2" width="6.1" height="5.6" fill="#b8b8ff"/>
<rect x="94.33" y="868.2" width="6.1" height="5.6" fill="#ffa8a8"/>
<rect x="101.33" y="868.2" width="6.1" height="5.6" fill="#ffd1d1"/>
<rect x="108.32" y="868.2" width="6.1" height="5.6" fill="#fff7f7"/>
<rect x="115.31" y="868.2" width="6.1" height="5.6" fill="#ffc7c7"/>
<rect x="122.3" y="868.2" width="6.1" height="5.6" fill="#ffd1d1"/>
<rect x="129.3" y="868.2" width="6.1" height="5.6" fill="#ff6666"/>
<rect x="136.29" y="868.2" width="6.1" height="5.6" fill="#ff7070"/>
<rect x="143.28" y="868.2" width="6.1" height="5.6" fill="#ff8080"/>
<rect x="150.28" y="868.2" width="6.1" height="5.6" fill="#ffe0e0"/>
<rect x="157.27" y="868.2" width="6.1" height="5.6" fill="#ffffff"/>
<rect x="164.26" y="868.2" width="6.1" height="5.6" fill="#b8b8ff"/>
<rect x="171.26" y="868.2" width="6.1" height="5.6" fill="#ffd9d9"/>
<rect x="178.25" y="868.2" width="6.1" height="5.6" fill="#f7f7ff"/>
<rect x="185.24" y="868.2" width="6.1" height="5.6" fill="#bfbfff"/>
<rect x="192.23" y="868.2" width="6.1" height="5.6" fill="#c4c4ff"/>
<rect x="199.23" y="868.2" width="6.1" height="5.6" fill="#b8b8ff"/>
<rect x="206.22" y="868.2" width="6.1" height="5.6" fill="#8f8fff"/>
<rect x="213.21" y="868.2" width="6.1" height="5.6" fill="#a1a1ff"/>
<rect x="220.21" y="868.2" width="6.1" height="5.6" fill="#bfbfff"/>
<rect x="227.2" y="868.2" width="6.1" height="5.6" fill="#b8b8ff"/>
<rect x="234.19" y="868.2" width="6.1" height="5.6" fill="#bfbfff"/>
<rect x="241.19" y="868.2" width="6.1" height="5.6" fill="#d9d9ff"/>
<rect x="248.18" y="868.2" width="6.1" height="5.6" fill="#e8e8ff"/>
<rect x="255.17" y="868.2" width="6.1" height="5.6" fill="#d9d9ff"/>
<rect x="262.16" y="868.2" width="6.1" height="5.6" fill="#f7f7ff"/>
<rect x="269.16" y="868.2" width="6.1" height="5.6" fill="#ffbfbf"/>
<rect x="276.15" y="868.2" width="6.1" height="5.6" fill="#ff7070"/>
<rect x="283.14" y="868.2" width="6.1" height="5.6" fill="#ff7878"/>
<rect x="290.14" y="868.2" width="6.1" height="5.6" fill="#ff6161"/>
<rect x="297.13" y="868.2" width="6.1" height="5.6" fill="#ff8080"/>
<rect x="304.12" y="868.2" width="6.1" height="5.6" fill="#ff7878"/>
<rect x="311.12" y="868.2" width="6.1" height="5.6" fill="#fff0f0"/>
<rect x="318.11" y="868.2" width="6.1" height="5.6" fill="#ffe8e8"/>
<rect x="325.1" y="868.2" width="6.1" height="5.6" fill="#ffbfbf"/>
<rect x="332.09" y="868.2" width="6.1" height="5.6" fill="#ffb8b8"/>
<rect x="339.09" y="868.2" width="6.1" height="5.6" fill="#ffb0b0"/>
<rect x="346.08" y="868.2" width="6.1" height="5.6" fill="#ffb8b8"/>
<rect x="353.07" y="868.2" width="6.1" height="5.6" fill="#ffd1d1"/>
<rect x="360.07" y="868.2" width="6.1" height="5.6" fill="#ffe8e8"/>
<rect x="367.06" y="868.2" width="6.1" height="5.6" fill="#ff8f8f"/>
<rect x="374.05" y="868.2" width="6.1" height="5.6" fill="#ffa1a1"/>
<rect x="381.05" y="868.2" width="6.1" height="5.6" fill="#ff8787"/>
<rect x="388.04" y="868.2" width="6.1" height="5.6" fill="#ff8080"/>
<rect x="395.03" y="868.2" width="6.1" height="5.6" fill="#ffa1a1"/>
<rect x="402.02" y="868.2" width="6.1" height="5.6" fill="#ff9999"/>
<rect x="409.02" y="868.2" width="6.1" height="5.6" fill="#ffd1d1"/>
<rect x="416.01" y="868.2" width="6.1" height="5.6" fill="#ffd9d9"/>
<rect x="423" y="868.2" width="6.1" height="5.6" fill="#ffbfbf"/>
<rect x="430" y="868.2" width="6.1" height="5.6" fill="#ffd1d1"/>
<rect x="436.99" y="868.2" width="6.1" height="5.6" fill="#ff8f8f"/>
<rect x="443.98" y="868.2" width="6.1" height="5.6" fill="#ffe0e0"/>
<rect x="450.98" y="868.2" width="6.1" height="5.6" fill="#ffa1a1"/>
<rect x="457.97" y="868.2" width="6.1" height="5.6" fill="#ff9999"/>
<rect x="464.96" y="868.2" width="6.1" height="5.6" fill="#ff8f8f"/>
<rect x="471.95" y="868.2" width="6.1" height="5.6" fill="#ff8787"/>
<rect x="478.95" y="868.2" width="6.1" height="5.6" fill="#ffa1a1"/>
<rect x="485.94" y="868.2" width="6.1" height="5.6" fill="#ffb0b0"/>
<rect x="492.93" y="868.2" width="6.1" height="5.6" fill="#ffa8a8"/>
<rect x="499.93" y="868.2" width="6.1" height="5.6" fill="#ffb8b8"/>
<rect x="506.92" y="868.2" width="6.1" height="5.6" fill="#ffc7c7"/>
<rect x="513.91" y="868.2" width="6.1" height="5.6" fill="#ffb0b0"/>
<rect x="520.91" y="868.2" width="6.1" height="5.6" fill="#ffbfbf"/>
<rect x="527.9" y="868.2" width="6.1" height="5.6" fill="#ffcccc"/>
<rect x="534.89" y="868.2" width="6.1" height="5.6" fill="#6161ff"/>
<rect x="541.88" y="868.2" width="6.1" height="5.6" fill="#d1d1ff"/>
<rect x="548.88" y="868.2" width="6.1" height="5.6" fill="#8f8fff"/>
<rect x="555.87" y="868.2" width="6.1" height="5.6" fill="#8787ff"/>
<rect x="562.86" y="868.2" width="6.1" height="5.6" fill="#9999ff"/>
<rect x="569.86" y="868.2" width="6.1" height="5.6" fill="#a1a1ff"/>
<rect x="576.85" y="868.2" width="6.1" height="5.6" fill="#ffffff"/>
<rect x="583.84" y="868.2" width="6.1" height="5.6" fill="#bfbfff"/>
<rect x="590.84" y="868.2" width="6.1" height="5.6" fill="#b8b8ff"/>
<rect x="597.83" y="868.2" width="6.1" height="5.6" fill="#a1a1ff"/>
<rect x="604.82" y="868.2" width="6.1" height="5.6" fill="#8787ff"/>
<rect x="611.81" y="868.2" width="6.1" height="5.6" fill="#8080ff"/>
<rect x="618.81" y="868.2" width="6.1" height="5.6" fill="#c7c7ff"/>
<rect x="625.8" y="868.2" width="6.1" height="5.6" fill="#d1d1ff"/>
<rect x="632.79" y="868.2" width="6.1" height="5.6" fill="#ffffff"/>
<rect x="639.79" y="868.2" width="6.1" height="5.6" fill="#d9d9ff"/>
<rect x="646.78" y="868.2" width="6.1" height="5.6" fill="#d1d1ff"/>
<rect x="653.77" y="868.2" width="6.1" height="5.6" fill="#bfbfff"/>
<rect x="660.77" y="868.2" width="6.1" height="5.6" fill="#a8a8ff"/>
<rect x="667.76" y="868.2" width="6.1" height="5.6" fill="#7070ff"/>
<rect x="674.75" y="868.2" width="6.1" height="5.6" fill="#6161ff"/>
<rect x="681.74" y="868.2" width="6.1" height="5.6" fill="#6666ff"/>
<rect x="688.74" y="868.2" width="6.1" height="5.6" fill="#7070ff"/>
<rect x="695.73" y="868.2" width="6.1" height="5.6" fill="#a1a1ff"/>
<rect x="702.72" y="868.2" width="6.1" height="5.6" fill="#8f8fff"/>
<rect x="709.72" y="868.2" width="6.1" height="5.6" fill="#7070ff"/>
<rect x="716.71" y="868.2" width="6.1" height="5.6" fill="#7878ff"/>
<rect x="723.7" y="868.2" width="6.1" height="5.6" fill="#7070ff"/>
<rect x="730.7" y="868.2" width="6.1" height="5.6" fill="#8787ff"/>
<rect x="737.69" y="868.2" width="6.1" height="5.6" fill="#b0b0ff"/>
<rect x="744.68" y="868.2" width="6.1" height="5.6" fill="#a8a8ff"/>
<path d="M104.38 874.4L104.38 878.11M111.37 874.4L111.37 878.11M104.38 878.11L111.37 878.11M107.87 878.11L107.87 879.7M118.36 874.4L118.36 879.7M107.87 879.7L118.36 879.7M113.12 879.7L113.12 882.16M125.35 874.4L125.35 882.16M113.12 882.16L125.35 882.16M119.24 882.16L119.24 884.64M132.35 874.4L132.35 884.64M119.24 884.64L132.35 884.64M139.34 874.4L139.34 878.54M146.33 874.4L146.33 878.54M139.34 878.54L146.33 878.54M142.84 878.54L142.84 881.05M153.33 874.4L153.33 881.05M142.84 881.05L153.33 881.05M125.79 884.64L125.79 888M148.08 881.05L148.08 888M125.79 888L148.08 888M174.31 874.4L174.31 876.61M181.3 874.4L181.3 876.61M174.31 876.61L181.3 876.61M177.8 876.61L177.8 877.77M188.29 874.4L188.29 877.77M177.8 877.77L188.29 877.77M167.31 874.4L167.31 878.86M183.05 877.77L183.05 878.86M167.31 878.86L183.05 878.86M160.32 874.4L160.32 880.67M175.18 878.86L175.18 880.67M160.32 880.67L175.18 880.67M167.75 880.67L167.75 883.28M195.28 874.4L195.28 883.28M167.75 883.28L195.28 883.28M209.27 874.4L209.27 877.96M216.26 874.4L216.26 877.96M209.27 877.96L216.26 877.96M202.28 874.4L202.28 879.69M212.77 877.96L212.77 879.69M202.28 879.69L212.77 879.69M223.26 874.4L223.26 878.52M230.25 874.4L230.25 878.52M223.26 878.52L230.25 878.52M207.52 879.69L207.52 882.39M226.75 878.52L226.75 882.39M207.52 882.39L226.75 882.39M181.52 883.28L181.52 887.32M217.14 882.39L217.14 887.32M181.52 887.32L217.14 887.32M237.24 874.4L237.24 878.15M244.24 874.4L244.24 878.15M237.24 878.15L244.24 878.15M240.74 878.15L240.74 880.6M251.23 874.4L251.23 880.6M240.74 880.6L251.23 880.6M258.22 874.4L258.22 878.95M265.21 874.4L265.21 878.95M258.22 878.95L265.21 878.95M245.98 880.6L245.98 883.24M261.72 878.95L261.72 883.24M245.98 883.24L261.72 883.24M199.33 887.32L199.33 890M253.85 883.24L253.85 890M199.33 890L253.85 890M136.94 888L136.94 895M226.59 890L226.59 895M136.94 895L226.59 895M293.19 874.4L293.19 876.36M300.18 874.4L300.18 876.36M293.19 876.36L300.18 876.36M286.19 874.4L286.19 877.22M296.68 876.36L296.68 877.22M286.19 877.22L296.68 877.22M291.44 877.22L291.44 878.31M307.17 874.4L307.17 878.31M291.44 878.31L307.17 878.31M279.2 874.4L279.2 879.52M299.31 878.31L299.31 879.52M279.2 879.52L299.31 879.52M272.21 874.4L272.21 881.38M289.25 879.52L289.25 881.38M272.21 881.38L289.25 881.38M335.14 874.4L335.14 876.3M342.14 874.4L342.14 876.3M335.14 876.3L342.14 876.3M328.15 874.4L328.15 877.2M338.64 876.3L338.64 877.2M328.15 877.2L338.64 877.2M333.4 877.2L333.4 878.57M349.13 874.4L349.13 878.57M333.4 878.57L349.13 878.57M321.16 874.4L321.16 880.33M341.26 878.57L341.26 880.33M321.16 880.33L341.26 880.33M314.17 874.4L314.17 881.22M331.21 880.33L331.21 881.22M314.17 881.22L331.21 881.22M356.12 874.4L356.12 876.8M363.12 874.4L363.12 876.8M356.12 876.8L363.12 876.8M359.62 876.8L359.62 877.8M370.11 874.4L370.11 877.8M359.62 877.8L370.11 877.8M364.86 877.8L364.86 878.73M377.1 874.4L377.1 878.73M364.86 878.73L377.1 878.73M384.1 874.4L384.1 876.78M391.09 874.4L391.09 876.78M384.1 876.78L391.09 876.78M405.07 874.4L405.07 876.79M412.07 874.4L412.07 876.79M405.07 876.79L412.07 876.79M398.08 874.4L398.08 878.14M408.57 876.79L408.57 878.14M398.08 878.14L408.57 878.14M387.59 876.78L387.59 879.46M403.33 878.14L403.33 879.46M387.59 879.46L403.33 879.46M370.98 878.73L370.98 882.18M395.46 879.46L395.46 882.18M370.98 882.18L395.46 882.18M322.69 881.22L322.69 886.28M383.22 882.18L383.22 886.28M322.69 886.28L383.22 886.28M280.73 881.38L280.73 889M352.95 886.28L352.95 889M280.73 889L352.95 889M419.06 874.4L419.06 876.66M426.05 874.4L426.05 876.66M419.06 876.66L426.05 876.66M422.56 876.66L422.56 877.8M433.05 874.4L433.05 877.8M422.56 877.8L433.05 877.8M427.8 877.8L427.8 879.2M440.04 874.4L440.04 879.2M427.8 879.2L440.04 879.2M433.92 879.2L433.92 881.02M447.03 874.4L447.03 881.02M433.92 881.02L447.03 881.02M454.03 874.4L454.03 876.4M461.02 874.4L461.02 876.4M454.03 876.4L461.02 876.4M457.52 876.4L457.52 877.59M468.01 874.4L468.01 877.59M457.52 877.59L468.01 877.59M482 874.4L482 877.01M488.99 874.4L488.99 877.01M482 877.01L488.99 877.01M475 874.4L475 877.93M485.49 877.01L485.49 877.93M475 877.93L485.49 877.93M462.77 877.59L462.77 879.76M480.25 877.93L480.25 879.76M462.77 879.76L480.25 879.76M502.98 874.4L502.98 877.38M509.97 874.4L509.97 877.38M502.98 877.38L509.97 877.38M495.98 874.4L495.98 878.56M506.47 877.38L506.47 878.56M495.98 878.56L506.47 878.56M523.96 874.4L523.96 877.25M530.95 874.4L530.95 877.25M523.96 877.25L530.95 877.25M516.96 874.4L516.96 878.41M527.45 877.25L527.45 878.41M516.96 878.41L527.45 878.41M501.23 878.56L501.23 880.61M522.21 878.41L522.21 880.61M501.23 880.61L522.21 880.61M471.51 879.76L471.51 883.7M511.72 880.61L511.72 883.7M471.51 883.7L511.72 883.7M440.48 881.02L440.48 888M491.61 883.7L491.61 888M440.48 888L491.61 888M316.84 889L316.84 893.5M466.04 888L466.04 893.5M316.84 893.5L466.04 893.5M544.93 874.4L544.93 877.73M551.93 874.4L551.93 877.73M544.93 877.73L551.93 877.73M537.94 874.4L537.94 879.78M548.43 877.73L548.43 879.78M537.94 879.78L548.43 879.78M558.92 874.4L558.92 877.53M565.91 874.4L565.91 877.53M558.92 877.53L565.91 877.53M562.42 877.53L562.42 878.68M572.91 874.4L572.91 878.68M562.42 878.68L572.91 878.68M567.66 878.68L567.66 880.37M579.9 874.4L579.9 880.37M567.66 880.37L579.9 880.37M543.19 879.78L543.19 884M573.78 880.37L573.78 884M543.19 884L573.78 884M593.89 874.4L593.89 876.2M600.88 874.4L600.88 876.2M593.89 876.2L600.88 876.2M586.89 874.4L586.89 877.17M597.38 876.2L597.38 877.17M586.89 877.17L597.38 877.17M592.14 877.17L592.14 877.86M607.87 874.4L607.87 877.86M592.14 877.86L607.87 877.86M621.86 874.4L621.86 876.06M628.85 874.4L628.85 876.06M621.86 876.06L628.85 876.06M614.86 874.4L614.86 877.09M625.35 876.06L625.35 877.09M614.86 877.09L625.35 877.09M635.84 874.4L635.84 876.05M642.84 874.4L642.84 876.05M635.84 876.05L642.84 876.05M649.83 874.4L649.83 876.15M656.82 874.4L656.82 876.15M649.83 876.15L656.82 876.15M653.33 876.15L653.33 876.86M663.82 874.4L663.82 876.86M653.33 876.86L663.82 876.86M639.34 876.05L639.34 877.78M658.57 876.86L658.57 877.78M639.34 877.78L658.57 877.78M620.11 877.09L620.11 879.39M648.96 877.78L648.96 879.39M620.11 879.39L648.96 879.39M600 877.86L600 880.84M634.53 879.39L634.53 880.84M600 880.84L634.53 880.84M677.8 874.4L677.8 876.2M684.79 874.4L684.79 876.2M677.8 876.2L684.79 876.2M670.81 874.4L670.81 876.96M681.3 876.2L681.3 876.96M670.81 876.96L681.3 876.96M691.79 874.4L691.79 876.25M698.78 874.4L698.78 876.25M691.79 876.25L698.78 876.25M676.05 876.96L676.05 877.87M695.28 876.25L695.28 877.87M676.05 877.87L695.28 877.87M705.77 874.4L705.77 876.26M712.77 874.4L712.77 876.26M705.77 876.26L712.77 876.26M719.76 874.4L719.76 876.23M726.75 874.4L726.75 876.23M719.76 876.23L726.75 876.23M733.75 874.4L733.75 875.95M740.74 874.4L740.74 875.95M733.75 875.95L740.74 875.95M737.24 875.95L737.24 876.47M747.73 874.4L747.73 876.47M737.24 876.47L747.73 876.47M723.26 876.23L723.26 877.61M742.49 876.47L742.49 877.61M723.26 877.61L742.49 877.61M709.27 876.26L709.27 878.38M732.87 877.61L732.87 878.38M709.27 878.38L732.87 878.38M685.67 877.87L685.67 880.38M721.07 878.38L721.07 880.38M685.67 880.38L721.07 880.38M617.27 880.84L617.27 883M703.37 880.38L703.37 883M617.27 883L703.37 883M558.48 884L558.48 891M660.32 883L660.32 891M558.48 891L660.32 891M391.44 893.5L391.44 895.6M609.4 891L609.4 895.6M391.44 895.6L609.4 895.6M181.76 895L181.76 896.4M500.42 895.6L500.42 896.4M181.76 896.4L500.42 896.4M97.38 874.4L97.38 897.6M341.09 896.4L341.09 897.6M97.38 897.6L341.09 897.6M90.39 874.4L90.39 899M219.24 897.6L219.24 899M90.39 899L219.24 899M83.4 874.4L83.4 900.4M154.81 899L154.81 900.4M83.4 900.4L154.81 900.4" stroke="#858585" stroke-width="0.7" fill="none" stroke-linecap="square"/>
<path d="M752.4 757.41L755.55 757.41M752.4 763.68L755.55 763.68M755.55 757.41L755.55 763.68M755.55 760.54L757.11 760.54M752.4 769.95L757.11 769.95M757.11 760.54L757.11 769.95M757.11 765.25L759.56 765.25M752.4 776.22L759.56 776.22M759.56 765.25L759.56 776.22M752.4 751.14L761 751.14M759.56 770.74L761 770.74M761 751.14L761 770.74M752.4 782.5L756.21 782.5M752.4 788.77L756.21 788.77M756.21 782.5L756.21 788.77M752.4 795.04L756.34 795.04M752.4 801.31L756.34 801.31M756.34 795.04L756.34 801.31M752.4 807.58L755.95 807.58M752.4 813.86L755.95 813.86M755.95 807.58L755.95 813.86M756.34 798.18L758.45 798.18M755.95 810.72L758.45 810.72M758.45 798.18L758.45 810.72M758.45 804.45L759.88 804.45M752.4 820.13L759.88 820.13M759.88 804.45L759.88 820.13M756.21 785.63L761.5 785.63M759.88 812.29L761.5 812.29M761.5 785.63L761.5 812.29M752.4 845.22L755.03 845.22M752.4 851.49L755.03 851.49M755.03 845.22L755.03 851.49M752.4 838.94L755.86 838.94M755.03 848.35L755.86 848.35M755.86 838.94L755.86 848.35M752.4 832.67L757.07 832.67M755.86 843.65L757.07 843.65M757.07 832.67L757.07 843.65M752.4 826.4L758.73 826.4M757.07 838.16L758.73 838.16M758.73 826.4L758.73 838.16M758.73 832.28L760 832.28M752.4 857.76L760 857.76M760 832.28L760 857.76M761.5 798.96L763 798.96M760 845.02L763 845.02M763 798.96L763 845.02M761 760.94L764.5 760.94M763 821.99L764.5 821.99M764.5 760.94L764.5 821.99" stroke="#b0b0b0" stroke-width="0.6" fill="none" stroke-linecap="square"/>
<path d="M269 725.3L269 905L533.8 905L533.8 725.3" stroke="#ff2d08" stroke-width="2.4" fill="none" stroke-linejoin="miter"/>
<path d="M267.8 725.3L535 725.3" stroke="#ff2d08" stroke-width="1.1" fill="none"/>
<path d="M533.8 725.3L533.8 905L751.2 905L751.2 725.3" stroke="#ff2d08" stroke-width="2.4" fill="none" stroke-linejoin="miter"/>
<path d="M532.6 725.3L752.4 725.3" stroke="#ff2d08" stroke-width="1.1" fill="none"/>
<defs><linearGradient id="zg913" x1="0" x2="1" y1="0" y2="0"><stop offset="0" stop-color="#14f014"/><stop offset="0.5" stop-color="#000"/><stop offset="1" stop-color="#f01010"/></linearGradient></defs>
<rect x="360.3" y="913" width="111.9" height="6.5" fill="url(#zg913)"/>
<rect x="415.9" y="913" width="0.7" height="6.5" fill="#ddd"/>
<text x="314.9" y="918.75" font-size="9.6" font-weight="700" textLength="33.5" lengthAdjust="spacingAndGlyphs">Z Score</text>
<text x="357.3" y="911.7" font-size="5.4" font-weight="700">-3</text>
<text x="471.2" y="911.7" font-size="5.4" font-weight="700">3</text>
<rect x="551.6" y="910.4" width="10.8" height="10" fill="#2fcf12"/>
<text x="565.2" y="919" font-size="9.6" font-weight="700" textLength="40.2" lengthAdjust="spacingAndGlyphs">Low Risk</text>
<rect x="653.6" y="910.4" width="10.8" height="10" fill="#b81404"/>
<text x="667.2" y="919" font-size="9.6" font-weight="700" textLength="42.6" lengthAdjust="spacingAndGlyphs">High Risk</text>
</svg>
</body></html>
